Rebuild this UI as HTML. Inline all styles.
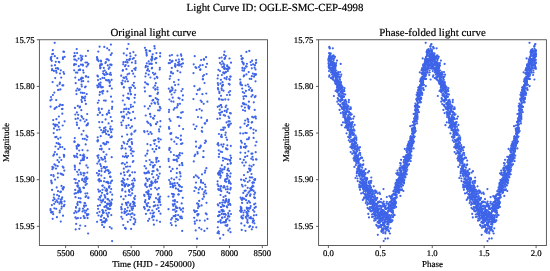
<!DOCTYPE html>
<html><head><meta charset="utf-8"><title>Light Curve ID: OGLE-SMC-CEP-4998</title>
<style>
html,body{margin:0;padding:0;background:#fff;width:550px;height:271px;overflow:hidden}
svg{display:block}
text{font-family:'Liberation Serif','Times New Roman',serif;fill:#000;stroke:#000;stroke-width:0.2px;text-rendering:geometricPrecision}
.st{font-size:10.85px}
.at{font-size:10.9px}
.tk{font-size:8.7px}
.lb{font-size:9px}
</style></head><body>
<svg width="550" height="271" viewBox="0 0 550 271"><defs><clipPath id="cl"><rect x="39.4" y="39.75" width="228.1" height="205.75"/></clipPath><clipPath id="cr"><rect x="318.6" y="39.75" width="227.79999999999995" height="205.75"/></clipPath></defs>
<g clip-path="url(#cl)">
<g fill="#3e64e8"><circle cx="62.7" cy="125.5" r="1.1"/><circle cx="54.1" cy="154.4" r="1.1"/><circle cx="56.2" cy="100.1" r="1.1"/><circle cx="61.5" cy="201.8" r="1.1"/><circle cx="50.8" cy="57.8" r="1.1"/><circle cx="61.9" cy="109.0" r="1.1"/><circle cx="54.0" cy="194.6" r="1.1"/><circle cx="50.6" cy="106.7" r="1.1"/><circle cx="60.3" cy="202.1" r="1.1"/><circle cx="52.0" cy="70.2" r="1.1"/><circle cx="60.8" cy="70.3" r="1.1"/><circle cx="59.3" cy="62.3" r="1.1"/><circle cx="63.1" cy="189.4" r="1.1"/><circle cx="64.5" cy="201.3" r="1.1"/><circle cx="60.3" cy="192.1" r="1.1"/><circle cx="53.7" cy="133.1" r="1.1"/><circle cx="60.7" cy="199.6" r="1.1"/><circle cx="64.6" cy="121.3" r="1.1"/><circle cx="61.1" cy="201.7" r="1.1"/><circle cx="53.8" cy="197.5" r="1.1"/><circle cx="64.7" cy="56.8" r="1.1"/><circle cx="63.5" cy="167.7" r="1.1"/><circle cx="52.8" cy="50.2" r="1.1"/><circle cx="53.3" cy="155.7" r="1.1"/><circle cx="63.8" cy="154.8" r="1.1"/><circle cx="60.5" cy="137.6" r="1.1"/><circle cx="57.8" cy="177.5" r="1.1"/><circle cx="58.4" cy="143.4" r="1.1"/><circle cx="53.4" cy="167.7" r="1.1"/><circle cx="54.8" cy="56.2" r="1.1"/><circle cx="52.1" cy="189.9" r="1.1"/><circle cx="58.6" cy="126.8" r="1.1"/><circle cx="58.3" cy="148.9" r="1.1"/><circle cx="54.4" cy="208.3" r="1.1"/><circle cx="59.6" cy="157.5" r="1.1"/><circle cx="54.8" cy="125.1" r="1.1"/><circle cx="62.5" cy="188.4" r="1.1"/><circle cx="51.4" cy="56.8" r="1.1"/><circle cx="61.1" cy="201.5" r="1.1"/><circle cx="54.9" cy="152.0" r="1.1"/><circle cx="64.0" cy="156.8" r="1.1"/><circle cx="56.6" cy="107.2" r="1.1"/><circle cx="60.9" cy="191.7" r="1.1"/><circle cx="64.6" cy="149.1" r="1.1"/><circle cx="61.3" cy="160.0" r="1.1"/><circle cx="55.2" cy="108.1" r="1.1"/><circle cx="62.5" cy="108.9" r="1.1"/><circle cx="50.8" cy="59.6" r="1.1"/><circle cx="60.0" cy="73.5" r="1.1"/><circle cx="51.2" cy="212.5" r="1.1"/><circle cx="52.3" cy="54.2" r="1.1"/><circle cx="64.2" cy="155.7" r="1.1"/><circle cx="53.1" cy="53.8" r="1.1"/><circle cx="55.8" cy="61.8" r="1.1"/><circle cx="56.8" cy="200.3" r="1.1"/><circle cx="55.1" cy="179.6" r="1.1"/><circle cx="60.2" cy="104.7" r="1.1"/><circle cx="54.6" cy="199.2" r="1.1"/><circle cx="57.7" cy="166.2" r="1.1"/><circle cx="59.9" cy="144.6" r="1.1"/><circle cx="52.0" cy="212.1" r="1.1"/><circle cx="55.7" cy="165.4" r="1.1"/><circle cx="56.5" cy="72.7" r="1.1"/><circle cx="57.3" cy="125.0" r="1.1"/><circle cx="58.0" cy="90.0" r="1.1"/><circle cx="58.9" cy="116.5" r="1.1"/><circle cx="62.3" cy="113.7" r="1.1"/><circle cx="62.1" cy="105.1" r="1.1"/><circle cx="55.5" cy="146.5" r="1.1"/><circle cx="52.4" cy="166.9" r="1.1"/><circle cx="51.2" cy="180.6" r="1.1"/><circle cx="55.3" cy="137.2" r="1.1"/><circle cx="58.0" cy="191.2" r="1.1"/><circle cx="57.0" cy="154.4" r="1.1"/><circle cx="55.9" cy="68.3" r="1.1"/><circle cx="50.5" cy="209.0" r="1.1"/><circle cx="59.1" cy="196.2" r="1.1"/><circle cx="53.6" cy="176.3" r="1.1"/><circle cx="51.8" cy="183.3" r="1.1"/><circle cx="53.4" cy="175.0" r="1.1"/><circle cx="57.6" cy="68.1" r="1.1"/><circle cx="51.7" cy="65.7" r="1.1"/><circle cx="56.0" cy="168.6" r="1.1"/><circle cx="55.0" cy="65.2" r="1.1"/><circle cx="57.7" cy="202.1" r="1.1"/><circle cx="58.8" cy="61.8" r="1.1"/><circle cx="55.4" cy="126.2" r="1.1"/><circle cx="63.2" cy="174.9" r="1.1"/><circle cx="63.0" cy="57.3" r="1.1"/><circle cx="54.2" cy="203.8" r="1.1"/><circle cx="64.4" cy="204.8" r="1.1"/><circle cx="57.9" cy="173.3" r="1.1"/><circle cx="56.6" cy="143.1" r="1.1"/><circle cx="54.0" cy="128.4" r="1.1"/><circle cx="51.6" cy="99.5" r="1.1"/><circle cx="59.8" cy="210.7" r="1.1"/><circle cx="52.4" cy="169.2" r="1.1"/><circle cx="52.6" cy="82.1" r="1.1"/><circle cx="56.7" cy="187.4" r="1.1"/><circle cx="54.4" cy="164.4" r="1.1"/><circle cx="63.9" cy="206.2" r="1.1"/><circle cx="59.9" cy="82.7" r="1.1"/><circle cx="51.9" cy="205.1" r="1.1"/><circle cx="61.5" cy="185.9" r="1.1"/><circle cx="56.2" cy="208.8" r="1.1"/><circle cx="51.0" cy="97.1" r="1.1"/><circle cx="56.4" cy="136.9" r="1.1"/><circle cx="59.0" cy="162.1" r="1.1"/><circle cx="52.2" cy="69.1" r="1.1"/><circle cx="51.8" cy="60.8" r="1.1"/><circle cx="53.9" cy="70.9" r="1.1"/><circle cx="50.9" cy="58.9" r="1.1"/><circle cx="61.4" cy="208.6" r="1.1"/><circle cx="60.8" cy="221.6" r="1.1"/><circle cx="54.5" cy="109.0" r="1.1"/><circle cx="60.1" cy="147.2" r="1.1"/><circle cx="57.4" cy="85.7" r="1.1"/><circle cx="52.8" cy="212.0" r="1.1"/><circle cx="62.8" cy="105.0" r="1.1"/><circle cx="58.7" cy="89.8" r="1.1"/><circle cx="51.5" cy="182.2" r="1.1"/><circle cx="59.0" cy="122.7" r="1.1"/><circle cx="62.3" cy="147.1" r="1.1"/><circle cx="62.9" cy="58.9" r="1.1"/><circle cx="50.4" cy="100.4" r="1.1"/><circle cx="53.2" cy="120.1" r="1.1"/><circle cx="57.5" cy="160.2" r="1.1"/><circle cx="64.1" cy="73.8" r="1.1"/><circle cx="63.7" cy="187.2" r="1.1"/><circle cx="60.6" cy="173.5" r="1.1"/><circle cx="57.3" cy="58.2" r="1.1"/><circle cx="61.2" cy="77.6" r="1.1"/><circle cx="56.9" cy="217.2" r="1.1"/><circle cx="51.1" cy="175.0" r="1.1"/><circle cx="61.8" cy="206.7" r="1.1"/><circle cx="64.0" cy="51.8" r="1.1"/><circle cx="59.7" cy="212.5" r="1.1"/><circle cx="54.3" cy="92.6" r="1.1"/><circle cx="63.4" cy="51.7" r="1.1"/><circle cx="51.3" cy="212.3" r="1.1"/><circle cx="52.7" cy="218.8" r="1.1"/><circle cx="55.6" cy="201.8" r="1.1"/><circle cx="59.4" cy="129.5" r="1.1"/><circle cx="63.6" cy="187.7" r="1.1"/><circle cx="61.7" cy="203.6" r="1.1"/><circle cx="50.6" cy="210.4" r="1.1"/><circle cx="59.4" cy="203.7" r="1.1"/><circle cx="57.1" cy="195.0" r="1.1"/><circle cx="55.2" cy="78.1" r="1.1"/><circle cx="58.6" cy="143.9" r="1.1"/><circle cx="63.5" cy="72.1" r="1.1"/><circle cx="59.2" cy="106.2" r="1.1"/><circle cx="62.0" cy="174.3" r="1.1"/><circle cx="63.3" cy="85.3" r="1.1"/><circle cx="52.9" cy="95.0" r="1.1"/><circle cx="57.1" cy="130.0" r="1.1"/><circle cx="62.4" cy="85.4" r="1.1"/><circle cx="53.0" cy="200.3" r="1.1"/><circle cx="61.4" cy="174.1" r="1.1"/><circle cx="60.4" cy="89.4" r="1.1"/><circle cx="56.4" cy="119.2" r="1.1"/><circle cx="53.2" cy="214.2" r="1.1"/><circle cx="58.2" cy="68.9" r="1.1"/><circle cx="62.2" cy="197.4" r="1.1"/><circle cx="53.5" cy="124.2" r="1.1"/><circle cx="59.6" cy="84.0" r="1.1"/><circle cx="54.7" cy="42.8" r="1.1"/><circle cx="63.0" cy="215.7" r="1.1"/><circle cx="56.1" cy="70.9" r="1.1"/><circle cx="55.8" cy="124.7" r="1.1"/><circle cx="58.2" cy="138.8" r="1.1"/><circle cx="58.5" cy="198.6" r="1.1"/><circle cx="62.7" cy="166.7" r="1.1"/><circle cx="64.3" cy="170.6" r="1.1"/><circle cx="61.8" cy="199.0" r="1.1"/><circle cx="88.0" cy="123.3" r="1.1"/><circle cx="75.2" cy="189.9" r="1.1"/><circle cx="75.0" cy="107.9" r="1.1"/><circle cx="87.9" cy="214.6" r="1.1"/><circle cx="75.9" cy="64.3" r="1.1"/><circle cx="81.0" cy="78.5" r="1.1"/><circle cx="74.8" cy="138.1" r="1.1"/><circle cx="86.4" cy="125.5" r="1.1"/><circle cx="86.0" cy="181.0" r="1.1"/><circle cx="85.6" cy="185.0" r="1.1"/><circle cx="75.3" cy="77.6" r="1.1"/><circle cx="80.1" cy="69.9" r="1.1"/><circle cx="76.9" cy="148.7" r="1.1"/><circle cx="77.8" cy="202.1" r="1.1"/><circle cx="82.8" cy="64.5" r="1.1"/><circle cx="87.8" cy="65.0" r="1.1"/><circle cx="74.4" cy="179.1" r="1.1"/><circle cx="79.0" cy="181.1" r="1.1"/><circle cx="85.7" cy="144.4" r="1.1"/><circle cx="75.3" cy="114.5" r="1.1"/><circle cx="77.1" cy="53.1" r="1.1"/><circle cx="74.5" cy="141.9" r="1.1"/><circle cx="85.4" cy="193.5" r="1.1"/><circle cx="83.4" cy="173.1" r="1.1"/><circle cx="86.2" cy="196.1" r="1.1"/><circle cx="84.3" cy="218.0" r="1.1"/><circle cx="88.2" cy="77.2" r="1.1"/><circle cx="84.6" cy="98.5" r="1.1"/><circle cx="88.2" cy="81.5" r="1.1"/><circle cx="80.0" cy="106.7" r="1.1"/><circle cx="77.3" cy="203.8" r="1.1"/><circle cx="86.6" cy="66.6" r="1.1"/><circle cx="87.3" cy="172.6" r="1.1"/><circle cx="83.3" cy="187.5" r="1.1"/><circle cx="84.7" cy="217.9" r="1.1"/><circle cx="87.1" cy="157.9" r="1.1"/><circle cx="74.3" cy="59.5" r="1.1"/><circle cx="78.5" cy="145.4" r="1.1"/><circle cx="81.8" cy="86.4" r="1.1"/><circle cx="77.1" cy="153.8" r="1.1"/><circle cx="83.8" cy="154.6" r="1.1"/><circle cx="85.5" cy="62.5" r="1.1"/><circle cx="81.0" cy="64.7" r="1.1"/><circle cx="76.6" cy="60.6" r="1.1"/><circle cx="82.6" cy="211.4" r="1.1"/><circle cx="74.6" cy="193.7" r="1.1"/><circle cx="75.4" cy="217.4" r="1.1"/><circle cx="87.0" cy="62.5" r="1.1"/><circle cx="80.9" cy="160.6" r="1.1"/><circle cx="77.9" cy="118.4" r="1.1"/><circle cx="84.0" cy="157.9" r="1.1"/><circle cx="82.4" cy="178.8" r="1.1"/><circle cx="79.0" cy="128.2" r="1.1"/><circle cx="74.1" cy="155.8" r="1.1"/><circle cx="78.4" cy="211.3" r="1.1"/><circle cx="86.7" cy="94.1" r="1.1"/><circle cx="81.1" cy="60.5" r="1.1"/><circle cx="83.7" cy="216.2" r="1.1"/><circle cx="74.0" cy="56.4" r="1.1"/><circle cx="82.9" cy="78.1" r="1.1"/><circle cx="85.1" cy="203.3" r="1.1"/><circle cx="88.0" cy="50.8" r="1.1"/><circle cx="87.6" cy="218.1" r="1.1"/><circle cx="79.8" cy="201.8" r="1.1"/><circle cx="82.0" cy="96.9" r="1.1"/><circle cx="76.6" cy="146.2" r="1.1"/><circle cx="86.3" cy="177.1" r="1.1"/><circle cx="77.4" cy="185.7" r="1.1"/><circle cx="80.8" cy="92.6" r="1.1"/><circle cx="76.9" cy="112.4" r="1.1"/><circle cx="76.8" cy="122.7" r="1.1"/><circle cx="86.8" cy="214.0" r="1.1"/><circle cx="77.0" cy="124.9" r="1.1"/><circle cx="86.5" cy="119.9" r="1.1"/><circle cx="79.3" cy="210.4" r="1.1"/><circle cx="81.6" cy="134.4" r="1.1"/><circle cx="78.1" cy="185.6" r="1.1"/><circle cx="80.4" cy="120.4" r="1.1"/><circle cx="76.3" cy="90.7" r="1.1"/><circle cx="86.2" cy="210.7" r="1.1"/><circle cx="85.8" cy="56.0" r="1.1"/><circle cx="79.6" cy="107.4" r="1.1"/><circle cx="75.6" cy="182.9" r="1.1"/><circle cx="76.8" cy="148.0" r="1.1"/><circle cx="75.5" cy="197.2" r="1.1"/><circle cx="85.8" cy="76.3" r="1.1"/><circle cx="78.3" cy="174.7" r="1.1"/><circle cx="84.8" cy="138.9" r="1.1"/><circle cx="82.7" cy="158.3" r="1.1"/><circle cx="87.2" cy="114.0" r="1.1"/><circle cx="76.0" cy="193.2" r="1.1"/><circle cx="87.5" cy="124.9" r="1.1"/><circle cx="84.3" cy="206.7" r="1.1"/><circle cx="75.7" cy="229.4" r="1.1"/><circle cx="86.4" cy="165.4" r="1.1"/><circle cx="84.1" cy="205.5" r="1.1"/><circle cx="75.6" cy="118.9" r="1.1"/><circle cx="76.7" cy="49.1" r="1.1"/><circle cx="84.8" cy="121.5" r="1.1"/><circle cx="83.3" cy="97.6" r="1.1"/><circle cx="82.3" cy="160.0" r="1.1"/><circle cx="87.2" cy="124.5" r="1.1"/><circle cx="83.6" cy="72.6" r="1.1"/><circle cx="83.2" cy="81.1" r="1.1"/><circle cx="86.9" cy="178.9" r="1.1"/><circle cx="87.4" cy="136.9" r="1.1"/><circle cx="82.2" cy="97.9" r="1.1"/><circle cx="79.9" cy="163.4" r="1.1"/><circle cx="83.5" cy="130.8" r="1.1"/><circle cx="79.9" cy="69.5" r="1.1"/><circle cx="80.5" cy="198.4" r="1.1"/><circle cx="75.5" cy="211.1" r="1.1"/><circle cx="74.8" cy="156.9" r="1.1"/><circle cx="75.2" cy="55.8" r="1.1"/><circle cx="78.3" cy="191.9" r="1.1"/><circle cx="80.2" cy="225.5" r="1.1"/><circle cx="86.4" cy="135.5" r="1.1"/><circle cx="80.6" cy="55.6" r="1.1"/><circle cx="86.0" cy="205.6" r="1.1"/><circle cx="82.1" cy="180.1" r="1.1"/><circle cx="78.7" cy="198.0" r="1.1"/><circle cx="86.8" cy="183.8" r="1.1"/><circle cx="78.0" cy="192.6" r="1.1"/><circle cx="74.4" cy="64.2" r="1.1"/><circle cx="81.1" cy="174.3" r="1.1"/><circle cx="81.2" cy="79.6" r="1.1"/><circle cx="80.2" cy="191.7" r="1.1"/><circle cx="88.4" cy="197.3" r="1.1"/><circle cx="81.5" cy="84.5" r="1.1"/><circle cx="79.2" cy="150.5" r="1.1"/><circle cx="85.3" cy="226.0" r="1.1"/><circle cx="83.9" cy="181.4" r="1.1"/><circle cx="79.5" cy="187.8" r="1.1"/><circle cx="77.8" cy="105.9" r="1.1"/><circle cx="85.2" cy="212.7" r="1.1"/><circle cx="77.6" cy="186.6" r="1.1"/><circle cx="80.1" cy="189.5" r="1.1"/><circle cx="84.5" cy="156.5" r="1.1"/><circle cx="77.9" cy="218.1" r="1.1"/><circle cx="81.3" cy="57.8" r="1.1"/><circle cx="79.3" cy="228.8" r="1.1"/><circle cx="79.1" cy="169.8" r="1.1"/><circle cx="78.7" cy="70.2" r="1.1"/><circle cx="88.3" cy="198.1" r="1.1"/><circle cx="88.4" cy="214.4" r="1.1"/><circle cx="74.9" cy="167.0" r="1.1"/><circle cx="83.1" cy="159.8" r="1.1"/><circle cx="76.5" cy="212.4" r="1.1"/><circle cx="83.7" cy="175.5" r="1.1"/><circle cx="74.5" cy="141.4" r="1.1"/><circle cx="87.6" cy="150.5" r="1.1"/><circle cx="85.0" cy="100.5" r="1.1"/><circle cx="81.7" cy="81.4" r="1.1"/><circle cx="82.9" cy="65.5" r="1.1"/><circle cx="84.2" cy="93.0" r="1.1"/><circle cx="78.8" cy="90.1" r="1.1"/><circle cx="85.9" cy="103.9" r="1.1"/><circle cx="84.7" cy="179.5" r="1.1"/><circle cx="82.4" cy="56.3" r="1.1"/><circle cx="82.5" cy="150.1" r="1.1"/><circle cx="78.2" cy="145.8" r="1.1"/><circle cx="75.8" cy="179.5" r="1.1"/><circle cx="85.3" cy="182.4" r="1.1"/><circle cx="82.5" cy="92.9" r="1.1"/><circle cx="84.0" cy="187.9" r="1.1"/><circle cx="81.3" cy="110.2" r="1.1"/><circle cx="77.5" cy="88.5" r="1.1"/><circle cx="77.3" cy="157.3" r="1.1"/><circle cx="78.5" cy="190.5" r="1.1"/><circle cx="86.1" cy="76.4" r="1.1"/><circle cx="78.6" cy="58.6" r="1.1"/><circle cx="74.0" cy="65.1" r="1.1"/><circle cx="74.7" cy="165.7" r="1.1"/><circle cx="87.3" cy="193.3" r="1.1"/><circle cx="85.5" cy="197.0" r="1.1"/><circle cx="88.4" cy="63.8" r="1.1"/><circle cx="83.6" cy="155.8" r="1.1"/><circle cx="84.4" cy="210.6" r="1.1"/><circle cx="81.8" cy="77.7" r="1.1"/><circle cx="82.8" cy="138.8" r="1.1"/><circle cx="80.3" cy="155.0" r="1.1"/><circle cx="86.7" cy="139.8" r="1.1"/><circle cx="87.8" cy="167.6" r="1.1"/><circle cx="81.4" cy="100.0" r="1.1"/><circle cx="88.1" cy="233.5" r="1.1"/><circle cx="79.2" cy="145.3" r="1.1"/><circle cx="76.3" cy="156.0" r="1.1"/><circle cx="84.5" cy="203.0" r="1.1"/><circle cx="75.9" cy="72.5" r="1.1"/><circle cx="75.1" cy="59.5" r="1.1"/><circle cx="79.5" cy="208.7" r="1.1"/><circle cx="79.7" cy="89.4" r="1.1"/><circle cx="76.0" cy="207.7" r="1.1"/><circle cx="76.1" cy="207.2" r="1.1"/><circle cx="83.1" cy="70.3" r="1.1"/><circle cx="76.5" cy="94.1" r="1.1"/><circle cx="82.0" cy="117.1" r="1.1"/><circle cx="77.2" cy="171.8" r="1.1"/><circle cx="77.3" cy="72.7" r="1.1"/><circle cx="85.7" cy="86.5" r="1.1"/><circle cx="79.7" cy="191.0" r="1.1"/><circle cx="85.1" cy="178.3" r="1.1"/><circle cx="81.9" cy="101.9" r="1.1"/><circle cx="79.4" cy="188.3" r="1.1"/><circle cx="87.7" cy="209.2" r="1.1"/><circle cx="81.6" cy="59.4" r="1.1"/><circle cx="80.7" cy="218.0" r="1.1"/><circle cx="75.7" cy="83.2" r="1.1"/><circle cx="83.0" cy="208.7" r="1.1"/><circle cx="84.6" cy="173.4" r="1.1"/><circle cx="76.4" cy="218.6" r="1.1"/><circle cx="74.2" cy="70.3" r="1.1"/><circle cx="80.4" cy="192.3" r="1.1"/><circle cx="80.5" cy="202.4" r="1.1"/><circle cx="81.4" cy="116.0" r="1.1"/><circle cx="82.1" cy="59.0" r="1.1"/><circle cx="78.9" cy="79.9" r="1.1"/><circle cx="85.2" cy="96.7" r="1.1"/><circle cx="75.0" cy="169.4" r="1.1"/><circle cx="78.2" cy="114.8" r="1.1"/><circle cx="87.0" cy="215.4" r="1.1"/><circle cx="74.6" cy="53.1" r="1.1"/><circle cx="76.2" cy="223.9" r="1.1"/><circle cx="77.7" cy="205.0" r="1.1"/><circle cx="87.5" cy="178.5" r="1.1"/><circle cx="83.4" cy="118.8" r="1.1"/><circle cx="82.6" cy="155.5" r="1.1"/><circle cx="77.5" cy="183.2" r="1.1"/><circle cx="85.0" cy="87.3" r="1.1"/><circle cx="80.8" cy="191.5" r="1.1"/><circle cx="74.2" cy="213.1" r="1.1"/><circle cx="80.6" cy="172.6" r="1.1"/><circle cx="78.0" cy="144.7" r="1.1"/><circle cx="83.9" cy="159.8" r="1.1"/><circle cx="78.8" cy="66.2" r="1.1"/><circle cx="105.4" cy="63.1" r="1.1"/><circle cx="97.1" cy="221.8" r="1.1"/><circle cx="106.0" cy="80.1" r="1.1"/><circle cx="101.8" cy="64.2" r="1.1"/><circle cx="101.0" cy="216.7" r="1.1"/><circle cx="100.4" cy="79.0" r="1.1"/><circle cx="101.8" cy="108.9" r="1.1"/><circle cx="107.1" cy="203.8" r="1.1"/><circle cx="106.4" cy="74.3" r="1.1"/><circle cx="98.4" cy="180.1" r="1.1"/><circle cx="110.5" cy="183.2" r="1.1"/><circle cx="104.3" cy="46.9" r="1.1"/><circle cx="104.7" cy="75.1" r="1.1"/><circle cx="110.1" cy="64.6" r="1.1"/><circle cx="106.1" cy="72.4" r="1.1"/><circle cx="109.0" cy="110.5" r="1.1"/><circle cx="106.3" cy="205.8" r="1.1"/><circle cx="112.3" cy="129.3" r="1.1"/><circle cx="111.6" cy="228.4" r="1.1"/><circle cx="107.0" cy="80.3" r="1.1"/><circle cx="102.0" cy="91.7" r="1.1"/><circle cx="104.0" cy="100.5" r="1.1"/><circle cx="109.0" cy="186.5" r="1.1"/><circle cx="110.5" cy="72.8" r="1.1"/><circle cx="98.0" cy="76.5" r="1.1"/><circle cx="106.9" cy="114.2" r="1.1"/><circle cx="111.0" cy="96.7" r="1.1"/><circle cx="98.1" cy="208.8" r="1.1"/><circle cx="97.0" cy="57.2" r="1.1"/><circle cx="97.6" cy="59.5" r="1.1"/><circle cx="106.8" cy="141.9" r="1.1"/><circle cx="107.7" cy="208.7" r="1.1"/><circle cx="103.7" cy="130.5" r="1.1"/><circle cx="104.2" cy="74.3" r="1.1"/><circle cx="99.4" cy="181.4" r="1.1"/><circle cx="106.3" cy="182.2" r="1.1"/><circle cx="98.2" cy="189.6" r="1.1"/><circle cx="111.2" cy="132.2" r="1.1"/><circle cx="105.1" cy="131.9" r="1.1"/><circle cx="100.5" cy="67.5" r="1.1"/><circle cx="103.1" cy="73.5" r="1.1"/><circle cx="100.4" cy="64.3" r="1.1"/><circle cx="104.3" cy="78.2" r="1.1"/><circle cx="110.6" cy="126.5" r="1.1"/><circle cx="112.0" cy="108.8" r="1.1"/><circle cx="112.1" cy="180.5" r="1.1"/><circle cx="99.7" cy="197.0" r="1.1"/><circle cx="98.8" cy="108.4" r="1.1"/><circle cx="100.9" cy="166.1" r="1.1"/><circle cx="109.9" cy="206.0" r="1.1"/><circle cx="99.6" cy="94.8" r="1.1"/><circle cx="97.5" cy="140.5" r="1.1"/><circle cx="107.5" cy="74.0" r="1.1"/><circle cx="106.4" cy="154.6" r="1.1"/><circle cx="103.2" cy="90.9" r="1.1"/><circle cx="110.7" cy="117.1" r="1.1"/><circle cx="107.4" cy="91.4" r="1.1"/><circle cx="109.1" cy="187.7" r="1.1"/><circle cx="100.6" cy="220.0" r="1.1"/><circle cx="110.7" cy="129.8" r="1.1"/><circle cx="110.3" cy="204.0" r="1.1"/><circle cx="97.3" cy="58.4" r="1.1"/><circle cx="108.4" cy="171.0" r="1.1"/><circle cx="107.8" cy="203.6" r="1.1"/><circle cx="111.5" cy="65.1" r="1.1"/><circle cx="100.0" cy="65.9" r="1.1"/><circle cx="102.0" cy="222.3" r="1.1"/><circle cx="111.2" cy="64.5" r="1.1"/><circle cx="106.6" cy="59.3" r="1.1"/><circle cx="98.8" cy="100.5" r="1.1"/><circle cx="106.9" cy="114.5" r="1.1"/><circle cx="108.0" cy="216.6" r="1.1"/><circle cx="106.1" cy="219.2" r="1.1"/><circle cx="107.4" cy="193.7" r="1.1"/><circle cx="111.6" cy="79.8" r="1.1"/><circle cx="103.0" cy="212.0" r="1.1"/><circle cx="107.6" cy="215.1" r="1.1"/><circle cx="109.4" cy="203.7" r="1.1"/><circle cx="105.7" cy="129.9" r="1.1"/><circle cx="109.6" cy="82.7" r="1.1"/><circle cx="109.1" cy="134.8" r="1.1"/><circle cx="110.9" cy="44.6" r="1.1"/><circle cx="103.9" cy="167.1" r="1.1"/><circle cx="108.1" cy="80.6" r="1.1"/><circle cx="99.6" cy="46.7" r="1.1"/><circle cx="106.2" cy="133.9" r="1.1"/><circle cx="101.5" cy="149.6" r="1.1"/><circle cx="110.8" cy="54.9" r="1.1"/><circle cx="110.0" cy="85.7" r="1.1"/><circle cx="102.1" cy="200.7" r="1.1"/><circle cx="106.7" cy="190.9" r="1.1"/><circle cx="97.9" cy="205.8" r="1.1"/><circle cx="98.5" cy="199.3" r="1.1"/><circle cx="104.7" cy="70.5" r="1.1"/><circle cx="105.6" cy="190.4" r="1.1"/><circle cx="111.2" cy="189.1" r="1.1"/><circle cx="98.0" cy="80.1" r="1.1"/><circle cx="103.4" cy="143.4" r="1.1"/><circle cx="103.0" cy="159.6" r="1.1"/><circle cx="109.5" cy="200.8" r="1.1"/><circle cx="107.9" cy="131.3" r="1.1"/><circle cx="108.2" cy="142.3" r="1.1"/><circle cx="109.8" cy="227.0" r="1.1"/><circle cx="105.3" cy="197.7" r="1.1"/><circle cx="98.8" cy="110.0" r="1.1"/><circle cx="105.9" cy="62.0" r="1.1"/><circle cx="101.2" cy="157.8" r="1.1"/><circle cx="110.6" cy="176.9" r="1.1"/><circle cx="108.4" cy="134.8" r="1.1"/><circle cx="102.3" cy="122.2" r="1.1"/><circle cx="102.6" cy="93.4" r="1.1"/><circle cx="100.5" cy="200.4" r="1.1"/><circle cx="101.1" cy="61.5" r="1.1"/><circle cx="97.4" cy="59.9" r="1.1"/><circle cx="103.5" cy="132.0" r="1.1"/><circle cx="106.6" cy="213.3" r="1.1"/><circle cx="97.2" cy="85.5" r="1.1"/><circle cx="111.5" cy="137.1" r="1.1"/><circle cx="111.3" cy="181.3" r="1.1"/><circle cx="101.0" cy="180.9" r="1.1"/><circle cx="99.9" cy="112.7" r="1.1"/><circle cx="99.8" cy="112.5" r="1.1"/><circle cx="99.3" cy="179.2" r="1.1"/><circle cx="104.4" cy="206.9" r="1.1"/><circle cx="105.5" cy="206.4" r="1.1"/><circle cx="106.8" cy="207.4" r="1.1"/><circle cx="99.1" cy="174.0" r="1.1"/><circle cx="98.5" cy="215.5" r="1.1"/><circle cx="110.3" cy="208.8" r="1.1"/><circle cx="101.4" cy="87.4" r="1.1"/><circle cx="107.5" cy="199.2" r="1.1"/><circle cx="99.3" cy="170.9" r="1.1"/><circle cx="101.5" cy="202.5" r="1.1"/><circle cx="99.5" cy="160.1" r="1.1"/><circle cx="103.5" cy="221.6" r="1.1"/><circle cx="110.2" cy="203.8" r="1.1"/><circle cx="97.6" cy="141.5" r="1.1"/><circle cx="105.9" cy="170.5" r="1.1"/><circle cx="107.2" cy="193.7" r="1.1"/><circle cx="106.5" cy="188.8" r="1.1"/><circle cx="109.7" cy="74.3" r="1.1"/><circle cx="100.2" cy="68.3" r="1.1"/><circle cx="104.8" cy="156.9" r="1.1"/><circle cx="109.6" cy="186.3" r="1.1"/><circle cx="99.0" cy="170.8" r="1.1"/><circle cx="112.0" cy="199.7" r="1.1"/><circle cx="110.2" cy="172.4" r="1.1"/><circle cx="99.5" cy="211.8" r="1.1"/><circle cx="97.3" cy="163.6" r="1.1"/><circle cx="110.9" cy="205.2" r="1.1"/><circle cx="111.1" cy="202.4" r="1.1"/><circle cx="104.5" cy="195.0" r="1.1"/><circle cx="105.8" cy="210.5" r="1.1"/><circle cx="103.1" cy="212.9" r="1.1"/><circle cx="97.4" cy="155.8" r="1.1"/><circle cx="108.2" cy="199.4" r="1.1"/><circle cx="99.2" cy="122.1" r="1.1"/><circle cx="98.3" cy="175.4" r="1.1"/><circle cx="108.6" cy="123.4" r="1.1"/><circle cx="104.8" cy="171.9" r="1.1"/><circle cx="105.2" cy="196.5" r="1.1"/><circle cx="102.7" cy="185.5" r="1.1"/><circle cx="103.3" cy="71.3" r="1.1"/><circle cx="101.9" cy="215.4" r="1.1"/><circle cx="100.3" cy="164.2" r="1.1"/><circle cx="98.6" cy="61.1" r="1.1"/><circle cx="110.0" cy="176.7" r="1.1"/><circle cx="112.1" cy="241.1" r="1.1"/><circle cx="100.0" cy="205.2" r="1.1"/><circle cx="109.2" cy="209.1" r="1.1"/><circle cx="103.8" cy="212.5" r="1.1"/><circle cx="107.3" cy="181.9" r="1.1"/><circle cx="98.7" cy="161.6" r="1.1"/><circle cx="101.6" cy="168.6" r="1.1"/><circle cx="100.1" cy="191.1" r="1.1"/><circle cx="97.7" cy="137.3" r="1.1"/><circle cx="106.2" cy="143.9" r="1.1"/><circle cx="100.8" cy="60.6" r="1.1"/><circle cx="102.5" cy="77.8" r="1.1"/><circle cx="100.7" cy="136.2" r="1.1"/><circle cx="102.4" cy="185.8" r="1.1"/><circle cx="112.3" cy="101.7" r="1.1"/><circle cx="100.3" cy="85.0" r="1.1"/><circle cx="109.2" cy="50.1" r="1.1"/><circle cx="108.9" cy="173.3" r="1.1"/><circle cx="108.7" cy="68.8" r="1.1"/><circle cx="98.3" cy="51.6" r="1.1"/><circle cx="107.7" cy="59.3" r="1.1"/><circle cx="111.8" cy="53.3" r="1.1"/><circle cx="105.0" cy="221.4" r="1.1"/><circle cx="107.2" cy="48.3" r="1.1"/><circle cx="99.9" cy="149.1" r="1.1"/><circle cx="109.3" cy="113.0" r="1.1"/><circle cx="108.6" cy="208.4" r="1.1"/><circle cx="111.9" cy="121.1" r="1.1"/><circle cx="112.2" cy="194.7" r="1.1"/><circle cx="103.6" cy="151.9" r="1.1"/><circle cx="102.0" cy="192.8" r="1.1"/><circle cx="102.5" cy="115.1" r="1.1"/><circle cx="105.6" cy="119.4" r="1.1"/><circle cx="107.8" cy="65.4" r="1.1"/><circle cx="101.7" cy="148.5" r="1.1"/><circle cx="102.2" cy="159.4" r="1.1"/><circle cx="100.1" cy="197.7" r="1.1"/><circle cx="109.5" cy="67.4" r="1.1"/><circle cx="108.3" cy="183.3" r="1.1"/><circle cx="111.7" cy="136.3" r="1.1"/><circle cx="104.6" cy="167.2" r="1.1"/><circle cx="106.6" cy="220.4" r="1.1"/><circle cx="99.1" cy="83.5" r="1.1"/><circle cx="99.7" cy="127.5" r="1.1"/><circle cx="101.3" cy="175.6" r="1.1"/><circle cx="100.8" cy="145.9" r="1.1"/><circle cx="108.8" cy="80.2" r="1.1"/><circle cx="109.6" cy="86.1" r="1.1"/><circle cx="98.2" cy="157.8" r="1.1"/><circle cx="105.5" cy="161.4" r="1.1"/><circle cx="101.2" cy="195.7" r="1.1"/><circle cx="104.1" cy="128.2" r="1.1"/><circle cx="105.0" cy="158.7" r="1.1"/><circle cx="101.1" cy="130.0" r="1.1"/><circle cx="98.7" cy="86.9" r="1.1"/><circle cx="102.9" cy="200.8" r="1.1"/><circle cx="108.0" cy="204.3" r="1.1"/><circle cx="110.4" cy="137.3" r="1.1"/><circle cx="102.5" cy="189.8" r="1.1"/><circle cx="97.8" cy="102.8" r="1.1"/><circle cx="105.7" cy="100.7" r="1.1"/><circle cx="103.7" cy="167.3" r="1.1"/><circle cx="102.3" cy="210.1" r="1.1"/><circle cx="104.5" cy="178.0" r="1.1"/><circle cx="97.7" cy="87.3" r="1.1"/><circle cx="107.1" cy="190.1" r="1.1"/><circle cx="111.0" cy="74.8" r="1.1"/><circle cx="109.8" cy="81.3" r="1.1"/><circle cx="108.0" cy="182.3" r="1.1"/><circle cx="104.0" cy="227.2" r="1.1"/><circle cx="98.9" cy="191.7" r="1.1"/><circle cx="99.9" cy="92.2" r="1.1"/><circle cx="98.5" cy="155.4" r="1.1"/><circle cx="110.4" cy="192.2" r="1.1"/><circle cx="109.3" cy="149.0" r="1.1"/><circle cx="105.4" cy="127.3" r="1.1"/><circle cx="104.9" cy="144.4" r="1.1"/><circle cx="102.8" cy="210.5" r="1.1"/><circle cx="102.2" cy="224.9" r="1.1"/><circle cx="98.1" cy="140.3" r="1.1"/><circle cx="100.6" cy="82.7" r="1.1"/><circle cx="105.1" cy="202.2" r="1.1"/><circle cx="97.2" cy="213.1" r="1.1"/><circle cx="111.3" cy="215.1" r="1.1"/><circle cx="111.7" cy="157.2" r="1.1"/><circle cx="96.9" cy="173.1" r="1.1"/><circle cx="108.5" cy="170.6" r="1.1"/><circle cx="108.3" cy="182.6" r="1.1"/><circle cx="108.5" cy="112.4" r="1.1"/><circle cx="112.2" cy="106.9" r="1.1"/><circle cx="99.0" cy="84.8" r="1.1"/><circle cx="103.6" cy="143.1" r="1.1"/><circle cx="101.7" cy="64.8" r="1.1"/><circle cx="107.6" cy="170.0" r="1.1"/><circle cx="104.4" cy="187.6" r="1.1"/><circle cx="110.1" cy="128.6" r="1.1"/><circle cx="97.8" cy="114.9" r="1.1"/><circle cx="102.6" cy="132.5" r="1.1"/><circle cx="99.2" cy="179.5" r="1.1"/><circle cx="100.8" cy="86.6" r="1.1"/><circle cx="103.4" cy="222.0" r="1.1"/><circle cx="101.4" cy="220.0" r="1.1"/><circle cx="105.3" cy="168.3" r="1.1"/><circle cx="103.8" cy="67.8" r="1.1"/><circle cx="102.9" cy="212.6" r="1.1"/><circle cx="104.1" cy="218.1" r="1.1"/><circle cx="104.9" cy="222.5" r="1.1"/><circle cx="104.0" cy="181.3" r="1.1"/><circle cx="103.3" cy="199.6" r="1.1"/><circle cx="97.4" cy="75.7" r="1.1"/><circle cx="106.8" cy="167.1" r="1.1"/><circle cx="108.9" cy="212.8" r="1.1"/><circle cx="102.8" cy="87.2" r="1.1"/><circle cx="111.8" cy="88.6" r="1.1"/><circle cx="111.4" cy="203.8" r="1.1"/><circle cx="105.8" cy="220.7" r="1.1"/><circle cx="101.5" cy="171.1" r="1.1"/><circle cx="108.8" cy="60.3" r="1.1"/><circle cx="126.8" cy="79.1" r="1.1"/><circle cx="121.9" cy="84.2" r="1.1"/><circle cx="127.4" cy="171.9" r="1.1"/><circle cx="121.5" cy="82.8" r="1.1"/><circle cx="132.0" cy="126.4" r="1.1"/><circle cx="121.5" cy="209.3" r="1.1"/><circle cx="129.6" cy="113.2" r="1.1"/><circle cx="122.5" cy="148.0" r="1.1"/><circle cx="128.7" cy="98.2" r="1.1"/><circle cx="125.7" cy="65.0" r="1.1"/><circle cx="129.4" cy="185.0" r="1.1"/><circle cx="131.3" cy="119.8" r="1.1"/><circle cx="123.7" cy="87.3" r="1.1"/><circle cx="135.3" cy="219.8" r="1.1"/><circle cx="132.1" cy="143.9" r="1.1"/><circle cx="126.4" cy="108.5" r="1.1"/><circle cx="128.0" cy="186.0" r="1.1"/><circle cx="128.8" cy="195.0" r="1.1"/><circle cx="125.4" cy="184.9" r="1.1"/><circle cx="133.3" cy="185.4" r="1.1"/><circle cx="133.0" cy="106.5" r="1.1"/><circle cx="130.5" cy="203.8" r="1.1"/><circle cx="133.1" cy="111.9" r="1.1"/><circle cx="133.4" cy="52.1" r="1.1"/><circle cx="133.1" cy="206.5" r="1.1"/><circle cx="124.9" cy="186.4" r="1.1"/><circle cx="128.4" cy="66.0" r="1.1"/><circle cx="126.4" cy="128.0" r="1.1"/><circle cx="123.3" cy="225.1" r="1.1"/><circle cx="130.3" cy="214.4" r="1.1"/><circle cx="122.5" cy="218.8" r="1.1"/><circle cx="127.8" cy="207.6" r="1.1"/><circle cx="126.2" cy="76.9" r="1.1"/><circle cx="123.5" cy="142.0" r="1.1"/><circle cx="129.0" cy="190.1" r="1.1"/><circle cx="127.3" cy="97.8" r="1.1"/><circle cx="125.4" cy="191.7" r="1.1"/><circle cx="121.1" cy="112.2" r="1.1"/><circle cx="134.4" cy="131.7" r="1.1"/><circle cx="128.5" cy="44.0" r="1.1"/><circle cx="129.7" cy="58.9" r="1.1"/><circle cx="131.8" cy="142.2" r="1.1"/><circle cx="122.8" cy="100.5" r="1.1"/><circle cx="129.8" cy="59.3" r="1.1"/><circle cx="132.9" cy="187.5" r="1.1"/><circle cx="127.7" cy="166.5" r="1.1"/><circle cx="134.3" cy="68.8" r="1.1"/><circle cx="134.7" cy="199.2" r="1.1"/><circle cx="128.3" cy="213.9" r="1.1"/><circle cx="124.2" cy="109.0" r="1.1"/><circle cx="124.3" cy="143.3" r="1.1"/><circle cx="129.0" cy="190.7" r="1.1"/><circle cx="135.4" cy="130.6" r="1.1"/><circle cx="125.0" cy="66.2" r="1.1"/><circle cx="132.0" cy="213.5" r="1.1"/><circle cx="129.9" cy="205.4" r="1.1"/><circle cx="132.7" cy="155.9" r="1.1"/><circle cx="123.1" cy="120.6" r="1.1"/><circle cx="134.9" cy="118.3" r="1.1"/><circle cx="135.1" cy="94.8" r="1.1"/><circle cx="124.7" cy="104.7" r="1.1"/><circle cx="130.9" cy="107.2" r="1.1"/><circle cx="121.3" cy="122.6" r="1.1"/><circle cx="123.2" cy="182.3" r="1.1"/><circle cx="129.2" cy="73.6" r="1.1"/><circle cx="128.1" cy="156.0" r="1.1"/><circle cx="126.2" cy="203.7" r="1.1"/><circle cx="123.4" cy="62.2" r="1.1"/><circle cx="127.2" cy="48.8" r="1.1"/><circle cx="123.6" cy="111.7" r="1.1"/><circle cx="130.5" cy="56.3" r="1.1"/><circle cx="127.1" cy="144.0" r="1.1"/><circle cx="126.9" cy="59.8" r="1.1"/><circle cx="123.8" cy="53.4" r="1.1"/><circle cx="122.8" cy="163.1" r="1.1"/><circle cx="134.5" cy="203.1" r="1.1"/><circle cx="135.1" cy="88.0" r="1.1"/><circle cx="135.2" cy="222.2" r="1.1"/><circle cx="121.8" cy="212.6" r="1.1"/><circle cx="133.6" cy="186.0" r="1.1"/><circle cx="129.5" cy="191.8" r="1.1"/><circle cx="131.0" cy="87.7" r="1.1"/><circle cx="125.2" cy="228.3" r="1.1"/><circle cx="124.6" cy="186.2" r="1.1"/><circle cx="122.0" cy="184.7" r="1.1"/><circle cx="135.5" cy="63.2" r="1.1"/><circle cx="122.4" cy="189.1" r="1.1"/><circle cx="128.6" cy="170.6" r="1.1"/><circle cx="121.2" cy="75.7" r="1.1"/><circle cx="124.5" cy="211.3" r="1.1"/><circle cx="122.9" cy="70.2" r="1.1"/><circle cx="134.2" cy="224.3" r="1.1"/><circle cx="121.2" cy="207.2" r="1.1"/><circle cx="132.4" cy="180.5" r="1.1"/><circle cx="130.3" cy="91.6" r="1.1"/><circle cx="130.4" cy="127.8" r="1.1"/><circle cx="121.3" cy="216.8" r="1.1"/><circle cx="135.0" cy="205.9" r="1.1"/><circle cx="122.6" cy="185.1" r="1.1"/><circle cx="130.2" cy="146.8" r="1.1"/><circle cx="126.6" cy="55.3" r="1.1"/><circle cx="123.0" cy="178.6" r="1.1"/><circle cx="133.9" cy="58.0" r="1.1"/><circle cx="135.7" cy="67.9" r="1.1"/><circle cx="124.0" cy="116.3" r="1.1"/><circle cx="133.5" cy="201.8" r="1.1"/><circle cx="131.2" cy="188.7" r="1.1"/><circle cx="125.9" cy="202.8" r="1.1"/><circle cx="125.9" cy="156.1" r="1.1"/><circle cx="134.3" cy="203.0" r="1.1"/><circle cx="129.1" cy="60.1" r="1.1"/><circle cx="128.9" cy="99.0" r="1.1"/><circle cx="128.2" cy="112.2" r="1.1"/><circle cx="131.5" cy="133.7" r="1.1"/><circle cx="122.9" cy="156.4" r="1.1"/><circle cx="132.4" cy="151.3" r="1.1"/><circle cx="134.6" cy="97.8" r="1.1"/><circle cx="128.8" cy="108.9" r="1.1"/><circle cx="124.7" cy="156.8" r="1.1"/><circle cx="122.7" cy="70.7" r="1.1"/><circle cx="129.2" cy="146.5" r="1.1"/><circle cx="131.9" cy="62.5" r="1.1"/><circle cx="127.9" cy="81.3" r="1.1"/><circle cx="127.0" cy="210.8" r="1.1"/><circle cx="121.6" cy="181.4" r="1.1"/><circle cx="124.3" cy="38.4" r="1.1"/><circle cx="132.6" cy="85.0" r="1.1"/><circle cx="131.5" cy="139.0" r="1.1"/><circle cx="123.5" cy="77.6" r="1.1"/><circle cx="120.9" cy="173.7" r="1.1"/><circle cx="122.7" cy="80.6" r="1.1"/><circle cx="121.7" cy="125.2" r="1.1"/><circle cx="134.0" cy="203.7" r="1.1"/><circle cx="127.7" cy="202.5" r="1.1"/><circle cx="131.1" cy="228.9" r="1.1"/><circle cx="135.2" cy="196.1" r="1.1"/><circle cx="131.6" cy="217.1" r="1.1"/><circle cx="127.8" cy="221.8" r="1.1"/><circle cx="132.8" cy="162.0" r="1.1"/><circle cx="132.2" cy="193.4" r="1.1"/><circle cx="132.9" cy="201.9" r="1.1"/><circle cx="130.7" cy="150.2" r="1.1"/><circle cx="124.4" cy="213.2" r="1.1"/><circle cx="134.8" cy="76.5" r="1.1"/><circle cx="133.5" cy="204.4" r="1.1"/><circle cx="121.6" cy="209.0" r="1.1"/><circle cx="133.2" cy="73.7" r="1.1"/><circle cx="122.3" cy="83.6" r="1.1"/><circle cx="127.0" cy="157.4" r="1.1"/><circle cx="126.0" cy="166.8" r="1.1"/><circle cx="122.2" cy="190.4" r="1.1"/><circle cx="131.4" cy="148.6" r="1.1"/><circle cx="129.9" cy="89.9" r="1.1"/><circle cx="132.2" cy="190.0" r="1.1"/><circle cx="126.9" cy="162.6" r="1.1"/><circle cx="123.6" cy="199.2" r="1.1"/><circle cx="134.0" cy="218.6" r="1.1"/><circle cx="133.4" cy="161.0" r="1.1"/><circle cx="132.1" cy="70.9" r="1.1"/><circle cx="134.4" cy="214.9" r="1.1"/><circle cx="122.2" cy="116.7" r="1.1"/><circle cx="129.3" cy="87.8" r="1.1"/><circle cx="131.0" cy="120.0" r="1.1"/><circle cx="128.0" cy="141.4" r="1.1"/><circle cx="125.7" cy="212.1" r="1.1"/><circle cx="131.7" cy="208.7" r="1.1"/><circle cx="133.6" cy="224.1" r="1.1"/><circle cx="121.8" cy="163.5" r="1.1"/><circle cx="133.0" cy="208.3" r="1.1"/><circle cx="130.4" cy="219.8" r="1.1"/><circle cx="124.5" cy="77.9" r="1.1"/><circle cx="131.2" cy="153.6" r="1.1"/><circle cx="126.4" cy="69.2" r="1.1"/><circle cx="130.1" cy="53.4" r="1.1"/><circle cx="122.4" cy="181.0" r="1.1"/><circle cx="135.4" cy="70.0" r="1.1"/><circle cx="121.9" cy="145.8" r="1.1"/><circle cx="125.1" cy="186.1" r="1.1"/><circle cx="134.9" cy="172.3" r="1.1"/><circle cx="123.9" cy="183.1" r="1.1"/><circle cx="124.2" cy="179.8" r="1.1"/><circle cx="125.8" cy="228.8" r="1.1"/><circle cx="125.0" cy="209.1" r="1.1"/><circle cx="125.5" cy="148.7" r="1.1"/><circle cx="125.6" cy="196.2" r="1.1"/><circle cx="134.1" cy="198.0" r="1.1"/><circle cx="125.5" cy="61.9" r="1.1"/><circle cx="126.6" cy="114.3" r="1.1"/><circle cx="121.0" cy="196.6" r="1.1"/><circle cx="132.7" cy="58.9" r="1.1"/><circle cx="126.7" cy="205.1" r="1.1"/><circle cx="128.2" cy="93.7" r="1.1"/><circle cx="134.6" cy="102.4" r="1.1"/><circle cx="126.7" cy="214.9" r="1.1"/><circle cx="130.9" cy="94.3" r="1.1"/><circle cx="133.2" cy="183.4" r="1.1"/><circle cx="132.6" cy="213.5" r="1.1"/><circle cx="124.0" cy="87.3" r="1.1"/><circle cx="122.0" cy="136.5" r="1.1"/><circle cx="133.8" cy="86.1" r="1.1"/><circle cx="132.3" cy="172.3" r="1.1"/><circle cx="131.8" cy="184.2" r="1.1"/><circle cx="129.3" cy="139.9" r="1.1"/><circle cx="130.6" cy="195.4" r="1.1"/><circle cx="135.6" cy="55.3" r="1.1"/><circle cx="133.7" cy="151.5" r="1.1"/><circle cx="128.8" cy="184.9" r="1.1"/><circle cx="134.8" cy="180.4" r="1.1"/><circle cx="123.8" cy="168.7" r="1.1"/><circle cx="121.4" cy="148.6" r="1.1"/><circle cx="127.6" cy="179.2" r="1.1"/><circle cx="130.7" cy="94.1" r="1.1"/><circle cx="124.9" cy="184.9" r="1.1"/><circle cx="124.6" cy="175.2" r="1.1"/><circle cx="124.1" cy="117.7" r="1.1"/><circle cx="135.5" cy="61.0" r="1.1"/><circle cx="125.9" cy="153.5" r="1.1"/><circle cx="130.0" cy="175.2" r="1.1"/><circle cx="129.7" cy="210.9" r="1.1"/><circle cx="128.6" cy="125.2" r="1.1"/><circle cx="127.5" cy="62.5" r="1.1"/><circle cx="128.4" cy="118.2" r="1.1"/><circle cx="129.5" cy="175.8" r="1.1"/><circle cx="125.2" cy="227.9" r="1.1"/><circle cx="132.3" cy="209.9" r="1.1"/><circle cx="124.8" cy="164.3" r="1.1"/><circle cx="123.9" cy="172.4" r="1.1"/><circle cx="123.3" cy="95.6" r="1.1"/><circle cx="126.1" cy="109.1" r="1.1"/><circle cx="123.2" cy="64.3" r="1.1"/><circle cx="131.3" cy="206.8" r="1.1"/><circle cx="127.2" cy="134.6" r="1.1"/><circle cx="122.1" cy="204.3" r="1.1"/><circle cx="131.5" cy="134.6" r="1.1"/><circle cx="127.3" cy="62.2" r="1.1"/><circle cx="127.6" cy="74.3" r="1.1"/><circle cx="130.8" cy="104.8" r="1.1"/><circle cx="126.3" cy="125.8" r="1.1"/><circle cx="133.9" cy="82.8" r="1.1"/><circle cx="130.1" cy="166.5" r="1.1"/><circle cx="134.1" cy="178.7" r="1.1"/><circle cx="128.3" cy="202.4" r="1.1"/><circle cx="129.6" cy="139.4" r="1.1"/><circle cx="126.5" cy="184.2" r="1.1"/><circle cx="125.3" cy="81.4" r="1.1"/><circle cx="154.7" cy="78.6" r="1.1"/><circle cx="152.5" cy="171.3" r="1.1"/><circle cx="153.2" cy="165.8" r="1.1"/><circle cx="147.9" cy="69.2" r="1.1"/><circle cx="156.1" cy="149.2" r="1.1"/><circle cx="154.5" cy="143.8" r="1.1"/><circle cx="153.0" cy="213.6" r="1.1"/><circle cx="148.1" cy="220.8" r="1.1"/><circle cx="144.8" cy="208.8" r="1.1"/><circle cx="147.1" cy="70.5" r="1.1"/><circle cx="145.5" cy="200.1" r="1.1"/><circle cx="158.8" cy="141.7" r="1.1"/><circle cx="160.4" cy="121.2" r="1.1"/><circle cx="147.2" cy="172.6" r="1.1"/><circle cx="150.2" cy="113.8" r="1.1"/><circle cx="148.0" cy="84.4" r="1.1"/><circle cx="146.3" cy="192.2" r="1.1"/><circle cx="156.6" cy="146.1" r="1.1"/><circle cx="148.6" cy="74.7" r="1.1"/><circle cx="147.6" cy="180.9" r="1.1"/><circle cx="158.9" cy="211.2" r="1.1"/><circle cx="159.7" cy="173.6" r="1.1"/><circle cx="157.9" cy="199.5" r="1.1"/><circle cx="159.1" cy="147.6" r="1.1"/><circle cx="160.0" cy="166.8" r="1.1"/><circle cx="148.7" cy="61.4" r="1.1"/><circle cx="145.6" cy="67.2" r="1.1"/><circle cx="149.3" cy="178.9" r="1.1"/><circle cx="157.1" cy="99.2" r="1.1"/><circle cx="155.9" cy="123.9" r="1.1"/><circle cx="147.0" cy="205.6" r="1.1"/><circle cx="148.4" cy="171.3" r="1.1"/><circle cx="149.8" cy="197.6" r="1.1"/><circle cx="157.7" cy="102.2" r="1.1"/><circle cx="153.5" cy="166.7" r="1.1"/><circle cx="158.2" cy="99.8" r="1.1"/><circle cx="156.0" cy="198.2" r="1.1"/><circle cx="144.7" cy="106.3" r="1.1"/><circle cx="153.8" cy="140.6" r="1.1"/><circle cx="152.6" cy="216.1" r="1.1"/><circle cx="153.1" cy="118.2" r="1.1"/><circle cx="145.7" cy="115.5" r="1.1"/><circle cx="156.5" cy="58.2" r="1.1"/><circle cx="144.2" cy="194.8" r="1.1"/><circle cx="156.4" cy="162.2" r="1.1"/><circle cx="152.6" cy="149.1" r="1.1"/><circle cx="145.4" cy="76.5" r="1.1"/><circle cx="149.7" cy="160.0" r="1.1"/><circle cx="145.2" cy="202.3" r="1.1"/><circle cx="147.8" cy="210.5" r="1.1"/><circle cx="155.5" cy="182.6" r="1.1"/><circle cx="152.2" cy="217.5" r="1.1"/><circle cx="146.2" cy="161.0" r="1.1"/><circle cx="159.8" cy="67.8" r="1.1"/><circle cx="148.6" cy="134.1" r="1.1"/><circle cx="149.3" cy="218.8" r="1.1"/><circle cx="160.3" cy="126.6" r="1.1"/><circle cx="149.5" cy="50.9" r="1.1"/><circle cx="147.6" cy="193.9" r="1.1"/><circle cx="159.3" cy="198.2" r="1.1"/><circle cx="158.4" cy="194.0" r="1.1"/><circle cx="156.4" cy="53.1" r="1.1"/><circle cx="148.3" cy="108.7" r="1.1"/><circle cx="146.6" cy="54.1" r="1.1"/><circle cx="153.7" cy="206.3" r="1.1"/><circle cx="145.1" cy="82.3" r="1.1"/><circle cx="153.9" cy="224.7" r="1.1"/><circle cx="151.8" cy="63.9" r="1.1"/><circle cx="147.3" cy="179.8" r="1.1"/><circle cx="153.1" cy="167.4" r="1.1"/><circle cx="158.3" cy="104.1" r="1.1"/><circle cx="157.2" cy="158.0" r="1.1"/><circle cx="151.5" cy="103.6" r="1.1"/><circle cx="154.9" cy="59.3" r="1.1"/><circle cx="155.3" cy="73.7" r="1.1"/><circle cx="145.9" cy="213.9" r="1.1"/><circle cx="148.4" cy="190.7" r="1.1"/><circle cx="148.2" cy="203.0" r="1.1"/><circle cx="144.2" cy="131.1" r="1.1"/><circle cx="155.8" cy="83.2" r="1.1"/><circle cx="151.1" cy="185.6" r="1.1"/><circle cx="153.4" cy="220.0" r="1.1"/><circle cx="150.9" cy="125.4" r="1.1"/><circle cx="146.1" cy="178.3" r="1.1"/><circle cx="155.4" cy="140.0" r="1.1"/><circle cx="158.9" cy="188.2" r="1.1"/><circle cx="147.2" cy="121.7" r="1.1"/><circle cx="153.2" cy="99.9" r="1.1"/><circle cx="153.9" cy="212.6" r="1.1"/><circle cx="145.1" cy="173.4" r="1.1"/><circle cx="144.4" cy="172.8" r="1.1"/><circle cx="157.5" cy="93.9" r="1.1"/><circle cx="159.2" cy="131.4" r="1.1"/><circle cx="156.9" cy="175.0" r="1.1"/><circle cx="160.1" cy="56.4" r="1.1"/><circle cx="149.9" cy="185.0" r="1.1"/><circle cx="145.2" cy="184.5" r="1.1"/><circle cx="155.6" cy="179.8" r="1.1"/><circle cx="145.4" cy="185.6" r="1.1"/><circle cx="146.5" cy="173.1" r="1.1"/><circle cx="154.5" cy="140.6" r="1.1"/><circle cx="146.6" cy="204.2" r="1.1"/><circle cx="153.6" cy="171.2" r="1.1"/><circle cx="150.5" cy="213.3" r="1.1"/><circle cx="144.9" cy="47.8" r="1.1"/><circle cx="151.2" cy="59.3" r="1.1"/><circle cx="144.5" cy="195.9" r="1.1"/><circle cx="158.6" cy="176.6" r="1.1"/><circle cx="154.9" cy="181.5" r="1.1"/><circle cx="157.2" cy="169.4" r="1.1"/><circle cx="159.6" cy="110.3" r="1.1"/><circle cx="158.1" cy="110.3" r="1.1"/><circle cx="154.4" cy="46.2" r="1.1"/><circle cx="150.3" cy="164.7" r="1.1"/><circle cx="153.5" cy="87.7" r="1.1"/><circle cx="151.2" cy="182.3" r="1.1"/><circle cx="154.3" cy="151.7" r="1.1"/><circle cx="154.0" cy="216.4" r="1.1"/><circle cx="148.9" cy="194.2" r="1.1"/><circle cx="156.2" cy="124.1" r="1.1"/><circle cx="151.9" cy="56.5" r="1.1"/><circle cx="152.7" cy="54.3" r="1.1"/><circle cx="157.8" cy="170.5" r="1.1"/><circle cx="147.4" cy="144.1" r="1.1"/><circle cx="149.4" cy="63.9" r="1.1"/><circle cx="154.1" cy="74.5" r="1.1"/><circle cx="149.6" cy="96.1" r="1.1"/><circle cx="159.5" cy="199.7" r="1.1"/><circle cx="158.8" cy="202.2" r="1.1"/><circle cx="150.3" cy="124.2" r="1.1"/><circle cx="156.3" cy="159.8" r="1.1"/><circle cx="160.6" cy="204.8" r="1.1"/><circle cx="147.8" cy="66.6" r="1.1"/><circle cx="157.7" cy="205.3" r="1.1"/><circle cx="145.9" cy="73.3" r="1.1"/><circle cx="159.4" cy="199.9" r="1.1"/><circle cx="157.5" cy="87.5" r="1.1"/><circle cx="155.7" cy="98.1" r="1.1"/><circle cx="152.4" cy="58.8" r="1.1"/><circle cx="146.8" cy="63.3" r="1.1"/><circle cx="151.8" cy="68.4" r="1.1"/><circle cx="150.6" cy="145.1" r="1.1"/><circle cx="158.1" cy="194.6" r="1.1"/><circle cx="150.5" cy="132.2" r="1.1"/><circle cx="158.0" cy="178.4" r="1.1"/><circle cx="149.2" cy="71.1" r="1.1"/><circle cx="159.8" cy="106.9" r="1.1"/><circle cx="156.8" cy="76.8" r="1.1"/><circle cx="144.6" cy="166.2" r="1.1"/><circle cx="152.8" cy="162.5" r="1.1"/><circle cx="150.7" cy="96.0" r="1.1"/><circle cx="153.7" cy="118.7" r="1.1"/><circle cx="159.9" cy="202.2" r="1.1"/><circle cx="158.3" cy="138.6" r="1.1"/><circle cx="156.6" cy="158.4" r="1.1"/><circle cx="148.5" cy="191.5" r="1.1"/><circle cx="150.9" cy="63.7" r="1.1"/><circle cx="144.1" cy="207.1" r="1.1"/><circle cx="157.3" cy="122.1" r="1.1"/><circle cx="159.1" cy="201.0" r="1.1"/><circle cx="160.7" cy="139.5" r="1.1"/><circle cx="155.7" cy="58.2" r="1.1"/><circle cx="155.6" cy="89.2" r="1.1"/><circle cx="158.0" cy="92.6" r="1.1"/><circle cx="152.1" cy="67.8" r="1.1"/><circle cx="149.5" cy="186.3" r="1.1"/><circle cx="152.2" cy="57.1" r="1.1"/><circle cx="159.7" cy="69.6" r="1.1"/><circle cx="158.5" cy="207.8" r="1.1"/><circle cx="146.7" cy="83.7" r="1.1"/><circle cx="145.0" cy="201.6" r="1.1"/><circle cx="157.4" cy="77.8" r="1.1"/><circle cx="145.7" cy="183.6" r="1.1"/><circle cx="155.1" cy="85.7" r="1.1"/><circle cx="160.0" cy="221.8" r="1.1"/><circle cx="148.8" cy="196.1" r="1.1"/><circle cx="156.8" cy="220.5" r="1.1"/><circle cx="152.0" cy="57.0" r="1.1"/><circle cx="157.1" cy="181.8" r="1.1"/><circle cx="160.2" cy="196.7" r="1.1"/><circle cx="159.3" cy="147.9" r="1.1"/><circle cx="148.3" cy="122.9" r="1.1"/><circle cx="144.6" cy="87.6" r="1.1"/><circle cx="156.7" cy="209.1" r="1.1"/><circle cx="150.0" cy="114.2" r="1.1"/><circle cx="147.4" cy="131.3" r="1.1"/><circle cx="149.0" cy="172.8" r="1.1"/><circle cx="155.2" cy="187.8" r="1.1"/><circle cx="146.7" cy="55.6" r="1.1"/><circle cx="151.0" cy="189.0" r="1.1"/><circle cx="154.8" cy="165.1" r="1.1"/><circle cx="148.9" cy="209.9" r="1.1"/><circle cx="160.5" cy="108.4" r="1.1"/><circle cx="146.0" cy="65.9" r="1.1"/><circle cx="151.5" cy="184.1" r="1.1"/><circle cx="151.6" cy="181.4" r="1.1"/><circle cx="154.4" cy="102.6" r="1.1"/><circle cx="149.8" cy="207.0" r="1.1"/><circle cx="144.3" cy="207.5" r="1.1"/><circle cx="154.2" cy="206.0" r="1.1"/><circle cx="155.2" cy="89.6" r="1.1"/><circle cx="156.3" cy="157.8" r="1.1"/><circle cx="151.4" cy="185.3" r="1.1"/><circle cx="152.8" cy="183.1" r="1.1"/><circle cx="158.6" cy="138.7" r="1.1"/><circle cx="146.4" cy="52.4" r="1.1"/><circle cx="151.7" cy="60.6" r="1.1"/><circle cx="149.0" cy="198.3" r="1.1"/><circle cx="152.4" cy="100.6" r="1.1"/><circle cx="148.0" cy="192.7" r="1.1"/><circle cx="150.4" cy="77.5" r="1.1"/><circle cx="155.4" cy="205.4" r="1.1"/><circle cx="149.9" cy="106.2" r="1.1"/><circle cx="146.1" cy="168.4" r="1.1"/><circle cx="147.1" cy="153.7" r="1.1"/><circle cx="155.1" cy="103.6" r="1.1"/><circle cx="150.7" cy="116.7" r="1.1"/><circle cx="151.0" cy="194.6" r="1.1"/><circle cx="153.3" cy="177.3" r="1.1"/><circle cx="152.3" cy="210.5" r="1.1"/><circle cx="160.2" cy="53.2" r="1.1"/><circle cx="154.1" cy="202.1" r="1.1"/><circle cx="144.5" cy="132.1" r="1.1"/><circle cx="145.0" cy="91.4" r="1.1"/><circle cx="150.2" cy="197.1" r="1.1"/><circle cx="147.7" cy="150.7" r="1.1"/><circle cx="149.2" cy="199.0" r="1.1"/><circle cx="151.3" cy="162.2" r="1.1"/><circle cx="152.9" cy="72.8" r="1.1"/><circle cx="154.7" cy="48.4" r="1.1"/><circle cx="158.6" cy="161.2" r="1.1"/><circle cx="145.5" cy="155.7" r="1.1"/><circle cx="154.6" cy="115.9" r="1.1"/><circle cx="160.5" cy="213.7" r="1.1"/><circle cx="145.8" cy="50.3" r="1.1"/><circle cx="157.6" cy="89.5" r="1.1"/><circle cx="146.9" cy="187.1" r="1.1"/><circle cx="152.0" cy="174.1" r="1.1"/><circle cx="156.1" cy="62.8" r="1.1"/><circle cx="146.4" cy="50.1" r="1.1"/><circle cx="157.0" cy="189.4" r="1.1"/><circle cx="159.0" cy="129.3" r="1.1"/><circle cx="151.7" cy="133.8" r="1.1"/><circle cx="150.1" cy="51.1" r="1.1"/><circle cx="147.5" cy="206.2" r="1.1"/><circle cx="182.0" cy="59.2" r="1.1"/><circle cx="176.4" cy="207.9" r="1.1"/><circle cx="179.3" cy="61.5" r="1.1"/><circle cx="173.1" cy="187.3" r="1.1"/><circle cx="169.2" cy="128.6" r="1.1"/><circle cx="176.8" cy="219.2" r="1.1"/><circle cx="175.9" cy="225.6" r="1.1"/><circle cx="180.3" cy="72.3" r="1.1"/><circle cx="181.7" cy="203.4" r="1.1"/><circle cx="180.7" cy="209.7" r="1.1"/><circle cx="180.8" cy="117.9" r="1.1"/><circle cx="174.8" cy="201.5" r="1.1"/><circle cx="179.5" cy="179.5" r="1.1"/><circle cx="180.4" cy="191.2" r="1.1"/><circle cx="168.8" cy="63.2" r="1.1"/><circle cx="171.3" cy="133.2" r="1.1"/><circle cx="182.4" cy="143.3" r="1.1"/><circle cx="176.9" cy="107.4" r="1.1"/><circle cx="172.6" cy="168.9" r="1.1"/><circle cx="170.3" cy="76.2" r="1.1"/><circle cx="169.9" cy="60.1" r="1.1"/><circle cx="173.5" cy="101.7" r="1.1"/><circle cx="177.5" cy="117.1" r="1.1"/><circle cx="173.2" cy="200.7" r="1.1"/><circle cx="169.0" cy="127.1" r="1.1"/><circle cx="180.9" cy="135.7" r="1.1"/><circle cx="169.7" cy="147.9" r="1.1"/><circle cx="179.8" cy="172.2" r="1.1"/><circle cx="174.3" cy="183.5" r="1.1"/><circle cx="176.1" cy="160.0" r="1.1"/><circle cx="178.1" cy="215.1" r="1.1"/><circle cx="177.6" cy="70.8" r="1.1"/><circle cx="183.1" cy="208.4" r="1.1"/><circle cx="183.1" cy="129.0" r="1.1"/><circle cx="180.3" cy="173.5" r="1.1"/><circle cx="177.3" cy="65.0" r="1.1"/><circle cx="170.8" cy="223.0" r="1.1"/><circle cx="178.5" cy="97.9" r="1.1"/><circle cx="181.6" cy="64.0" r="1.1"/><circle cx="168.6" cy="158.9" r="1.1"/><circle cx="169.7" cy="78.8" r="1.1"/><circle cx="169.3" cy="149.9" r="1.1"/><circle cx="174.2" cy="216.1" r="1.1"/><circle cx="178.9" cy="65.4" r="1.1"/><circle cx="172.8" cy="204.3" r="1.1"/><circle cx="172.3" cy="184.3" r="1.1"/><circle cx="172.0" cy="55.0" r="1.1"/><circle cx="181.1" cy="143.9" r="1.1"/><circle cx="181.1" cy="209.6" r="1.1"/><circle cx="179.0" cy="190.9" r="1.1"/><circle cx="172.0" cy="193.8" r="1.1"/><circle cx="182.8" cy="112.1" r="1.1"/><circle cx="180.1" cy="64.8" r="1.1"/><circle cx="178.6" cy="117.1" r="1.1"/><circle cx="170.9" cy="171.2" r="1.1"/><circle cx="177.8" cy="104.0" r="1.1"/><circle cx="169.1" cy="180.0" r="1.1"/><circle cx="174.8" cy="108.1" r="1.1"/><circle cx="173.2" cy="194.2" r="1.1"/><circle cx="181.0" cy="54.3" r="1.1"/><circle cx="172.1" cy="218.1" r="1.1"/><circle cx="174.6" cy="183.0" r="1.1"/><circle cx="175.7" cy="215.1" r="1.1"/><circle cx="175.6" cy="211.8" r="1.1"/><circle cx="180.8" cy="139.6" r="1.1"/><circle cx="178.4" cy="157.9" r="1.1"/><circle cx="171.8" cy="87.3" r="1.1"/><circle cx="177.0" cy="168.6" r="1.1"/><circle cx="171.5" cy="178.4" r="1.1"/><circle cx="175.4" cy="66.8" r="1.1"/><circle cx="178.1" cy="189.4" r="1.1"/><circle cx="182.6" cy="59.4" r="1.1"/><circle cx="171.5" cy="61.8" r="1.1"/><circle cx="182.8" cy="211.7" r="1.1"/><circle cx="179.1" cy="64.1" r="1.1"/><circle cx="174.1" cy="194.6" r="1.1"/><circle cx="169.8" cy="55.7" r="1.1"/><circle cx="172.9" cy="196.6" r="1.1"/><circle cx="181.5" cy="216.7" r="1.1"/><circle cx="175.8" cy="206.4" r="1.1"/><circle cx="170.2" cy="182.0" r="1.1"/><circle cx="173.9" cy="155.0" r="1.1"/><circle cx="179.1" cy="154.8" r="1.1"/><circle cx="173.0" cy="73.4" r="1.1"/><circle cx="177.1" cy="207.9" r="1.1"/><circle cx="175.1" cy="85.1" r="1.1"/><circle cx="172.1" cy="61.4" r="1.1"/><circle cx="176.5" cy="177.4" r="1.1"/><circle cx="175.5" cy="90.3" r="1.1"/><circle cx="169.3" cy="128.6" r="1.1"/><circle cx="178.7" cy="194.4" r="1.1"/><circle cx="171.2" cy="71.8" r="1.1"/><circle cx="181.4" cy="190.8" r="1.1"/><circle cx="176.8" cy="173.1" r="1.1"/><circle cx="182.5" cy="99.9" r="1.1"/><circle cx="168.8" cy="88.7" r="1.1"/><circle cx="182.1" cy="163.0" r="1.1"/><circle cx="179.8" cy="155.5" r="1.1"/><circle cx="183.0" cy="63.3" r="1.1"/><circle cx="174.8" cy="204.1" r="1.1"/><circle cx="169.5" cy="148.6" r="1.1"/><circle cx="177.6" cy="156.2" r="1.1"/><circle cx="169.6" cy="166.9" r="1.1"/><circle cx="176.6" cy="144.0" r="1.1"/><circle cx="182.6" cy="89.0" r="1.1"/><circle cx="182.2" cy="153.3" r="1.1"/><circle cx="168.5" cy="209.2" r="1.1"/><circle cx="169.1" cy="109.8" r="1.1"/><circle cx="171.4" cy="139.4" r="1.1"/><circle cx="182.7" cy="197.8" r="1.1"/><circle cx="171.3" cy="101.3" r="1.1"/><circle cx="172.5" cy="88.4" r="1.1"/><circle cx="175.5" cy="221.5" r="1.1"/><circle cx="173.4" cy="196.6" r="1.1"/><circle cx="173.5" cy="159.9" r="1.1"/><circle cx="172.8" cy="186.2" r="1.1"/><circle cx="174.9" cy="200.2" r="1.1"/><circle cx="169.4" cy="99.5" r="1.1"/><circle cx="179.5" cy="165.2" r="1.1"/><circle cx="178.9" cy="184.8" r="1.1"/><circle cx="176.3" cy="207.7" r="1.1"/><circle cx="174.1" cy="179.5" r="1.1"/><circle cx="172.2" cy="183.5" r="1.1"/><circle cx="178.4" cy="84.5" r="1.1"/><circle cx="173.3" cy="205.8" r="1.1"/><circle cx="177.5" cy="55.6" r="1.1"/><circle cx="174.5" cy="92.5" r="1.1"/><circle cx="170.4" cy="133.7" r="1.1"/><circle cx="181.4" cy="91.1" r="1.1"/><circle cx="171.6" cy="94.5" r="1.1"/><circle cx="172.7" cy="97.7" r="1.1"/><circle cx="178.6" cy="79.8" r="1.1"/><circle cx="173.8" cy="204.6" r="1.1"/><circle cx="175.9" cy="188.4" r="1.1"/><circle cx="182.0" cy="218.3" r="1.1"/><circle cx="176.4" cy="155.8" r="1.1"/><circle cx="171.1" cy="72.8" r="1.1"/><circle cx="168.5" cy="196.5" r="1.1"/><circle cx="181.7" cy="66.6" r="1.1"/><circle cx="176.2" cy="137.3" r="1.1"/><circle cx="181.2" cy="112.7" r="1.1"/><circle cx="168.7" cy="161.1" r="1.1"/><circle cx="170.7" cy="133.8" r="1.1"/><circle cx="168.9" cy="112.0" r="1.1"/><circle cx="181.9" cy="187.1" r="1.1"/><circle cx="177.2" cy="161.3" r="1.1"/><circle cx="180.2" cy="186.4" r="1.1"/><circle cx="174.0" cy="82.1" r="1.1"/><circle cx="179.2" cy="125.9" r="1.1"/><circle cx="169.5" cy="119.1" r="1.1"/><circle cx="170.3" cy="90.7" r="1.1"/><circle cx="171.8" cy="67.9" r="1.1"/><circle cx="176.0" cy="60.3" r="1.1"/><circle cx="171.1" cy="219.6" r="1.1"/><circle cx="175.0" cy="65.9" r="1.1"/><circle cx="178.8" cy="59.5" r="1.1"/><circle cx="170.1" cy="91.8" r="1.1"/><circle cx="176.5" cy="211.1" r="1.1"/><circle cx="174.6" cy="209.6" r="1.1"/><circle cx="176.1" cy="218.8" r="1.1"/><circle cx="180.7" cy="139.8" r="1.1"/><circle cx="182.2" cy="230.9" r="1.1"/><circle cx="177.8" cy="105.5" r="1.1"/><circle cx="170.0" cy="63.1" r="1.1"/><circle cx="182.9" cy="95.4" r="1.1"/><circle cx="177.4" cy="183.2" r="1.1"/><circle cx="177.2" cy="202.0" r="1.1"/><circle cx="170.8" cy="152.1" r="1.1"/><circle cx="170.2" cy="184.1" r="1.1"/><circle cx="172.4" cy="60.9" r="1.1"/><circle cx="172.4" cy="90.1" r="1.1"/><circle cx="182.4" cy="165.2" r="1.1"/><circle cx="179.6" cy="98.6" r="1.1"/><circle cx="180.0" cy="103.8" r="1.1"/><circle cx="171.7" cy="225.1" r="1.1"/><circle cx="175.1" cy="64.0" r="1.1"/><circle cx="176.7" cy="159.4" r="1.1"/><circle cx="170.6" cy="187.0" r="1.1"/><circle cx="175.3" cy="185.5" r="1.1"/><circle cx="178.2" cy="62.6" r="1.1"/><circle cx="173.7" cy="109.7" r="1.1"/><circle cx="180.0" cy="216.5" r="1.1"/><circle cx="179.6" cy="207.9" r="1.1"/><circle cx="174.3" cy="141.7" r="1.1"/><circle cx="181.3" cy="55.8" r="1.1"/><circle cx="178.3" cy="194.5" r="1.1"/><circle cx="173.6" cy="216.2" r="1.1"/><circle cx="173.8" cy="185.9" r="1.1"/><circle cx="181.8" cy="163.3" r="1.1"/><circle cx="179.3" cy="185.8" r="1.1"/><circle cx="179.9" cy="153.0" r="1.1"/><circle cx="175.2" cy="216.2" r="1.1"/><circle cx="180.6" cy="176.3" r="1.1"/><circle cx="177.9" cy="219.9" r="1.1"/><circle cx="171.0" cy="90.9" r="1.1"/><circle cx="174.4" cy="159.9" r="1.1"/><circle cx="173.0" cy="209.8" r="1.1"/><circle cx="178.0" cy="138.0" r="1.1"/><circle cx="170.5" cy="120.9" r="1.1"/><circle cx="180.5" cy="218.0" r="1.1"/><circle cx="206.4" cy="168.2" r="1.1"/><circle cx="200.7" cy="145.7" r="1.1"/><circle cx="201.3" cy="117.7" r="1.1"/><circle cx="197.8" cy="90.1" r="1.1"/><circle cx="193.5" cy="73.1" r="1.1"/><circle cx="200.9" cy="182.2" r="1.1"/><circle cx="195.8" cy="175.4" r="1.1"/><circle cx="203.1" cy="182.9" r="1.1"/><circle cx="204.5" cy="83.0" r="1.1"/><circle cx="194.3" cy="191.0" r="1.1"/><circle cx="199.6" cy="109.1" r="1.1"/><circle cx="204.0" cy="196.7" r="1.1"/><circle cx="202.0" cy="174.3" r="1.1"/><circle cx="196.6" cy="109.9" r="1.1"/><circle cx="196.5" cy="126.3" r="1.1"/><circle cx="202.8" cy="79.2" r="1.1"/><circle cx="196.2" cy="188.0" r="1.1"/><circle cx="195.7" cy="230.4" r="1.1"/><circle cx="201.4" cy="229.3" r="1.1"/><circle cx="201.7" cy="101.9" r="1.1"/><circle cx="202.6" cy="198.9" r="1.1"/><circle cx="194.5" cy="156.1" r="1.1"/><circle cx="193.4" cy="99.1" r="1.1"/><circle cx="202.9" cy="76.3" r="1.1"/><circle cx="203.5" cy="151.1" r="1.1"/><circle cx="200.1" cy="187.4" r="1.1"/><circle cx="198.5" cy="214.0" r="1.1"/><circle cx="204.7" cy="123.4" r="1.1"/><circle cx="198.8" cy="189.4" r="1.1"/><circle cx="202.7" cy="65.1" r="1.1"/><circle cx="196.8" cy="220.3" r="1.1"/><circle cx="194.0" cy="210.4" r="1.1"/><circle cx="196.1" cy="146.6" r="1.1"/><circle cx="198.3" cy="204.1" r="1.1"/><circle cx="203.3" cy="157.2" r="1.1"/><circle cx="205.2" cy="123.4" r="1.1"/><circle cx="205.5" cy="140.5" r="1.1"/><circle cx="198.9" cy="67.1" r="1.1"/><circle cx="206.1" cy="57.2" r="1.1"/><circle cx="197.4" cy="176.5" r="1.1"/><circle cx="197.4" cy="152.1" r="1.1"/><circle cx="193.8" cy="161.4" r="1.1"/><circle cx="207.2" cy="228.5" r="1.1"/><circle cx="199.8" cy="220.5" r="1.1"/><circle cx="206.3" cy="93.5" r="1.1"/><circle cx="203.7" cy="103.8" r="1.1"/><circle cx="201.0" cy="180.2" r="1.1"/><circle cx="204.8" cy="220.6" r="1.1"/><circle cx="200.6" cy="146.6" r="1.1"/><circle cx="205.8" cy="213.4" r="1.1"/><circle cx="198.2" cy="214.5" r="1.1"/><circle cx="201.2" cy="182.4" r="1.1"/><circle cx="199.7" cy="88.6" r="1.1"/><circle cx="199.2" cy="227.8" r="1.1"/><circle cx="200.2" cy="65.3" r="1.1"/><circle cx="199.9" cy="147.8" r="1.1"/><circle cx="197.1" cy="203.4" r="1.1"/><circle cx="205.9" cy="141.6" r="1.1"/><circle cx="206.5" cy="202.8" r="1.1"/><circle cx="195.9" cy="141.7" r="1.1"/><circle cx="198.0" cy="117.0" r="1.1"/><circle cx="203.0" cy="79.3" r="1.1"/><circle cx="205.6" cy="186.9" r="1.1"/><circle cx="201.8" cy="110.6" r="1.1"/><circle cx="205.4" cy="190.7" r="1.1"/><circle cx="194.9" cy="223.7" r="1.1"/><circle cx="204.9" cy="172.7" r="1.1"/><circle cx="198.4" cy="206.1" r="1.1"/><circle cx="193.7" cy="64.3" r="1.1"/><circle cx="196.7" cy="94.1" r="1.1"/><circle cx="204.8" cy="143.0" r="1.1"/><circle cx="195.1" cy="128.9" r="1.1"/><circle cx="200.2" cy="69.9" r="1.1"/><circle cx="199.1" cy="147.9" r="1.1"/><circle cx="196.3" cy="68.0" r="1.1"/><circle cx="203.6" cy="194.3" r="1.1"/><circle cx="194.9" cy="212.1" r="1.1"/><circle cx="202.1" cy="127.5" r="1.1"/><circle cx="200.4" cy="69.3" r="1.1"/><circle cx="203.8" cy="59.2" r="1.1"/><circle cx="194.4" cy="86.2" r="1.1"/><circle cx="195.5" cy="211.4" r="1.1"/><circle cx="204.3" cy="192.2" r="1.1"/><circle cx="204.1" cy="59.7" r="1.1"/><circle cx="206.6" cy="74.0" r="1.1"/><circle cx="196.9" cy="211.0" r="1.1"/><circle cx="201.6" cy="205.4" r="1.1"/><circle cx="206.8" cy="121.1" r="1.1"/><circle cx="198.7" cy="177.9" r="1.1"/><circle cx="194.2" cy="217.8" r="1.1"/><circle cx="197.1" cy="238.7" r="1.1"/><circle cx="193.6" cy="124.5" r="1.1"/><circle cx="207.0" cy="63.8" r="1.1"/><circle cx="207.4" cy="101.7" r="1.1"/><circle cx="199.5" cy="89.7" r="1.1"/><circle cx="193.9" cy="177.2" r="1.1"/><circle cx="201.7" cy="131.0" r="1.1"/><circle cx="206.7" cy="214.3" r="1.1"/><circle cx="195.2" cy="187.3" r="1.1"/><circle cx="204.4" cy="230.9" r="1.1"/><circle cx="195.5" cy="67.2" r="1.1"/><circle cx="197.6" cy="215.5" r="1.1"/><circle cx="204.0" cy="75.0" r="1.1"/><circle cx="205.0" cy="184.5" r="1.1"/><circle cx="203.4" cy="157.0" r="1.1"/><circle cx="199.4" cy="206.3" r="1.1"/><circle cx="201.1" cy="60.0" r="1.1"/><circle cx="195.3" cy="154.7" r="1.1"/><circle cx="200.7" cy="100.5" r="1.1"/><circle cx="202.4" cy="94.2" r="1.1"/><circle cx="196.0" cy="182.6" r="1.1"/><circle cx="194.7" cy="56.2" r="1.1"/><circle cx="199.2" cy="200.9" r="1.1"/><circle cx="207.1" cy="120.2" r="1.1"/><circle cx="194.7" cy="221.6" r="1.1"/><circle cx="197.3" cy="214.3" r="1.1"/><circle cx="205.3" cy="170.7" r="1.1"/><circle cx="202.2" cy="131.8" r="1.1"/><circle cx="198.5" cy="192.9" r="1.1"/><circle cx="205.9" cy="67.0" r="1.1"/><circle cx="207.5" cy="218.9" r="1.1"/><circle cx="206.2" cy="193.4" r="1.1"/><circle cx="202.3" cy="189.2" r="1.1"/><circle cx="197.7" cy="153.6" r="1.1"/><circle cx="198.0" cy="208.0" r="1.1"/><circle cx="223.3" cy="63.4" r="1.1"/><circle cx="229.8" cy="79.8" r="1.1"/><circle cx="218.6" cy="174.6" r="1.1"/><circle cx="222.6" cy="85.4" r="1.1"/><circle cx="221.6" cy="99.6" r="1.1"/><circle cx="225.8" cy="214.8" r="1.1"/><circle cx="225.3" cy="99.4" r="1.1"/><circle cx="230.1" cy="160.1" r="1.1"/><circle cx="217.5" cy="233.0" r="1.1"/><circle cx="224.1" cy="186.0" r="1.1"/><circle cx="223.8" cy="115.1" r="1.1"/><circle cx="227.4" cy="224.9" r="1.1"/><circle cx="221.7" cy="107.2" r="1.1"/><circle cx="222.2" cy="202.6" r="1.1"/><circle cx="226.6" cy="110.5" r="1.1"/><circle cx="218.4" cy="186.1" r="1.1"/><circle cx="228.3" cy="204.8" r="1.1"/><circle cx="226.8" cy="206.3" r="1.1"/><circle cx="228.7" cy="126.8" r="1.1"/><circle cx="219.6" cy="171.3" r="1.1"/><circle cx="230.4" cy="205.0" r="1.1"/><circle cx="221.9" cy="137.1" r="1.1"/><circle cx="218.0" cy="216.0" r="1.1"/><circle cx="221.8" cy="90.0" r="1.1"/><circle cx="222.1" cy="111.8" r="1.1"/><circle cx="227.7" cy="164.2" r="1.1"/><circle cx="225.7" cy="222.3" r="1.1"/><circle cx="218.6" cy="231.4" r="1.1"/><circle cx="220.9" cy="112.6" r="1.1"/><circle cx="221.0" cy="136.6" r="1.1"/><circle cx="222.9" cy="99.8" r="1.1"/><circle cx="227.1" cy="66.1" r="1.1"/><circle cx="221.3" cy="144.7" r="1.1"/><circle cx="221.3" cy="207.0" r="1.1"/><circle cx="230.3" cy="160.6" r="1.1"/><circle cx="226.7" cy="179.1" r="1.1"/><circle cx="217.8" cy="227.3" r="1.1"/><circle cx="219.4" cy="93.1" r="1.1"/><circle cx="225.1" cy="179.7" r="1.1"/><circle cx="223.1" cy="129.8" r="1.1"/><circle cx="224.1" cy="68.4" r="1.1"/><circle cx="225.0" cy="213.9" r="1.1"/><circle cx="224.8" cy="158.6" r="1.1"/><circle cx="230.9" cy="163.1" r="1.1"/><circle cx="225.3" cy="135.0" r="1.1"/><circle cx="227.4" cy="192.2" r="1.1"/><circle cx="229.6" cy="210.9" r="1.1"/><circle cx="227.0" cy="95.0" r="1.1"/><circle cx="230.7" cy="187.9" r="1.1"/><circle cx="219.3" cy="99.4" r="1.1"/><circle cx="222.0" cy="217.7" r="1.1"/><circle cx="227.7" cy="109.0" r="1.1"/><circle cx="224.7" cy="110.9" r="1.1"/><circle cx="217.6" cy="184.4" r="1.1"/><circle cx="223.6" cy="144.3" r="1.1"/><circle cx="219.7" cy="173.4" r="1.1"/><circle cx="221.4" cy="210.0" r="1.1"/><circle cx="230.5" cy="232.2" r="1.1"/><circle cx="230.1" cy="176.7" r="1.1"/><circle cx="228.2" cy="168.6" r="1.1"/><circle cx="226.7" cy="68.8" r="1.1"/><circle cx="229.7" cy="84.6" r="1.1"/><circle cx="225.6" cy="72.3" r="1.1"/><circle cx="220.2" cy="221.4" r="1.1"/><circle cx="229.7" cy="228.6" r="1.1"/><circle cx="229.5" cy="220.5" r="1.1"/><circle cx="225.5" cy="195.9" r="1.1"/><circle cx="229.3" cy="193.2" r="1.1"/><circle cx="220.1" cy="173.3" r="1.1"/><circle cx="221.6" cy="57.5" r="1.1"/><circle cx="227.2" cy="65.3" r="1.1"/><circle cx="227.9" cy="159.6" r="1.1"/><circle cx="225.7" cy="132.7" r="1.1"/><circle cx="231.1" cy="157.9" r="1.1"/><circle cx="218.8" cy="172.5" r="1.1"/><circle cx="224.6" cy="187.3" r="1.1"/><circle cx="229.3" cy="68.3" r="1.1"/><circle cx="229.2" cy="118.0" r="1.1"/><circle cx="221.8" cy="165.3" r="1.1"/><circle cx="223.3" cy="127.6" r="1.1"/><circle cx="220.3" cy="177.7" r="1.1"/><circle cx="219.9" cy="203.1" r="1.1"/><circle cx="225.1" cy="57.9" r="1.1"/><circle cx="217.6" cy="78.5" r="1.1"/><circle cx="223.3" cy="234.8" r="1.1"/><circle cx="230.8" cy="113.4" r="1.1"/><circle cx="221.4" cy="64.5" r="1.1"/><circle cx="227.9" cy="69.6" r="1.1"/><circle cx="226.1" cy="159.0" r="1.1"/><circle cx="222.7" cy="209.9" r="1.1"/><circle cx="224.5" cy="51.7" r="1.1"/><circle cx="226.3" cy="219.5" r="1.1"/><circle cx="226.7" cy="112.1" r="1.1"/><circle cx="221.2" cy="186.2" r="1.1"/><circle cx="218.2" cy="221.9" r="1.1"/><circle cx="224.3" cy="73.4" r="1.1"/><circle cx="219.2" cy="113.1" r="1.1"/><circle cx="229.5" cy="125.0" r="1.1"/><circle cx="219.7" cy="211.9" r="1.1"/><circle cx="223.7" cy="72.7" r="1.1"/><circle cx="218.3" cy="205.5" r="1.1"/><circle cx="223.4" cy="206.2" r="1.1"/><circle cx="228.8" cy="92.3" r="1.1"/><circle cx="219.8" cy="171.2" r="1.1"/><circle cx="220.7" cy="220.1" r="1.1"/><circle cx="219.8" cy="109.7" r="1.1"/><circle cx="228.6" cy="181.6" r="1.1"/><circle cx="219.2" cy="106.1" r="1.1"/><circle cx="221.9" cy="75.0" r="1.1"/><circle cx="218.2" cy="84.9" r="1.1"/><circle cx="223.2" cy="72.5" r="1.1"/><circle cx="219.5" cy="58.1" r="1.1"/><circle cx="227.6" cy="218.7" r="1.1"/><circle cx="220.9" cy="222.8" r="1.1"/><circle cx="224.0" cy="54.9" r="1.1"/><circle cx="224.1" cy="205.9" r="1.1"/><circle cx="224.5" cy="58.9" r="1.1"/><circle cx="224.8" cy="68.5" r="1.1"/><circle cx="221.0" cy="95.8" r="1.1"/><circle cx="227.3" cy="145.3" r="1.1"/><circle cx="226.8" cy="77.1" r="1.1"/><circle cx="220.6" cy="105.0" r="1.1"/><circle cx="228.7" cy="201.7" r="1.1"/><circle cx="223.0" cy="84.8" r="1.1"/><circle cx="219.1" cy="154.1" r="1.1"/><circle cx="228.5" cy="215.0" r="1.1"/><circle cx="229.0" cy="180.4" r="1.1"/><circle cx="220.3" cy="190.3" r="1.1"/><circle cx="225.9" cy="71.9" r="1.1"/><circle cx="222.5" cy="217.7" r="1.1"/><circle cx="218.5" cy="231.8" r="1.1"/><circle cx="217.5" cy="144.3" r="1.1"/><circle cx="220.4" cy="188.9" r="1.1"/><circle cx="226.4" cy="79.2" r="1.1"/><circle cx="230.5" cy="163.7" r="1.1"/><circle cx="221.1" cy="129.8" r="1.1"/><circle cx="228.0" cy="125.1" r="1.1"/><circle cx="223.5" cy="129.7" r="1.1"/><circle cx="218.8" cy="156.9" r="1.1"/><circle cx="226.6" cy="149.2" r="1.1"/><circle cx="229.9" cy="182.4" r="1.1"/><circle cx="220.8" cy="207.0" r="1.1"/><circle cx="229.2" cy="79.1" r="1.1"/><circle cx="225.5" cy="200.6" r="1.1"/><circle cx="217.9" cy="88.2" r="1.1"/><circle cx="229.1" cy="124.3" r="1.1"/><circle cx="217.8" cy="204.3" r="1.1"/><circle cx="219.4" cy="174.6" r="1.1"/><circle cx="230.4" cy="155.6" r="1.1"/><circle cx="218.1" cy="143.2" r="1.1"/><circle cx="230.8" cy="183.8" r="1.1"/><circle cx="229.4" cy="216.6" r="1.1"/><circle cx="223.9" cy="66.4" r="1.1"/><circle cx="228.9" cy="199.6" r="1.1"/><circle cx="217.6" cy="181.3" r="1.1"/><circle cx="227.5" cy="149.3" r="1.1"/><circle cx="224.9" cy="127.7" r="1.1"/><circle cx="218.2" cy="189.1" r="1.1"/><circle cx="226.2" cy="199.2" r="1.1"/><circle cx="222.4" cy="211.6" r="1.1"/><circle cx="218.5" cy="216.2" r="1.1"/><circle cx="228.5" cy="116.6" r="1.1"/><circle cx="225.3" cy="202.4" r="1.1"/><circle cx="222.3" cy="169.6" r="1.1"/><circle cx="229.0" cy="183.1" r="1.1"/><circle cx="226.5" cy="200.9" r="1.1"/><circle cx="218.8" cy="190.0" r="1.1"/><circle cx="221.5" cy="134.9" r="1.1"/><circle cx="219.9" cy="118.5" r="1.1"/><circle cx="221.2" cy="171.1" r="1.1"/><circle cx="227.1" cy="173.8" r="1.1"/><circle cx="218.9" cy="134.0" r="1.1"/><circle cx="218.7" cy="150.3" r="1.1"/><circle cx="227.2" cy="207.3" r="1.1"/><circle cx="218.7" cy="145.4" r="1.1"/><circle cx="230.8" cy="145.9" r="1.1"/><circle cx="228.6" cy="67.1" r="1.1"/><circle cx="226.2" cy="179.1" r="1.1"/><circle cx="223.8" cy="211.2" r="1.1"/><circle cx="226.5" cy="122.4" r="1.1"/><circle cx="220.2" cy="114.9" r="1.1"/><circle cx="223.0" cy="160.6" r="1.1"/><circle cx="219.3" cy="215.2" r="1.1"/><circle cx="227.5" cy="178.1" r="1.1"/><circle cx="221.6" cy="88.4" r="1.1"/><circle cx="223.9" cy="214.3" r="1.1"/><circle cx="220.4" cy="186.7" r="1.1"/><circle cx="227.1" cy="139.8" r="1.1"/><circle cx="226.0" cy="220.7" r="1.1"/><circle cx="230.6" cy="76.5" r="1.1"/><circle cx="227.6" cy="170.2" r="1.1"/><circle cx="220.5" cy="195.0" r="1.1"/><circle cx="222.2" cy="61.4" r="1.1"/><circle cx="219.3" cy="91.8" r="1.1"/><circle cx="218.0" cy="75.3" r="1.1"/><circle cx="219.5" cy="174.2" r="1.1"/><circle cx="230.0" cy="160.2" r="1.1"/><circle cx="217.4" cy="118.9" r="1.1"/><circle cx="227.8" cy="189.2" r="1.1"/><circle cx="223.6" cy="197.0" r="1.1"/><circle cx="223.2" cy="200.2" r="1.1"/><circle cx="222.8" cy="169.5" r="1.1"/><circle cx="230.2" cy="91.1" r="1.1"/><circle cx="220.8" cy="175.8" r="1.1"/><circle cx="227.8" cy="71.1" r="1.1"/><circle cx="218.4" cy="69.8" r="1.1"/><circle cx="224.3" cy="169.2" r="1.1"/><circle cx="218.3" cy="89.6" r="1.1"/><circle cx="225.0" cy="181.1" r="1.1"/><circle cx="220.0" cy="62.9" r="1.1"/><circle cx="218.0" cy="173.4" r="1.1"/><circle cx="222.4" cy="172.6" r="1.1"/><circle cx="222.9" cy="157.8" r="1.1"/><circle cx="224.4" cy="222.3" r="1.1"/><circle cx="222.5" cy="82.2" r="1.1"/><circle cx="225.5" cy="225.3" r="1.1"/><circle cx="221.3" cy="191.1" r="1.1"/><circle cx="228.2" cy="202.7" r="1.1"/><circle cx="219.1" cy="98.6" r="1.1"/><circle cx="229.7" cy="121.3" r="1.1"/><circle cx="220.5" cy="168.7" r="1.1"/><circle cx="224.9" cy="217.0" r="1.1"/><circle cx="220.5" cy="83.6" r="1.1"/><circle cx="222.8" cy="222.5" r="1.1"/><circle cx="230.0" cy="160.6" r="1.1"/><circle cx="220.9" cy="79.8" r="1.1"/><circle cx="225.4" cy="221.8" r="1.1"/><circle cx="229.8" cy="94.9" r="1.1"/><circle cx="225.1" cy="115.7" r="1.1"/><circle cx="229.5" cy="58.5" r="1.1"/><circle cx="226.9" cy="176.0" r="1.1"/><circle cx="223.5" cy="90.7" r="1.1"/><circle cx="227.3" cy="186.7" r="1.1"/><circle cx="220.1" cy="238.4" r="1.1"/><circle cx="226.3" cy="137.5" r="1.1"/><circle cx="228.0" cy="175.5" r="1.1"/><circle cx="221.1" cy="105.0" r="1.1"/><circle cx="228.8" cy="83.8" r="1.1"/><circle cx="225.9" cy="189.3" r="1.1"/><circle cx="228.4" cy="121.4" r="1.1"/><circle cx="230.3" cy="76.7" r="1.1"/><circle cx="222.3" cy="67.1" r="1.1"/><circle cx="222.6" cy="210.8" r="1.1"/><circle cx="230.0" cy="113.1" r="1.1"/><circle cx="222.1" cy="152.0" r="1.1"/><circle cx="227.9" cy="68.5" r="1.1"/><circle cx="225.2" cy="68.5" r="1.1"/><circle cx="228.8" cy="200.8" r="1.1"/><circle cx="220.0" cy="71.0" r="1.1"/><circle cx="228.1" cy="216.4" r="1.1"/><circle cx="220.6" cy="151.7" r="1.1"/><circle cx="222.0" cy="86.1" r="1.1"/><circle cx="224.3" cy="64.7" r="1.1"/><circle cx="229.0" cy="170.9" r="1.1"/><circle cx="225.8" cy="56.0" r="1.1"/><circle cx="226.1" cy="181.8" r="1.1"/><circle cx="223.7" cy="214.0" r="1.1"/><circle cx="222.8" cy="146.7" r="1.1"/><circle cx="225.6" cy="107.1" r="1.1"/><circle cx="230.6" cy="173.4" r="1.1"/><circle cx="221.8" cy="213.9" r="1.1"/><circle cx="230.9" cy="123.6" r="1.1"/><circle cx="222.5" cy="204.8" r="1.1"/><circle cx="231.0" cy="214.0" r="1.1"/><circle cx="223.4" cy="187.4" r="1.1"/><circle cx="228.2" cy="213.2" r="1.1"/><circle cx="217.8" cy="83.0" r="1.1"/><circle cx="217.7" cy="106.8" r="1.1"/><circle cx="224.0" cy="222.1" r="1.1"/><circle cx="230.3" cy="189.4" r="1.1"/><circle cx="219.6" cy="215.0" r="1.1"/><circle cx="219.0" cy="233.5" r="1.1"/><circle cx="226.9" cy="226.0" r="1.1"/><circle cx="224.6" cy="78.2" r="1.1"/><circle cx="229.9" cy="203.8" r="1.1"/><circle cx="226.3" cy="105.5" r="1.1"/><circle cx="224.5" cy="68.7" r="1.1"/><circle cx="224.2" cy="202.3" r="1.1"/><circle cx="228.4" cy="99.6" r="1.1"/><circle cx="229.3" cy="68.1" r="1.1"/><circle cx="231.0" cy="62.7" r="1.1"/><circle cx="228.3" cy="230.4" r="1.1"/><circle cx="226.0" cy="148.4" r="1.1"/><circle cx="219.0" cy="211.8" r="1.1"/><circle cx="224.7" cy="167.2" r="1.1"/><circle cx="241.2" cy="209.0" r="1.1"/><circle cx="243.7" cy="76.3" r="1.1"/><circle cx="243.1" cy="133.5" r="1.1"/><circle cx="241.2" cy="55.9" r="1.1"/><circle cx="247.8" cy="172.2" r="1.1"/><circle cx="252.7" cy="222.3" r="1.1"/><circle cx="255.5" cy="69.4" r="1.1"/><circle cx="249.1" cy="137.6" r="1.1"/><circle cx="244.5" cy="68.3" r="1.1"/><circle cx="254.8" cy="97.2" r="1.1"/><circle cx="241.9" cy="210.7" r="1.1"/><circle cx="242.7" cy="186.4" r="1.1"/><circle cx="253.9" cy="215.3" r="1.1"/><circle cx="241.0" cy="211.9" r="1.1"/><circle cx="246.1" cy="200.2" r="1.1"/><circle cx="243.2" cy="103.4" r="1.1"/><circle cx="244.2" cy="165.6" r="1.1"/><circle cx="249.8" cy="177.3" r="1.1"/><circle cx="250.7" cy="206.1" r="1.1"/><circle cx="248.4" cy="151.3" r="1.1"/><circle cx="244.8" cy="181.1" r="1.1"/><circle cx="252.0" cy="90.6" r="1.1"/><circle cx="245.5" cy="146.6" r="1.1"/><circle cx="242.2" cy="58.4" r="1.1"/><circle cx="245.8" cy="162.4" r="1.1"/><circle cx="249.3" cy="226.9" r="1.1"/><circle cx="240.9" cy="147.8" r="1.1"/><circle cx="240.1" cy="210.8" r="1.1"/><circle cx="254.3" cy="194.4" r="1.1"/><circle cx="252.4" cy="182.8" r="1.1"/><circle cx="253.4" cy="186.5" r="1.1"/><circle cx="256.3" cy="227.3" r="1.1"/><circle cx="245.9" cy="90.9" r="1.1"/><circle cx="254.3" cy="211.7" r="1.1"/><circle cx="240.2" cy="159.0" r="1.1"/><circle cx="254.6" cy="207.9" r="1.1"/><circle cx="247.3" cy="156.0" r="1.1"/><circle cx="243.8" cy="159.9" r="1.1"/><circle cx="255.9" cy="118.5" r="1.1"/><circle cx="240.7" cy="206.9" r="1.1"/><circle cx="252.7" cy="185.7" r="1.1"/><circle cx="250.1" cy="195.8" r="1.1"/><circle cx="240.9" cy="208.9" r="1.1"/><circle cx="243.9" cy="147.2" r="1.1"/><circle cx="254.6" cy="67.6" r="1.1"/><circle cx="252.8" cy="227.1" r="1.1"/><circle cx="246.7" cy="66.6" r="1.1"/><circle cx="253.0" cy="159.7" r="1.1"/><circle cx="250.6" cy="62.2" r="1.1"/><circle cx="246.3" cy="217.9" r="1.1"/><circle cx="244.3" cy="103.6" r="1.1"/><circle cx="247.9" cy="84.5" r="1.1"/><circle cx="252.5" cy="189.8" r="1.1"/><circle cx="240.8" cy="146.5" r="1.1"/><circle cx="244.4" cy="198.8" r="1.1"/><circle cx="243.6" cy="64.3" r="1.1"/><circle cx="254.9" cy="197.9" r="1.1"/><circle cx="245.1" cy="156.9" r="1.1"/><circle cx="245.0" cy="96.0" r="1.1"/><circle cx="247.8" cy="182.0" r="1.1"/><circle cx="241.3" cy="223.4" r="1.1"/><circle cx="246.5" cy="146.3" r="1.1"/><circle cx="255.3" cy="203.5" r="1.1"/><circle cx="250.2" cy="170.5" r="1.1"/><circle cx="248.8" cy="86.6" r="1.1"/><circle cx="243.0" cy="110.1" r="1.1"/><circle cx="240.4" cy="83.6" r="1.1"/><circle cx="243.3" cy="192.9" r="1.1"/><circle cx="251.7" cy="122.6" r="1.1"/><circle cx="241.7" cy="106.3" r="1.1"/><circle cx="241.5" cy="216.3" r="1.1"/><circle cx="240.4" cy="127.4" r="1.1"/><circle cx="247.7" cy="222.7" r="1.1"/><circle cx="245.9" cy="66.3" r="1.1"/><circle cx="249.5" cy="165.5" r="1.1"/><circle cx="249.2" cy="208.4" r="1.1"/><circle cx="243.0" cy="198.8" r="1.1"/><circle cx="256.1" cy="60.1" r="1.1"/><circle cx="248.7" cy="72.1" r="1.1"/><circle cx="246.1" cy="196.2" r="1.1"/><circle cx="247.0" cy="208.8" r="1.1"/><circle cx="247.3" cy="222.2" r="1.1"/><circle cx="256.4" cy="141.9" r="1.1"/><circle cx="249.4" cy="217.9" r="1.1"/><circle cx="249.7" cy="78.8" r="1.1"/><circle cx="251.1" cy="177.5" r="1.1"/><circle cx="247.7" cy="187.8" r="1.1"/><circle cx="247.9" cy="210.3" r="1.1"/><circle cx="244.7" cy="210.5" r="1.1"/><circle cx="248.2" cy="215.6" r="1.1"/><circle cx="255.4" cy="145.5" r="1.1"/><circle cx="241.1" cy="179.7" r="1.1"/><circle cx="251.3" cy="158.7" r="1.1"/><circle cx="247.1" cy="215.1" r="1.1"/><circle cx="248.9" cy="101.7" r="1.1"/><circle cx="245.8" cy="216.8" r="1.1"/><circle cx="252.2" cy="116.9" r="1.1"/><circle cx="247.4" cy="202.9" r="1.1"/><circle cx="248.8" cy="201.2" r="1.1"/><circle cx="249.1" cy="89.8" r="1.1"/><circle cx="250.5" cy="194.4" r="1.1"/><circle cx="252.0" cy="90.2" r="1.1"/><circle cx="254.0" cy="76.7" r="1.1"/><circle cx="244.0" cy="175.1" r="1.1"/><circle cx="254.1" cy="204.3" r="1.1"/><circle cx="248.5" cy="192.7" r="1.1"/><circle cx="253.1" cy="210.0" r="1.1"/><circle cx="243.7" cy="98.8" r="1.1"/><circle cx="241.9" cy="184.8" r="1.1"/><circle cx="250.0" cy="202.6" r="1.1"/><circle cx="251.2" cy="65.0" r="1.1"/><circle cx="246.9" cy="63.8" r="1.1"/><circle cx="245.2" cy="152.8" r="1.1"/><circle cx="247.6" cy="215.8" r="1.1"/><circle cx="241.8" cy="142.7" r="1.1"/><circle cx="249.6" cy="180.6" r="1.1"/><circle cx="242.4" cy="67.9" r="1.1"/><circle cx="255.2" cy="74.8" r="1.1"/><circle cx="256.5" cy="159.5" r="1.1"/><circle cx="255.3" cy="74.4" r="1.1"/><circle cx="241.6" cy="58.9" r="1.1"/><circle cx="254.7" cy="109.9" r="1.1"/><circle cx="251.8" cy="68.3" r="1.1"/><circle cx="254.2" cy="179.7" r="1.1"/><circle cx="253.5" cy="133.1" r="1.1"/><circle cx="251.0" cy="189.2" r="1.1"/><circle cx="251.4" cy="96.6" r="1.1"/><circle cx="248.5" cy="107.8" r="1.1"/><circle cx="241.7" cy="229.9" r="1.1"/><circle cx="250.8" cy="217.2" r="1.1"/><circle cx="248.6" cy="139.1" r="1.1"/><circle cx="256.3" cy="215.1" r="1.1"/><circle cx="243.1" cy="63.1" r="1.1"/><circle cx="244.1" cy="75.4" r="1.1"/><circle cx="255.0" cy="116.8" r="1.1"/><circle cx="250.3" cy="188.4" r="1.1"/><circle cx="245.6" cy="85.5" r="1.1"/><circle cx="246.6" cy="212.6" r="1.1"/><circle cx="245.4" cy="147.8" r="1.1"/><circle cx="255.0" cy="179.9" r="1.1"/><circle cx="247.5" cy="213.6" r="1.1"/><circle cx="240.6" cy="197.6" r="1.1"/><circle cx="242.5" cy="70.4" r="1.1"/><circle cx="241.3" cy="199.0" r="1.1"/><circle cx="249.3" cy="50.9" r="1.1"/><circle cx="241.4" cy="217.6" r="1.1"/><circle cx="245.1" cy="110.8" r="1.1"/><circle cx="249.6" cy="191.3" r="1.1"/><circle cx="240.5" cy="152.6" r="1.1"/><circle cx="245.4" cy="185.5" r="1.1"/><circle cx="242.1" cy="202.9" r="1.1"/><circle cx="242.2" cy="61.7" r="1.1"/><circle cx="253.6" cy="164.8" r="1.1"/><circle cx="243.5" cy="63.2" r="1.1"/><circle cx="247.0" cy="139.3" r="1.1"/><circle cx="251.8" cy="229.3" r="1.1"/><circle cx="248.1" cy="124.8" r="1.1"/><circle cx="242.4" cy="162.7" r="1.1"/><circle cx="244.9" cy="143.9" r="1.1"/><circle cx="242.6" cy="197.8" r="1.1"/><circle cx="244.7" cy="68.5" r="1.1"/><circle cx="249.0" cy="108.7" r="1.1"/><circle cx="253.1" cy="64.3" r="1.1"/><circle cx="249.9" cy="170.7" r="1.1"/><circle cx="251.6" cy="166.4" r="1.1"/><circle cx="251.8" cy="76.2" r="1.1"/><circle cx="252.1" cy="60.7" r="1.1"/><circle cx="242.0" cy="200.0" r="1.1"/><circle cx="256.0" cy="159.3" r="1.1"/><circle cx="240.3" cy="133.3" r="1.1"/><circle cx="251.0" cy="218.5" r="1.1"/><circle cx="252.5" cy="156.8" r="1.1"/><circle cx="246.4" cy="51.9" r="1.1"/><circle cx="251.3" cy="78.9" r="1.1"/><circle cx="254.6" cy="74.0" r="1.1"/><circle cx="254.9" cy="65.2" r="1.1"/><circle cx="242.7" cy="218.2" r="1.1"/><circle cx="255.6" cy="96.1" r="1.1"/><circle cx="246.9" cy="126.1" r="1.1"/><circle cx="255.8" cy="206.9" r="1.1"/><circle cx="248.6" cy="211.4" r="1.1"/><circle cx="244.0" cy="70.7" r="1.1"/><circle cx="247.5" cy="118.9" r="1.1"/><circle cx="254.5" cy="74.7" r="1.1"/><circle cx="251.9" cy="187.2" r="1.1"/><circle cx="241.5" cy="208.1" r="1.1"/><circle cx="255.6" cy="116.7" r="1.1"/><circle cx="244.6" cy="123.7" r="1.1"/><circle cx="242.8" cy="92.1" r="1.1"/><circle cx="254.4" cy="223.3" r="1.1"/><circle cx="250.1" cy="226.0" r="1.1"/><circle cx="250.9" cy="127.8" r="1.1"/><circle cx="243.4" cy="96.6" r="1.1"/><circle cx="244.3" cy="93.0" r="1.1"/><circle cx="243.5" cy="212.5" r="1.1"/><circle cx="253.4" cy="117.5" r="1.1"/><circle cx="252.8" cy="73.5" r="1.1"/><circle cx="245.7" cy="190.6" r="1.1"/><circle cx="255.5" cy="81.3" r="1.1"/><circle cx="242.8" cy="58.3" r="1.1"/><circle cx="256.1" cy="74.4" r="1.1"/><circle cx="254.0" cy="182.6" r="1.1"/><circle cx="246.0" cy="178.5" r="1.1"/><circle cx="246.1" cy="104.5" r="1.1"/><circle cx="253.0" cy="218.6" r="1.1"/><circle cx="246.8" cy="207.7" r="1.1"/><circle cx="253.7" cy="191.0" r="1.1"/><circle cx="245.3" cy="132.8" r="1.1"/><circle cx="250.0" cy="168.9" r="1.1"/><circle cx="250.3" cy="207.8" r="1.1"/><circle cx="249.7" cy="208.4" r="1.1"/><circle cx="252.2" cy="122.0" r="1.1"/><circle cx="252.3" cy="177.5" r="1.1"/><circle cx="244.1" cy="104.3" r="1.1"/><circle cx="244.5" cy="225.6" r="1.1"/><circle cx="251.1" cy="190.2" r="1.1"/><circle cx="253.8" cy="102.3" r="1.1"/><circle cx="249.5" cy="107.0" r="1.1"/><circle cx="250.7" cy="188.5" r="1.1"/><circle cx="253.5" cy="129.6" r="1.1"/><circle cx="248.1" cy="119.8" r="1.1"/><circle cx="243.7" cy="180.0" r="1.1"/><circle cx="253.3" cy="220.5" r="1.1"/><circle cx="252.4" cy="153.6" r="1.1"/><circle cx="251.4" cy="153.7" r="1.1"/><circle cx="242.9" cy="103.3" r="1.1"/><circle cx="255.1" cy="192.7" r="1.1"/><circle cx="246.5" cy="212.2" r="1.1"/><circle cx="250.5" cy="128.3" r="1.1"/><circle cx="253.9" cy="220.6" r="1.1"/><circle cx="246.2" cy="96.3" r="1.1"/><circle cx="251.5" cy="174.0" r="1.1"/><circle cx="255.9" cy="130.7" r="1.1"/><circle cx="242.0" cy="85.2" r="1.1"/><circle cx="250.6" cy="169.4" r="1.1"/><circle cx="246.4" cy="74.4" r="1.1"/><circle cx="252.9" cy="182.4" r="1.1"/><circle cx="248.0" cy="208.0" r="1.1"/><circle cx="244.6" cy="190.8" r="1.1"/><circle cx="245.2" cy="120.5" r="1.1"/><circle cx="254.1" cy="197.3" r="1.1"/><circle cx="248.3" cy="105.9" r="1.1"/><circle cx="251.6" cy="91.0" r="1.1"/><circle cx="240.6" cy="82.4" r="1.1"/><circle cx="246.7" cy="133.0" r="1.1"/><circle cx="245.5" cy="230.8" r="1.1"/><circle cx="255.7" cy="152.2" r="1.1"/><circle cx="240.7" cy="84.7" r="1.1"/><circle cx="242.5" cy="218.4" r="1.1"/><circle cx="242.2" cy="88.6" r="1.1"/><circle cx="252.6" cy="95.1" r="1.1"/><circle cx="248.4" cy="121.9" r="1.1"/><circle cx="255.2" cy="179.1" r="1.1"/><circle cx="243.3" cy="215.3" r="1.1"/><circle cx="240.2" cy="79.5" r="1.1"/><circle cx="250.4" cy="88.0" r="1.1"/><circle cx="247.4" cy="219.9" r="1.1"/><circle cx="255.8" cy="63.1" r="1.1"/><circle cx="253.2" cy="221.1" r="1.1"/><circle cx="256.2" cy="62.5" r="1.1"/><circle cx="253.6" cy="137.9" r="1.1"/><circle cx="247.2" cy="194.7" r="1.1"/><circle cx="241.0" cy="140.9" r="1.1"/><circle cx="244.9" cy="107.6" r="1.1"/><circle cx="249.0" cy="168.7" r="1.1"/></g>
</g>
<g clip-path="url(#cr)">
<g fill="#3e64e8"><circle cx="348.4" cy="125.5" r="1.1"/><circle cx="358.6" cy="154.4" r="1.1"/><circle cx="417.0" cy="100.1" r="1.1"/><circle cx="379.2" cy="201.8" r="1.1"/><circle cx="329.7" cy="57.8" r="1.1"/><circle cx="343.0" cy="109.0" r="1.1"/><circle cx="394.1" cy="194.6" r="1.1"/><circle cx="348.6" cy="106.7" r="1.1"/><circle cx="373.9" cy="202.1" r="1.1"/><circle cx="424.0" cy="70.2" r="1.1"/><circle cx="421.5" cy="70.3" r="1.1"/><circle cx="424.8" cy="62.3" r="1.1"/><circle cx="396.9" cy="189.4" r="1.1"/><circle cx="374.5" cy="201.3" r="1.1"/><circle cx="370.3" cy="192.1" r="1.1"/><circle cx="413.7" cy="133.1" r="1.1"/><circle cx="375.9" cy="199.6" r="1.1"/><circle cx="347.7" cy="121.3" r="1.1"/><circle cx="391.0" cy="201.7" r="1.1"/><circle cx="368.7" cy="197.5" r="1.1"/><circle cx="335.0" cy="56.8" r="1.1"/><circle cx="401.7" cy="167.7" r="1.1"/><circle cx="432.0" cy="50.2" r="1.1"/><circle cx="407.7" cy="155.7" r="1.1"/><circle cx="408.0" cy="154.8" r="1.1"/><circle cx="413.0" cy="137.6" r="1.1"/><circle cx="371.3" cy="177.5" r="1.1"/><circle cx="354.6" cy="143.4" r="1.1"/><circle cx="362.2" cy="167.7" r="1.1"/><circle cx="333.3" cy="56.2" r="1.1"/><circle cx="370.8" cy="189.9" r="1.1"/><circle cx="353.2" cy="126.8" r="1.1"/><circle cx="404.8" cy="148.9" r="1.1"/><circle cx="388.1" cy="208.3" r="1.1"/><circle cx="361.5" cy="157.5" r="1.1"/><circle cx="351.8" cy="125.1" r="1.1"/><circle cx="366.7" cy="188.4" r="1.1"/><circle cx="431.5" cy="56.8" r="1.1"/><circle cx="395.3" cy="201.5" r="1.1"/><circle cx="356.1" cy="152.0" r="1.1"/><circle cx="403.4" cy="156.8" r="1.1"/><circle cx="344.2" cy="107.2" r="1.1"/><circle cx="372.0" cy="191.7" r="1.1"/><circle cx="357.3" cy="149.1" r="1.1"/><circle cx="406.4" cy="160.0" r="1.1"/><circle cx="345.9" cy="108.1" r="1.1"/><circle cx="350.8" cy="108.9" r="1.1"/><circle cx="328.7" cy="59.6" r="1.1"/><circle cx="421.8" cy="73.5" r="1.1"/><circle cx="378.7" cy="212.5" r="1.1"/><circle cx="430.7" cy="54.2" r="1.1"/><circle cx="356.8" cy="155.7" r="1.1"/><circle cx="430.3" cy="53.8" r="1.1"/><circle cx="427.2" cy="61.8" r="1.1"/><circle cx="372.7" cy="200.3" r="1.1"/><circle cx="399.0" cy="179.6" r="1.1"/><circle cx="346.4" cy="104.7" r="1.1"/><circle cx="381.1" cy="199.2" r="1.1"/><circle cx="360.8" cy="166.2" r="1.1"/><circle cx="408.8" cy="144.6" r="1.1"/><circle cx="380.4" cy="212.1" r="1.1"/><circle cx="400.6" cy="165.4" r="1.1"/><circle cx="426.1" cy="72.7" r="1.1"/><circle cx="350.0" cy="125.0" r="1.1"/><circle cx="418.1" cy="90.0" r="1.1"/><circle cx="354.1" cy="116.5" r="1.1"/><circle cx="414.6" cy="113.7" r="1.1"/><circle cx="344.7" cy="105.1" r="1.1"/><circle cx="355.7" cy="146.5" r="1.1"/><circle cx="404.0" cy="166.9" r="1.1"/><circle cx="366.1" cy="180.6" r="1.1"/><circle cx="412.3" cy="137.2" r="1.1"/><circle cx="393.4" cy="191.2" r="1.1"/><circle cx="407.3" cy="154.4" r="1.1"/><circle cx="334.3" cy="68.3" r="1.1"/><circle cx="369.6" cy="209.0" r="1.1"/><circle cx="392.1" cy="196.2" r="1.1"/><circle cx="363.9" cy="176.3" r="1.1"/><circle cx="369.0" cy="183.3" r="1.1"/><circle cx="362.6" cy="175.0" r="1.1"/><circle cx="422.2" cy="68.1" r="1.1"/><circle cx="336.0" cy="65.7" r="1.1"/><circle cx="402.8" cy="168.6" r="1.1"/><circle cx="423.6" cy="65.2" r="1.1"/><circle cx="389.6" cy="202.1" r="1.1"/><circle cx="332.2" cy="61.8" r="1.1"/><circle cx="410.2" cy="126.2" r="1.1"/><circle cx="364.5" cy="174.9" r="1.1"/><circle cx="331.6" cy="57.3" r="1.1"/><circle cx="375.1" cy="203.8" r="1.1"/><circle cx="390.4" cy="204.8" r="1.1"/><circle cx="396.3" cy="173.3" r="1.1"/><circle cx="409.4" cy="143.1" r="1.1"/><circle cx="414.0" cy="128.4" r="1.1"/><circle cx="342.2" cy="99.5" r="1.1"/><circle cx="382.8" cy="210.7" r="1.1"/><circle cx="365.6" cy="169.2" r="1.1"/><circle cx="340.9" cy="82.1" r="1.1"/><circle cx="394.7" cy="187.4" r="1.1"/><circle cx="363.3" cy="164.4" r="1.1"/><circle cx="384.4" cy="206.2" r="1.1"/><circle cx="336.7" cy="82.7" r="1.1"/><circle cx="391.7" cy="205.1" r="1.1"/><circle cx="364.7" cy="185.9" r="1.1"/><circle cx="385.2" cy="208.8" r="1.1"/><circle cx="343.5" cy="97.1" r="1.1"/><circle cx="410.7" cy="136.9" r="1.1"/><circle cx="405.1" cy="162.1" r="1.1"/><circle cx="427.8" cy="69.1" r="1.1"/><circle cx="329.3" cy="60.8" r="1.1"/><circle cx="423.1" cy="70.9" r="1.1"/><circle cx="426.4" cy="58.9" r="1.1"/><circle cx="377.6" cy="208.6" r="1.1"/><circle cx="386.1" cy="221.6" r="1.1"/><circle cx="416.4" cy="109.0" r="1.1"/><circle cx="360.0" cy="147.2" r="1.1"/><circle cx="341.5" cy="85.7" r="1.1"/><circle cx="381.5" cy="212.0" r="1.1"/><circle cx="416.1" cy="105.0" r="1.1"/><circle cx="339.5" cy="89.8" r="1.1"/><circle cx="397.9" cy="182.2" r="1.1"/><circle cx="345.1" cy="122.7" r="1.1"/><circle cx="357.7" cy="147.1" r="1.1"/><circle cx="429.7" cy="58.9" r="1.1"/><circle cx="338.8" cy="100.4" r="1.1"/><circle cx="347.3" cy="120.1" r="1.1"/><circle cx="405.9" cy="160.2" r="1.1"/><circle cx="337.7" cy="73.8" r="1.1"/><circle cx="359.7" cy="187.2" r="1.1"/><circle cx="397.7" cy="173.5" r="1.1"/><circle cx="330.4" cy="58.2" r="1.1"/><circle cx="336.3" cy="77.6" r="1.1"/><circle cx="383.8" cy="217.2" r="1.1"/><circle cx="398.7" cy="175.0" r="1.1"/><circle cx="376.6" cy="206.7" r="1.1"/><circle cx="429.0" cy="51.8" r="1.1"/><circle cx="382.2" cy="212.5" r="1.1"/><circle cx="418.7" cy="92.6" r="1.1"/><circle cx="428.2" cy="51.7" r="1.1"/><circle cx="385.5" cy="212.3" r="1.1"/><circle cx="387.3" cy="218.8" r="1.1"/><circle cx="380.0" cy="201.8" r="1.1"/><circle cx="353.3" cy="129.5" r="1.1"/><circle cx="367.1" cy="187.7" r="1.1"/><circle cx="388.4" cy="203.6" r="1.1"/><circle cx="389.2" cy="210.4" r="1.1"/><circle cx="383.0" cy="203.7" r="1.1"/><circle cx="395.7" cy="195.0" r="1.1"/><circle cx="330.9" cy="78.1" r="1.1"/><circle cx="352.3" cy="143.9" r="1.1"/><circle cx="340.1" cy="72.1" r="1.1"/><circle cx="417.5" cy="106.2" r="1.1"/><circle cx="401.2" cy="174.3" r="1.1"/><circle cx="420.6" cy="85.3" r="1.1"/><circle cx="420.0" cy="95.0" r="1.1"/><circle cx="412.0" cy="130.0" r="1.1"/><circle cx="338.0" cy="85.4" r="1.1"/><circle cx="375.8" cy="200.3" r="1.1"/><circle cx="359.2" cy="174.1" r="1.1"/><circle cx="419.6" cy="89.4" r="1.1"/><circle cx="351.0" cy="119.2" r="1.1"/><circle cx="386.9" cy="214.2" r="1.1"/><circle cx="334.7" cy="68.9" r="1.1"/><circle cx="373.4" cy="197.4" r="1.1"/><circle cx="415.2" cy="124.2" r="1.1"/><circle cx="340.8" cy="84.0" r="1.1"/><circle cx="425.7" cy="42.8" r="1.1"/><circle cx="377.7" cy="215.7" r="1.1"/><circle cx="332.7" cy="70.9" r="1.1"/><circle cx="349.2" cy="124.7" r="1.1"/><circle cx="411.4" cy="138.8" r="1.1"/><circle cx="368.1" cy="198.6" r="1.1"/><circle cx="402.6" cy="166.7" r="1.1"/><circle cx="400.0" cy="170.6" r="1.1"/><circle cx="392.9" cy="199.0" r="1.1"/><circle cx="347.8" cy="123.3" r="1.1"/><circle cx="372.1" cy="189.9" r="1.1"/><circle cx="341.9" cy="107.9" r="1.1"/><circle cx="387.3" cy="214.6" r="1.1"/><circle cx="424.9" cy="64.3" r="1.1"/><circle cx="423.2" cy="78.5" r="1.1"/><circle cx="411.4" cy="138.1" r="1.1"/><circle cx="412.1" cy="125.5" r="1.1"/><circle cx="400.5" cy="181.0" r="1.1"/><circle cx="364.6" cy="185.0" r="1.1"/><circle cx="421.7" cy="77.6" r="1.1"/><circle cx="332.3" cy="69.9" r="1.1"/><circle cx="411.8" cy="148.7" r="1.1"/><circle cx="379.2" cy="202.1" r="1.1"/><circle cx="423.4" cy="64.5" r="1.1"/><circle cx="430.6" cy="65.0" r="1.1"/><circle cx="403.4" cy="179.1" r="1.1"/><circle cx="370.2" cy="181.1" r="1.1"/><circle cx="408.0" cy="144.4" r="1.1"/><circle cx="349.8" cy="114.5" r="1.1"/><circle cx="427.7" cy="53.1" r="1.1"/><circle cx="408.7" cy="141.9" r="1.1"/><circle cx="369.3" cy="193.5" r="1.1"/><circle cx="365.6" cy="173.1" r="1.1"/><circle cx="374.8" cy="196.1" r="1.1"/><circle cx="390.0" cy="218.0" r="1.1"/><circle cx="339.8" cy="77.2" r="1.1"/><circle cx="416.6" cy="98.5" r="1.1"/><circle cx="339.0" cy="81.5" r="1.1"/><circle cx="345.3" cy="106.7" r="1.1"/><circle cx="376.6" cy="203.8" r="1.1"/><circle cx="425.7" cy="66.6" r="1.1"/><circle cx="361.6" cy="172.6" r="1.1"/><circle cx="359.5" cy="187.5" r="1.1"/><circle cx="388.6" cy="217.9" r="1.1"/><circle cx="362.1" cy="157.9" r="1.1"/><circle cx="328.8" cy="59.5" r="1.1"/><circle cx="410.6" cy="145.4" r="1.1"/><circle cx="420.4" cy="86.4" r="1.1"/><circle cx="352.2" cy="153.8" r="1.1"/><circle cx="409.9" cy="154.6" r="1.1"/><circle cx="333.9" cy="62.5" r="1.1"/><circle cx="335.6" cy="64.7" r="1.1"/><circle cx="337.0" cy="60.6" r="1.1"/><circle cx="377.6" cy="211.4" r="1.1"/><circle cx="370.8" cy="193.7" r="1.1"/><circle cx="369.0" cy="217.4" r="1.1"/><circle cx="331.6" cy="62.5" r="1.1"/><circle cx="363.3" cy="160.6" r="1.1"/><circle cx="414.1" cy="118.4" r="1.1"/><circle cx="354.2" cy="157.9" r="1.1"/><circle cx="367.1" cy="178.8" r="1.1"/><circle cx="413.2" cy="128.2" r="1.1"/><circle cx="357.0" cy="155.8" r="1.1"/><circle cx="376.5" cy="211.3" r="1.1"/><circle cx="343.2" cy="94.1" r="1.1"/><circle cx="425.6" cy="60.5" r="1.1"/><circle cx="378.1" cy="216.2" r="1.1"/><circle cx="330.3" cy="56.4" r="1.1"/><circle cx="422.3" cy="78.1" r="1.1"/><circle cx="383.3" cy="203.3" r="1.1"/><circle cx="431.7" cy="50.8" r="1.1"/><circle cx="381.8" cy="218.1" r="1.1"/><circle cx="386.8" cy="201.8" r="1.1"/><circle cx="340.8" cy="96.9" r="1.1"/><circle cx="352.9" cy="146.2" r="1.1"/><circle cx="399.3" cy="177.1" r="1.1"/><circle cx="365.5" cy="185.7" r="1.1"/><circle cx="417.2" cy="92.6" r="1.1"/><circle cx="343.9" cy="112.4" r="1.1"/><circle cx="346.0" cy="122.7" r="1.1"/><circle cx="381.3" cy="214.0" r="1.1"/><circle cx="354.6" cy="124.9" r="1.1"/><circle cx="348.9" cy="119.9" r="1.1"/><circle cx="392.9" cy="210.4" r="1.1"/><circle cx="354.0" cy="134.4" r="1.1"/><circle cx="364.3" cy="185.6" r="1.1"/><circle cx="348.3" cy="120.4" r="1.1"/><circle cx="342.7" cy="90.7" r="1.1"/><circle cx="389.5" cy="210.7" r="1.1"/><circle cx="329.2" cy="56.0" r="1.1"/><circle cx="347.0" cy="107.4" r="1.1"/><circle cx="370.9" cy="182.9" r="1.1"/><circle cx="410.6" cy="148.0" r="1.1"/><circle cx="396.8" cy="197.2" r="1.1"/><circle cx="338.0" cy="76.3" r="1.1"/><circle cx="397.6" cy="174.7" r="1.1"/><circle cx="355.0" cy="138.9" r="1.1"/><circle cx="357.5" cy="158.3" r="1.1"/><circle cx="413.6" cy="114.0" r="1.1"/><circle cx="369.7" cy="193.2" r="1.1"/><circle cx="346.6" cy="124.9" r="1.1"/><circle cx="379.8" cy="206.7" r="1.1"/><circle cx="382.0" cy="229.4" r="1.1"/><circle cx="405.0" cy="165.4" r="1.1"/><circle cx="389.0" cy="205.5" r="1.1"/><circle cx="349.3" cy="118.9" r="1.1"/><circle cx="428.5" cy="49.1" r="1.1"/><circle cx="414.3" cy="121.5" r="1.1"/><circle cx="417.8" cy="97.6" r="1.1"/><circle cx="405.4" cy="160.0" r="1.1"/><circle cx="351.5" cy="124.5" r="1.1"/><circle cx="424.1" cy="72.6" r="1.1"/><circle cx="336.6" cy="81.1" r="1.1"/><circle cx="401.8" cy="178.9" r="1.1"/><circle cx="348.2" cy="136.9" r="1.1"/><circle cx="418.3" cy="97.9" r="1.1"/><circle cx="358.2" cy="163.4" r="1.1"/><circle cx="350.4" cy="130.8" r="1.1"/><circle cx="330.9" cy="69.5" r="1.1"/><circle cx="391.5" cy="198.4" r="1.1"/><circle cx="380.9" cy="211.1" r="1.1"/><circle cx="404.7" cy="156.9" r="1.1"/><circle cx="428.1" cy="55.8" r="1.1"/><circle cx="367.8" cy="191.9" r="1.1"/><circle cx="384.8" cy="225.5" r="1.1"/><circle cx="355.5" cy="135.5" r="1.1"/><circle cx="429.7" cy="55.6" r="1.1"/><circle cx="379.3" cy="205.6" r="1.1"/><circle cx="397.1" cy="180.1" r="1.1"/><circle cx="377.0" cy="198.0" r="1.1"/><circle cx="366.3" cy="183.8" r="1.1"/><circle cx="375.6" cy="192.6" r="1.1"/><circle cx="334.5" cy="64.2" r="1.1"/><circle cx="401.4" cy="174.3" r="1.1"/><circle cx="421.0" cy="79.6" r="1.1"/><circle cx="373.4" cy="191.7" r="1.1"/><circle cx="391.6" cy="197.3" r="1.1"/><circle cx="338.2" cy="84.5" r="1.1"/><circle cx="406.3" cy="150.5" r="1.1"/><circle cx="384.3" cy="226.0" r="1.1"/><circle cx="400.1" cy="181.4" r="1.1"/><circle cx="395.4" cy="187.8" r="1.1"/><circle cx="415.2" cy="105.9" r="1.1"/><circle cx="373.8" cy="212.7" r="1.1"/><circle cx="362.7" cy="186.6" r="1.1"/><circle cx="394.5" cy="189.5" r="1.1"/><circle cx="355.9" cy="156.5" r="1.1"/><circle cx="378.6" cy="218.1" r="1.1"/><circle cx="429.5" cy="57.8" r="1.1"/><circle cx="382.6" cy="228.8" r="1.1"/><circle cx="359.8" cy="169.8" r="1.1"/><circle cx="332.8" cy="70.2" r="1.1"/><circle cx="391.0" cy="198.1" r="1.1"/><circle cx="393.5" cy="214.4" r="1.1"/><circle cx="402.4" cy="167.0" r="1.1"/><circle cx="401.1" cy="159.8" r="1.1"/><circle cx="387.8" cy="212.4" r="1.1"/><circle cx="361.2" cy="175.5" r="1.1"/><circle cx="352.4" cy="141.4" r="1.1"/><circle cx="353.3" cy="150.5" r="1.1"/><circle cx="417.6" cy="100.5" r="1.1"/><circle cx="421.4" cy="81.4" r="1.1"/><circle cx="430.9" cy="65.5" r="1.1"/><circle cx="342.3" cy="93.0" r="1.1"/><circle cx="419.5" cy="90.1" r="1.1"/><circle cx="344.3" cy="103.9" r="1.1"/><circle cx="366.8" cy="179.5" r="1.1"/><circle cx="431.9" cy="56.3" r="1.1"/><circle cx="356.5" cy="150.1" r="1.1"/><circle cx="407.7" cy="145.8" r="1.1"/><circle cx="360.7" cy="179.5" r="1.1"/><circle cx="368.6" cy="182.4" r="1.1"/><circle cx="341.6" cy="92.9" r="1.1"/><circle cx="398.3" cy="187.9" r="1.1"/><circle cx="415.6" cy="110.2" r="1.1"/><circle cx="338.7" cy="88.5" r="1.1"/><circle cx="406.7" cy="157.3" r="1.1"/><circle cx="396.3" cy="190.5" r="1.1"/><circle cx="335.4" cy="76.4" r="1.1"/><circle cx="329.6" cy="58.6" r="1.1"/><circle cx="330.0" cy="65.1" r="1.1"/><circle cx="403.5" cy="165.7" r="1.1"/><circle cx="372.3" cy="193.3" r="1.1"/><circle cx="390.5" cy="197.0" r="1.1"/><circle cx="426.4" cy="63.8" r="1.1"/><circle cx="357.7" cy="155.8" r="1.1"/><circle cx="383.8" cy="210.6" r="1.1"/><circle cx="333.2" cy="77.7" r="1.1"/><circle cx="412.4" cy="138.8" r="1.1"/><circle cx="360.3" cy="155.0" r="1.1"/><circle cx="351.1" cy="139.8" r="1.1"/><circle cx="400.0" cy="167.6" r="1.1"/><circle cx="340.4" cy="100.0" r="1.1"/><circle cx="385.4" cy="233.5" r="1.1"/><circle cx="409.0" cy="145.3" r="1.1"/><circle cx="407.3" cy="156.0" r="1.1"/><circle cx="392.1" cy="203.0" r="1.1"/><circle cx="333.6" cy="72.5" r="1.1"/><circle cx="430.1" cy="59.5" r="1.1"/><circle cx="372.9" cy="208.7" r="1.1"/><circle cx="418.6" cy="89.4" r="1.1"/><circle cx="394.2" cy="207.7" r="1.1"/><circle cx="385.1" cy="207.2" r="1.1"/><circle cx="424.6" cy="70.3" r="1.1"/><circle cx="420.2" cy="94.1" r="1.1"/><circle cx="416.0" cy="117.1" r="1.1"/><circle cx="363.8" cy="171.8" r="1.1"/><circle cx="422.8" cy="72.7" r="1.1"/><circle cx="337.5" cy="86.5" r="1.1"/><circle cx="367.5" cy="191.0" r="1.1"/><circle cx="403.0" cy="178.3" r="1.1"/><circle cx="346.3" cy="101.9" r="1.1"/><circle cx="363.1" cy="188.3" r="1.1"/><circle cx="375.0" cy="209.2" r="1.1"/><circle cx="428.9" cy="59.4" r="1.1"/><circle cx="386.0" cy="218.0" r="1.1"/><circle cx="336.0" cy="83.2" r="1.1"/><circle cx="374.0" cy="208.7" r="1.1"/><circle cx="404.1" cy="173.4" r="1.1"/><circle cx="382.9" cy="218.6" r="1.1"/><circle cx="331.4" cy="70.3" r="1.1"/><circle cx="375.7" cy="192.3" r="1.1"/><circle cx="371.4" cy="202.4" r="1.1"/><circle cx="345.0" cy="116.0" r="1.1"/><circle cx="426.6" cy="59.0" r="1.1"/><circle cx="340.0" cy="79.9" r="1.1"/><circle cx="344.0" cy="96.7" r="1.1"/><circle cx="359.1" cy="169.4" r="1.1"/><circle cx="350.8" cy="114.8" r="1.1"/><circle cx="380.5" cy="215.4" r="1.1"/><circle cx="427.3" cy="53.1" r="1.1"/><circle cx="388.2" cy="223.9" r="1.1"/><circle cx="392.7" cy="205.0" r="1.1"/><circle cx="398.8" cy="178.5" r="1.1"/><circle cx="414.7" cy="118.8" r="1.1"/><circle cx="406.2" cy="155.5" r="1.1"/><circle cx="395.6" cy="183.2" r="1.1"/><circle cx="419.1" cy="87.3" r="1.1"/><circle cx="395.0" cy="191.5" r="1.1"/><circle cx="386.6" cy="213.1" r="1.1"/><circle cx="397.9" cy="172.6" r="1.1"/><circle cx="409.7" cy="144.7" r="1.1"/><circle cx="358.6" cy="159.8" r="1.1"/><circle cx="334.9" cy="66.2" r="1.1"/><circle cx="328.7" cy="63.1" r="1.1"/><circle cx="388.0" cy="221.8" r="1.1"/><circle cx="337.7" cy="80.1" r="1.1"/><circle cx="331.9" cy="64.2" r="1.1"/><circle cx="378.9" cy="216.7" r="1.1"/><circle cx="424.8" cy="79.0" r="1.1"/><circle cx="347.1" cy="108.9" r="1.1"/><circle cx="388.2" cy="203.8" r="1.1"/><circle cx="332.1" cy="74.3" r="1.1"/><circle cx="404.3" cy="180.1" r="1.1"/><circle cx="364.8" cy="183.2" r="1.1"/><circle cx="329.3" cy="46.9" r="1.1"/><circle cx="334.7" cy="75.1" r="1.1"/><circle cx="333.8" cy="64.6" r="1.1"/><circle cx="331.0" cy="72.4" r="1.1"/><circle cx="344.8" cy="110.5" r="1.1"/><circle cx="374.2" cy="205.8" r="1.1"/><circle cx="351.2" cy="129.3" r="1.1"/><circle cx="383.2" cy="228.4" r="1.1"/><circle cx="423.1" cy="80.3" r="1.1"/><circle cx="342.2" cy="91.7" r="1.1"/><circle cx="345.5" cy="100.5" r="1.1"/><circle cx="361.4" cy="186.5" r="1.1"/><circle cx="423.2" cy="72.8" r="1.1"/><circle cx="340.6" cy="76.5" r="1.1"/><circle cx="415.7" cy="114.2" r="1.1"/><circle cx="418.1" cy="96.7" r="1.1"/><circle cx="376.9" cy="208.8" r="1.1"/><circle cx="425.9" cy="57.2" r="1.1"/><circle cx="427.5" cy="59.5" r="1.1"/><circle cx="354.5" cy="141.9" r="1.1"/><circle cx="374.9" cy="208.7" r="1.1"/><circle cx="353.4" cy="130.5" r="1.1"/><circle cx="335.6" cy="74.3" r="1.1"/><circle cx="399.1" cy="181.4" r="1.1"/><circle cx="402.8" cy="182.2" r="1.1"/><circle cx="365.2" cy="189.6" r="1.1"/><circle cx="413.1" cy="132.2" r="1.1"/><circle cx="414.1" cy="131.9" r="1.1"/><circle cx="334.0" cy="67.5" r="1.1"/><circle cx="425.5" cy="73.5" r="1.1"/><circle cx="330.5" cy="64.3" r="1.1"/><circle cx="331.5" cy="78.2" r="1.1"/><circle cx="347.7" cy="126.5" r="1.1"/><circle cx="342.1" cy="108.8" r="1.1"/><circle cx="398.5" cy="180.5" r="1.1"/><circle cx="366.6" cy="197.0" r="1.1"/><circle cx="343.7" cy="108.4" r="1.1"/><circle cx="358.6" cy="166.1" r="1.1"/><circle cx="384.1" cy="206.0" r="1.1"/><circle cx="416.6" cy="94.8" r="1.1"/><circle cx="354.1" cy="140.5" r="1.1"/><circle cx="424.3" cy="74.0" r="1.1"/><circle cx="408.8" cy="154.6" r="1.1"/><circle cx="418.4" cy="90.9" r="1.1"/><circle cx="416.5" cy="117.1" r="1.1"/><circle cx="342.7" cy="91.4" r="1.1"/><circle cx="367.3" cy="187.7" r="1.1"/><circle cx="382.2" cy="220.0" r="1.1"/><circle cx="351.8" cy="129.8" r="1.1"/><circle cx="375.5" cy="204.0" r="1.1"/><circle cx="422.7" cy="58.4" r="1.1"/><circle cx="400.9" cy="171.0" r="1.1"/><circle cx="386.4" cy="203.6" r="1.1"/><circle cx="328.9" cy="65.1" r="1.1"/><circle cx="425.2" cy="65.9" r="1.1"/><circle cx="388.7" cy="222.3" r="1.1"/><circle cx="329.5" cy="64.5" r="1.1"/><circle cx="330.8" cy="59.3" r="1.1"/><circle cx="339.6" cy="100.5" r="1.1"/><circle cx="346.1" cy="114.5" r="1.1"/><circle cx="390.5" cy="216.6" r="1.1"/><circle cx="386.8" cy="219.2" r="1.1"/><circle cx="393.6" cy="193.7" r="1.1"/><circle cx="336.6" cy="79.8" r="1.1"/><circle cx="377.5" cy="212.0" r="1.1"/><circle cx="384.3" cy="215.1" r="1.1"/><circle cx="369.9" cy="203.7" r="1.1"/><circle cx="348.2" cy="129.9" r="1.1"/><circle cx="340.4" cy="82.7" r="1.1"/><circle cx="353.1" cy="134.8" r="1.1"/><circle cx="431.1" cy="44.6" r="1.1"/><circle cx="404.9" cy="167.1" r="1.1"/><circle cx="338.0" cy="80.6" r="1.1"/><circle cx="430.4" cy="46.7" r="1.1"/><circle cx="413.4" cy="133.9" r="1.1"/><circle cx="410.3" cy="149.6" r="1.1"/><circle cx="431.5" cy="54.9" r="1.1"/><circle cx="341.4" cy="85.7" r="1.1"/><circle cx="391.7" cy="200.7" r="1.1"/><circle cx="398.0" cy="190.9" r="1.1"/><circle cx="385.8" cy="205.8" r="1.1"/><circle cx="373.7" cy="199.3" r="1.1"/><circle cx="429.5" cy="70.5" r="1.1"/><circle cx="366.1" cy="190.4" r="1.1"/><circle cx="363.7" cy="189.1" r="1.1"/><circle cx="421.9" cy="80.1" r="1.1"/><circle cx="409.6" cy="143.4" r="1.1"/><circle cx="407.2" cy="159.6" r="1.1"/><circle cx="394.8" cy="200.8" r="1.1"/><circle cx="412.5" cy="131.3" r="1.1"/><circle cx="412.6" cy="142.3" r="1.1"/><circle cx="385.2" cy="227.0" r="1.1"/><circle cx="396.3" cy="197.7" r="1.1"/><circle cx="415.3" cy="110.0" r="1.1"/><circle cx="332.6" cy="62.0" r="1.1"/><circle cx="361.0" cy="157.8" r="1.1"/><circle cx="362.1" cy="176.9" r="1.1"/><circle cx="352.2" cy="134.8" r="1.1"/><circle cx="345.4" cy="122.2" r="1.1"/><circle cx="417.8" cy="93.4" r="1.1"/><circle cx="391.9" cy="200.4" r="1.1"/><circle cx="426.2" cy="61.5" r="1.1"/><circle cx="431.9" cy="59.9" r="1.1"/><circle cx="349.7" cy="132.0" r="1.1"/><circle cx="377.8" cy="213.3" r="1.1"/><circle cx="422.3" cy="85.5" r="1.1"/><circle cx="350.7" cy="137.1" r="1.1"/><circle cx="397.0" cy="181.3" r="1.1"/><circle cx="371.3" cy="180.9" r="1.1"/><circle cx="349.3" cy="112.7" r="1.1"/><circle cx="416.2" cy="112.5" r="1.1"/><circle cx="399.7" cy="179.2" r="1.1"/><circle cx="376.9" cy="206.9" r="1.1"/><circle cx="378.1" cy="206.4" r="1.1"/><circle cx="393.2" cy="207.4" r="1.1"/><circle cx="361.8" cy="174.0" r="1.1"/><circle cx="380.8" cy="215.5" r="1.1"/><circle cx="381.2" cy="208.8" r="1.1"/><circle cx="419.0" cy="87.4" r="1.1"/><circle cx="370.5" cy="199.2" r="1.1"/><circle cx="401.6" cy="170.9" r="1.1"/><circle cx="390.9" cy="202.5" r="1.1"/><circle cx="356.8" cy="160.1" r="1.1"/><circle cx="378.4" cy="221.6" r="1.1"/><circle cx="370.9" cy="203.8" r="1.1"/><circle cx="414.0" cy="141.5" r="1.1"/><circle cx="403.7" cy="170.5" r="1.1"/><circle cx="395.2" cy="193.7" r="1.1"/><circle cx="369.6" cy="188.8" r="1.1"/><circle cx="336.9" cy="74.3" r="1.1"/><circle cx="430.5" cy="68.3" r="1.1"/><circle cx="408.4" cy="156.9" r="1.1"/><circle cx="399.9" cy="186.3" r="1.1"/><circle cx="405.7" cy="170.8" r="1.1"/><circle cx="372.4" cy="199.7" r="1.1"/><circle cx="362.5" cy="172.4" r="1.1"/><circle cx="376.1" cy="211.8" r="1.1"/><circle cx="406.8" cy="163.6" r="1.1"/><circle cx="393.6" cy="205.2" r="1.1"/><circle cx="394.6" cy="202.4" r="1.1"/><circle cx="395.5" cy="195.0" r="1.1"/><circle cx="382.9" cy="210.5" r="1.1"/><circle cx="379.3" cy="212.9" r="1.1"/><circle cx="357.3" cy="155.8" r="1.1"/><circle cx="367.8" cy="199.4" r="1.1"/><circle cx="352.8" cy="122.1" r="1.1"/><circle cx="402.1" cy="175.4" r="1.1"/><circle cx="417.1" cy="123.4" r="1.1"/><circle cx="362.8" cy="171.9" r="1.1"/><circle cx="373.5" cy="196.5" r="1.1"/><circle cx="397.8" cy="185.5" r="1.1"/><circle cx="427.3" cy="71.3" r="1.1"/><circle cx="387.8" cy="215.4" r="1.1"/><circle cx="406.5" cy="164.2" r="1.1"/><circle cx="330.1" cy="61.1" r="1.1"/><circle cx="364.2" cy="176.7" r="1.1"/><circle cx="383.7" cy="241.1" r="1.1"/><circle cx="374.6" cy="205.2" r="1.1"/><circle cx="390.3" cy="209.1" r="1.1"/><circle cx="381.8" cy="212.5" r="1.1"/><circle cx="359.8" cy="181.9" r="1.1"/><circle cx="407.7" cy="161.6" r="1.1"/><circle cx="358.2" cy="168.6" r="1.1"/><circle cx="367.5" cy="191.1" r="1.1"/><circle cx="354.6" cy="137.3" r="1.1"/><circle cx="353.6" cy="143.9" r="1.1"/><circle cx="427.1" cy="60.6" r="1.1"/><circle cx="335.7" cy="77.8" r="1.1"/><circle cx="410.8" cy="136.2" r="1.1"/><circle cx="396.6" cy="185.8" r="1.1"/><circle cx="344.4" cy="101.7" r="1.1"/><circle cx="338.7" cy="85.0" r="1.1"/><circle cx="428.9" cy="50.1" r="1.1"/><circle cx="358.9" cy="173.3" r="1.1"/><circle cx="333.3" cy="68.8" r="1.1"/><circle cx="430.0" cy="51.6" r="1.1"/><circle cx="426.6" cy="59.3" r="1.1"/><circle cx="431.7" cy="53.3" r="1.1"/><circle cx="389.7" cy="221.4" r="1.1"/><circle cx="332.8" cy="48.3" r="1.1"/><circle cx="355.2" cy="149.1" r="1.1"/><circle cx="350.4" cy="113.0" r="1.1"/><circle cx="391.2" cy="208.4" r="1.1"/><circle cx="346.6" cy="121.1" r="1.1"/><circle cx="394.1" cy="194.7" r="1.1"/><circle cx="409.7" cy="151.9" r="1.1"/><circle cx="369.1" cy="192.8" r="1.1"/><circle cx="343.5" cy="115.1" r="1.1"/><circle cx="346.6" cy="119.4" r="1.1"/><circle cx="428.4" cy="65.4" r="1.1"/><circle cx="356.7" cy="148.5" r="1.1"/><circle cx="405.4" cy="159.4" r="1.1"/><circle cx="364.1" cy="197.7" r="1.1"/><circle cx="335.3" cy="67.4" r="1.1"/><circle cx="365.4" cy="183.3" r="1.1"/><circle cx="350.2" cy="136.3" r="1.1"/><circle cx="402.4" cy="167.2" r="1.1"/><circle cx="380.2" cy="220.4" r="1.1"/><circle cx="421.3" cy="83.5" r="1.1"/><circle cx="345.0" cy="127.5" r="1.1"/><circle cx="400.2" cy="175.6" r="1.1"/><circle cx="411.3" cy="145.9" r="1.1"/><circle cx="420.9" cy="80.2" r="1.1"/><circle cx="337.4" cy="86.1" r="1.1"/><circle cx="357.6" cy="157.8" r="1.1"/><circle cx="355.7" cy="161.4" r="1.1"/><circle cx="396.0" cy="195.7" r="1.1"/><circle cx="414.4" cy="128.2" r="1.1"/><circle cx="360.1" cy="158.7" r="1.1"/><circle cx="347.6" cy="130.0" r="1.1"/><circle cx="339.1" cy="86.9" r="1.1"/><circle cx="371.4" cy="200.8" r="1.1"/><circle cx="392.9" cy="204.3" r="1.1"/><circle cx="410.5" cy="137.3" r="1.1"/><circle cx="368.8" cy="189.8" r="1.1"/><circle cx="343.2" cy="102.8" r="1.1"/><circle cx="419.7" cy="100.7" r="1.1"/><circle cx="404.0" cy="167.3" r="1.1"/><circle cx="382.6" cy="210.1" r="1.1"/><circle cx="355.5" cy="178.0" r="1.1"/><circle cx="341.6" cy="87.3" r="1.1"/><circle cx="402.0" cy="190.1" r="1.1"/><circle cx="336.1" cy="74.8" r="1.1"/><circle cx="420.0" cy="81.3" r="1.1"/><circle cx="360.7" cy="182.3" r="1.1"/><circle cx="379.9" cy="227.2" r="1.1"/><circle cx="373.0" cy="191.7" r="1.1"/><circle cx="421.6" cy="92.2" r="1.1"/><circle cx="407.9" cy="155.4" r="1.1"/><circle cx="399.2" cy="192.2" r="1.1"/><circle cx="409.3" cy="149.0" r="1.1"/><circle cx="351.5" cy="127.3" r="1.1"/><circle cx="411.6" cy="144.4" r="1.1"/><circle cx="372.1" cy="210.5" r="1.1"/><circle cx="376.3" cy="224.9" r="1.1"/><circle cx="348.8" cy="140.3" r="1.1"/><circle cx="338.5" cy="82.7" r="1.1"/><circle cx="372.8" cy="202.2" r="1.1"/><circle cx="387.1" cy="213.1" r="1.1"/><circle cx="384.6" cy="215.1" r="1.1"/><circle cx="406.3" cy="157.2" r="1.1"/><circle cx="359.7" cy="173.1" r="1.1"/><circle cx="397.4" cy="170.6" r="1.1"/><circle cx="363.1" cy="182.6" r="1.1"/><circle cx="348.9" cy="112.4" r="1.1"/><circle cx="419.2" cy="106.9" r="1.1"/><circle cx="424.0" cy="84.8" r="1.1"/><circle cx="356.3" cy="143.1" r="1.1"/><circle cx="429.2" cy="64.8" r="1.1"/><circle cx="400.6" cy="170.0" r="1.1"/><circle cx="370.0" cy="187.6" r="1.1"/><circle cx="411.9" cy="128.6" r="1.1"/><circle cx="417.4" cy="114.9" r="1.1"/><circle cx="414.8" cy="132.5" r="1.1"/><circle cx="367.0" cy="179.5" r="1.1"/><circle cx="420.4" cy="86.6" r="1.1"/><circle cx="389.3" cy="222.0" r="1.1"/><circle cx="381.5" cy="220.0" r="1.1"/><circle cx="359.4" cy="168.3" r="1.1"/><circle cx="423.8" cy="67.8" r="1.1"/><circle cx="385.5" cy="212.6" r="1.1"/><circle cx="386.1" cy="218.1" r="1.1"/><circle cx="379.6" cy="222.5" r="1.1"/><circle cx="365.7" cy="181.3" r="1.1"/><circle cx="375.3" cy="199.6" r="1.1"/><circle cx="334.5" cy="75.7" r="1.1"/><circle cx="403.3" cy="167.1" r="1.1"/><circle cx="392.5" cy="212.8" r="1.1"/><circle cx="341.0" cy="87.2" r="1.1"/><circle cx="339.9" cy="88.6" r="1.1"/><circle cx="368.2" cy="203.8" r="1.1"/><circle cx="389.0" cy="220.7" r="1.1"/><circle cx="405.0" cy="171.1" r="1.1"/><circle cx="428.2" cy="60.3" r="1.1"/><circle cx="425.8" cy="79.1" r="1.1"/><circle cx="336.8" cy="84.2" r="1.1"/><circle cx="360.7" cy="171.9" r="1.1"/><circle cx="421.8" cy="82.8" r="1.1"/><circle cx="350.9" cy="126.4" r="1.1"/><circle cx="391.2" cy="209.3" r="1.1"/><circle cx="343.3" cy="113.2" r="1.1"/><circle cx="407.1" cy="148.0" r="1.1"/><circle cx="337.7" cy="98.2" r="1.1"/><circle cx="334.0" cy="65.0" r="1.1"/><circle cx="362.6" cy="185.0" r="1.1"/><circle cx="415.6" cy="119.8" r="1.1"/><circle cx="342.4" cy="87.3" r="1.1"/><circle cx="387.9" cy="219.8" r="1.1"/><circle cx="411.9" cy="143.9" r="1.1"/><circle cx="344.8" cy="108.5" r="1.1"/><circle cx="370.1" cy="186.0" r="1.1"/><circle cx="367.7" cy="195.0" r="1.1"/><circle cx="366.6" cy="184.9" r="1.1"/><circle cx="361.1" cy="185.4" r="1.1"/><circle cx="347.3" cy="106.5" r="1.1"/><circle cx="392.3" cy="203.8" r="1.1"/><circle cx="346.0" cy="111.9" r="1.1"/><circle cx="426.5" cy="52.1" r="1.1"/><circle cx="391.0" cy="206.5" r="1.1"/><circle cx="361.5" cy="186.4" r="1.1"/><circle cx="428.9" cy="66.0" r="1.1"/><circle cx="413.7" cy="128.0" r="1.1"/><circle cx="382.5" cy="225.1" r="1.1"/><circle cx="374.3" cy="214.4" r="1.1"/><circle cx="379.8" cy="218.8" r="1.1"/><circle cx="392.6" cy="207.6" r="1.1"/><circle cx="337.5" cy="76.9" r="1.1"/><circle cx="355.6" cy="142.0" r="1.1"/><circle cx="368.6" cy="190.1" r="1.1"/><circle cx="418.2" cy="97.8" r="1.1"/><circle cx="368.7" cy="191.7" r="1.1"/><circle cx="418.9" cy="112.2" r="1.1"/><circle cx="349.7" cy="131.7" r="1.1"/><circle cx="431.5" cy="44.0" r="1.1"/><circle cx="329.3" cy="58.9" r="1.1"/><circle cx="411.5" cy="142.2" r="1.1"/><circle cx="417.0" cy="100.5" r="1.1"/><circle cx="328.5" cy="59.3" r="1.1"/><circle cx="395.2" cy="187.5" r="1.1"/><circle cx="360.2" cy="166.5" r="1.1"/><circle cx="424.1" cy="68.8" r="1.1"/><circle cx="370.7" cy="199.2" r="1.1"/><circle cx="384.5" cy="213.9" r="1.1"/><circle cx="346.9" cy="109.0" r="1.1"/><circle cx="413.2" cy="143.3" r="1.1"/><circle cx="375.5" cy="190.7" r="1.1"/><circle cx="354.5" cy="130.6" r="1.1"/><circle cx="332.4" cy="66.2" r="1.1"/><circle cx="384.9" cy="213.5" r="1.1"/><circle cx="394.2" cy="205.4" r="1.1"/><circle cx="356.0" cy="155.9" r="1.1"/><circle cx="414.3" cy="120.6" r="1.1"/><circle cx="345.0" cy="118.3" r="1.1"/><circle cx="417.6" cy="94.8" r="1.1"/><circle cx="417.0" cy="104.7" r="1.1"/><circle cx="346.4" cy="107.2" r="1.1"/><circle cx="352.3" cy="122.6" r="1.1"/><circle cx="365.2" cy="182.3" r="1.1"/><circle cx="424.9" cy="73.6" r="1.1"/><circle cx="357.5" cy="156.0" r="1.1"/><circle cx="377.2" cy="203.7" r="1.1"/><circle cx="427.9" cy="62.2" r="1.1"/><circle cx="430.7" cy="48.8" r="1.1"/><circle cx="349.0" cy="111.7" r="1.1"/><circle cx="329.8" cy="56.3" r="1.1"/><circle cx="353.0" cy="144.0" r="1.1"/><circle cx="329.2" cy="59.8" r="1.1"/><circle cx="431.3" cy="53.4" r="1.1"/><circle cx="404.7" cy="163.1" r="1.1"/><circle cx="395.9" cy="203.1" r="1.1"/><circle cx="339.5" cy="88.0" r="1.1"/><circle cx="389.5" cy="222.2" r="1.1"/><circle cx="380.7" cy="212.6" r="1.1"/><circle cx="399.7" cy="186.0" r="1.1"/><circle cx="365.8" cy="191.8" r="1.1"/><circle cx="337.0" cy="87.7" r="1.1"/><circle cx="390.4" cy="228.3" r="1.1"/><circle cx="367.3" cy="186.2" r="1.1"/><circle cx="398.5" cy="184.7" r="1.1"/><circle cx="425.4" cy="63.2" r="1.1"/><circle cx="383.5" cy="189.1" r="1.1"/><circle cx="364.1" cy="170.6" r="1.1"/><circle cx="336.4" cy="75.7" r="1.1"/><circle cx="375.9" cy="211.3" r="1.1"/><circle cx="334.8" cy="70.2" r="1.1"/><circle cx="387.1" cy="224.3" r="1.1"/><circle cx="371.3" cy="207.2" r="1.1"/><circle cx="362.0" cy="180.5" r="1.1"/><circle cx="341.4" cy="91.6" r="1.1"/><circle cx="348.2" cy="127.8" r="1.1"/><circle cx="378.5" cy="216.8" r="1.1"/><circle cx="380.3" cy="205.9" r="1.1"/><circle cx="402.3" cy="185.1" r="1.1"/><circle cx="409.3" cy="146.8" r="1.1"/><circle cx="430.2" cy="55.3" r="1.1"/><circle cx="364.5" cy="178.6" r="1.1"/><circle cx="426.1" cy="58.0" r="1.1"/><circle cx="428.0" cy="67.9" r="1.1"/><circle cx="348.7" cy="116.3" r="1.1"/><circle cx="369.5" cy="201.8" r="1.1"/><circle cx="366.3" cy="188.7" r="1.1"/><circle cx="391.9" cy="202.8" r="1.1"/><circle cx="357.8" cy="156.1" r="1.1"/><circle cx="372.0" cy="203.0" r="1.1"/><circle cx="331.0" cy="60.1" r="1.1"/><circle cx="338.2" cy="99.0" r="1.1"/><circle cx="345.4" cy="112.2" r="1.1"/><circle cx="412.5" cy="133.7" r="1.1"/><circle cx="409.8" cy="156.4" r="1.1"/><circle cx="357.2" cy="151.3" r="1.1"/><circle cx="418.5" cy="97.8" r="1.1"/><circle cx="343.1" cy="108.9" r="1.1"/><circle cx="407.9" cy="156.8" r="1.1"/><circle cx="333.7" cy="70.7" r="1.1"/><circle cx="352.1" cy="146.5" r="1.1"/><circle cx="427.0" cy="62.5" r="1.1"/><circle cx="335.8" cy="81.3" r="1.1"/><circle cx="374.7" cy="210.8" r="1.1"/><circle cx="401.4" cy="181.4" r="1.1"/><circle cx="429.4" cy="38.4" r="1.1"/><circle cx="420.1" cy="85.0" r="1.1"/><circle cx="410.7" cy="139.0" r="1.1"/><circle cx="339.4" cy="77.6" r="1.1"/><circle cx="403.1" cy="173.7" r="1.1"/><circle cx="334.6" cy="80.6" r="1.1"/><circle cx="341.6" cy="125.2" r="1.1"/><circle cx="373.6" cy="203.7" r="1.1"/><circle cx="373.2" cy="202.5" r="1.1"/><circle cx="383.1" cy="228.9" r="1.1"/><circle cx="371.2" cy="196.1" r="1.1"/><circle cx="382.7" cy="217.1" r="1.1"/><circle cx="378.1" cy="221.8" r="1.1"/><circle cx="406.7" cy="162.0" r="1.1"/><circle cx="377.7" cy="193.4" r="1.1"/><circle cx="393.6" cy="201.9" r="1.1"/><circle cx="408.2" cy="150.2" r="1.1"/><circle cx="381.1" cy="213.2" r="1.1"/><circle cx="335.5" cy="76.5" r="1.1"/><circle cx="394.0" cy="204.4" r="1.1"/><circle cx="379.2" cy="209.0" r="1.1"/><circle cx="333.2" cy="73.7" r="1.1"/><circle cx="421.5" cy="83.6" r="1.1"/><circle cx="407.4" cy="157.4" r="1.1"/><circle cx="358.4" cy="166.8" r="1.1"/><circle cx="396.7" cy="190.4" r="1.1"/><circle cx="408.9" cy="148.6" r="1.1"/><circle cx="344.0" cy="89.9" r="1.1"/><circle cx="367.9" cy="190.0" r="1.1"/><circle cx="404.0" cy="162.6" r="1.1"/><circle cx="375.2" cy="199.2" r="1.1"/><circle cx="377.1" cy="218.6" r="1.1"/><circle cx="406.2" cy="161.0" r="1.1"/><circle cx="332.9" cy="70.9" r="1.1"/><circle cx="382.2" cy="214.9" r="1.1"/><circle cx="416.3" cy="116.7" r="1.1"/><circle cx="340.7" cy="87.8" r="1.1"/><circle cx="415.0" cy="120.0" r="1.1"/><circle cx="352.6" cy="141.4" r="1.1"/><circle cx="392.9" cy="212.1" r="1.1"/><circle cx="388.9" cy="208.7" r="1.1"/><circle cx="384.1" cy="224.1" r="1.1"/><circle cx="400.8" cy="163.5" r="1.1"/><circle cx="385.8" cy="208.3" r="1.1"/><circle cx="390.2" cy="219.8" r="1.1"/><circle cx="422.7" cy="77.9" r="1.1"/><circle cx="355.4" cy="153.6" r="1.1"/><circle cx="424.5" cy="69.2" r="1.1"/><circle cx="330.7" cy="53.4" r="1.1"/><circle cx="363.4" cy="181.0" r="1.1"/><circle cx="422.4" cy="70.0" r="1.1"/><circle cx="409.8" cy="145.8" r="1.1"/><circle cx="396.4" cy="186.1" r="1.1"/><circle cx="404.7" cy="172.3" r="1.1"/><circle cx="401.2" cy="183.1" r="1.1"/><circle cx="397.7" cy="179.8" r="1.1"/><circle cx="385.6" cy="228.8" r="1.1"/><circle cx="379.6" cy="209.1" r="1.1"/><circle cx="358.7" cy="148.7" r="1.1"/><circle cx="389.4" cy="196.2" r="1.1"/><circle cx="365.5" cy="198.0" r="1.1"/><circle cx="428.7" cy="61.9" r="1.1"/><circle cx="351.7" cy="114.3" r="1.1"/><circle cx="372.3" cy="196.6" r="1.1"/><circle cx="331.8" cy="58.9" r="1.1"/><circle cx="394.7" cy="205.1" r="1.1"/><circle cx="419.3" cy="93.7" r="1.1"/><circle cx="420.7" cy="102.4" r="1.1"/><circle cx="386.2" cy="214.9" r="1.1"/><circle cx="344.4" cy="94.3" r="1.1"/><circle cx="363.8" cy="183.4" r="1.1"/><circle cx="386.8" cy="213.5" r="1.1"/><circle cx="342.7" cy="87.3" r="1.1"/><circle cx="414.7" cy="136.5" r="1.1"/><circle cx="419.9" cy="86.1" r="1.1"/><circle cx="405.5" cy="172.3" r="1.1"/><circle cx="398.3" cy="184.2" r="1.1"/><circle cx="356.4" cy="139.9" r="1.1"/><circle cx="369.5" cy="195.4" r="1.1"/><circle cx="427.4" cy="55.3" r="1.1"/><circle cx="411.2" cy="151.5" r="1.1"/><circle cx="363.1" cy="184.9" r="1.1"/><circle cx="400.2" cy="180.4" r="1.1"/><circle cx="405.9" cy="168.7" r="1.1"/><circle cx="410.3" cy="148.6" r="1.1"/><circle cx="399.0" cy="179.2" r="1.1"/><circle cx="421.2" cy="94.1" r="1.1"/><circle cx="397.4" cy="184.9" r="1.1"/><circle cx="359.1" cy="175.2" r="1.1"/><circle cx="350.2" cy="117.7" r="1.1"/><circle cx="330.3" cy="61.0" r="1.1"/><circle cx="354.8" cy="153.5" r="1.1"/><circle cx="399.4" cy="175.2" r="1.1"/><circle cx="388.6" cy="210.9" r="1.1"/><circle cx="413.5" cy="125.2" r="1.1"/><circle cx="432.0" cy="62.5" r="1.1"/><circle cx="349.5" cy="118.2" r="1.1"/><circle cx="403.0" cy="175.8" r="1.1"/><circle cx="387.5" cy="227.9" r="1.1"/><circle cx="376.7" cy="209.9" r="1.1"/><circle cx="360.1" cy="164.3" r="1.1"/><circle cx="403.8" cy="172.4" r="1.1"/><circle cx="338.6" cy="95.6" r="1.1"/><circle cx="416.1" cy="109.1" r="1.1"/><circle cx="430.1" cy="64.3" r="1.1"/><circle cx="372.6" cy="206.8" r="1.1"/><circle cx="350.7" cy="134.6" r="1.1"/><circle cx="373.8" cy="204.3" r="1.1"/><circle cx="353.7" cy="134.6" r="1.1"/><circle cx="332.1" cy="62.2" r="1.1"/><circle cx="423.7" cy="74.3" r="1.1"/><circle cx="340.2" cy="104.8" r="1.1"/><circle cx="347.6" cy="125.8" r="1.1"/><circle cx="340.7" cy="82.8" r="1.1"/><circle cx="359.7" cy="166.5" r="1.1"/><circle cx="401.7" cy="178.7" r="1.1"/><circle cx="381.5" cy="202.4" r="1.1"/><circle cx="353.9" cy="139.4" r="1.1"/><circle cx="395.7" cy="184.2" r="1.1"/><circle cx="423.1" cy="81.4" r="1.1"/><circle cx="339.4" cy="78.6" r="1.1"/><circle cx="356.9" cy="171.3" r="1.1"/><circle cx="359.0" cy="165.8" r="1.1"/><circle cx="422.0" cy="69.2" r="1.1"/><circle cx="408.0" cy="149.2" r="1.1"/><circle cx="408.5" cy="143.8" r="1.1"/><circle cx="379.1" cy="213.6" r="1.1"/><circle cx="390.6" cy="220.8" r="1.1"/><circle cx="389.8" cy="208.8" r="1.1"/><circle cx="336.3" cy="70.5" r="1.1"/><circle cx="391.6" cy="200.1" r="1.1"/><circle cx="411.5" cy="141.7" r="1.1"/><circle cx="345.8" cy="121.2" r="1.1"/><circle cx="367.9" cy="172.6" r="1.1"/><circle cx="343.7" cy="113.8" r="1.1"/><circle cx="338.7" cy="84.4" r="1.1"/><circle cx="376.1" cy="192.2" r="1.1"/><circle cx="407.6" cy="146.1" r="1.1"/><circle cx="341.3" cy="74.7" r="1.1"/><circle cx="401.8" cy="180.9" r="1.1"/><circle cx="388.1" cy="211.2" r="1.1"/><circle cx="401.7" cy="173.6" r="1.1"/><circle cx="370.8" cy="199.5" r="1.1"/><circle cx="355.1" cy="147.6" r="1.1"/><circle cx="404.9" cy="166.8" r="1.1"/><circle cx="425.7" cy="61.4" r="1.1"/><circle cx="431.6" cy="67.2" r="1.1"/><circle cx="365.4" cy="178.9" r="1.1"/><circle cx="420.8" cy="99.2" r="1.1"/><circle cx="351.5" cy="123.9" r="1.1"/><circle cx="389.9" cy="205.6" r="1.1"/><circle cx="359.9" cy="171.3" r="1.1"/><circle cx="371.1" cy="197.6" r="1.1"/><circle cx="348.8" cy="102.2" r="1.1"/><circle cx="404.6" cy="166.7" r="1.1"/><circle cx="345.4" cy="99.8" r="1.1"/><circle cx="375.2" cy="198.2" r="1.1"/><circle cx="344.2" cy="106.3" r="1.1"/><circle cx="409.8" cy="140.6" r="1.1"/><circle cx="380.5" cy="216.1" r="1.1"/><circle cx="348.0" cy="118.2" r="1.1"/><circle cx="416.5" cy="115.5" r="1.1"/><circle cx="334.3" cy="58.2" r="1.1"/><circle cx="392.5" cy="194.8" r="1.1"/><circle cx="358.5" cy="162.2" r="1.1"/><circle cx="407.0" cy="149.1" r="1.1"/><circle cx="422.6" cy="76.5" r="1.1"/><circle cx="406.8" cy="160.0" r="1.1"/><circle cx="370.0" cy="202.3" r="1.1"/><circle cx="378.3" cy="210.5" r="1.1"/><circle cx="398.8" cy="182.6" r="1.1"/><circle cx="385.7" cy="217.5" r="1.1"/><circle cx="356.5" cy="161.0" r="1.1"/><circle cx="331.7" cy="67.8" r="1.1"/><circle cx="349.8" cy="134.1" r="1.1"/><circle cx="389.3" cy="218.8" r="1.1"/><circle cx="346.7" cy="126.6" r="1.1"/><circle cx="427.3" cy="50.9" r="1.1"/><circle cx="372.9" cy="193.9" r="1.1"/><circle cx="394.8" cy="198.2" r="1.1"/><circle cx="380.0" cy="194.0" r="1.1"/><circle cx="428.6" cy="53.1" r="1.1"/><circle cx="343.3" cy="108.7" r="1.1"/><circle cx="432.2" cy="54.1" r="1.1"/><circle cx="384.9" cy="206.3" r="1.1"/><circle cx="335.3" cy="82.3" r="1.1"/><circle cx="388.4" cy="224.7" r="1.1"/><circle cx="331.8" cy="63.9" r="1.1"/><circle cx="402.9" cy="179.8" r="1.1"/><circle cx="358.4" cy="167.4" r="1.1"/><circle cx="346.4" cy="104.1" r="1.1"/><circle cx="410.9" cy="158.0" r="1.1"/><circle cx="343.0" cy="103.6" r="1.1"/><circle cx="425.9" cy="59.3" r="1.1"/><circle cx="338.2" cy="73.7" r="1.1"/><circle cx="382.0" cy="213.9" r="1.1"/><circle cx="374.6" cy="190.7" r="1.1"/><circle cx="392.9" cy="203.0" r="1.1"/><circle cx="414.2" cy="131.1" r="1.1"/><circle cx="421.5" cy="83.2" r="1.1"/><circle cx="396.4" cy="185.6" r="1.1"/><circle cx="390.8" cy="220.0" r="1.1"/><circle cx="350.8" cy="125.4" r="1.1"/><circle cx="360.5" cy="178.3" r="1.1"/><circle cx="352.8" cy="140.0" r="1.1"/><circle cx="366.8" cy="188.2" r="1.1"/><circle cx="349.3" cy="121.7" r="1.1"/><circle cx="342.3" cy="99.9" r="1.1"/><circle cx="382.5" cy="212.6" r="1.1"/><circle cx="361.5" cy="173.4" r="1.1"/><circle cx="400.7" cy="172.8" r="1.1"/><circle cx="339.7" cy="93.9" r="1.1"/><circle cx="413.0" cy="131.4" r="1.1"/><circle cx="363.8" cy="175.0" r="1.1"/><circle cx="330.8" cy="56.4" r="1.1"/><circle cx="369.8" cy="185.0" r="1.1"/><circle cx="364.7" cy="184.5" r="1.1"/><circle cx="363.2" cy="179.8" r="1.1"/><circle cx="397.2" cy="185.6" r="1.1"/><circle cx="400.0" cy="173.1" r="1.1"/><circle cx="351.9" cy="140.6" r="1.1"/><circle cx="384.2" cy="204.2" r="1.1"/><circle cx="369.1" cy="171.2" r="1.1"/><circle cx="383.3" cy="213.3" r="1.1"/><circle cx="329.5" cy="47.8" r="1.1"/><circle cx="424.9" cy="59.3" r="1.1"/><circle cx="391.5" cy="195.9" r="1.1"/><circle cx="402.3" cy="176.6" r="1.1"/><circle cx="368.8" cy="181.5" r="1.1"/><circle cx="403.9" cy="169.4" r="1.1"/><circle cx="347.2" cy="110.3" r="1.1"/><circle cx="415.1" cy="110.3" r="1.1"/><circle cx="430.5" cy="46.2" r="1.1"/><circle cx="360.8" cy="164.7" r="1.1"/><circle cx="338.0" cy="87.7" r="1.1"/><circle cx="362.2" cy="182.3" r="1.1"/><circle cx="354.3" cy="151.7" r="1.1"/><circle cx="384.5" cy="216.4" r="1.1"/><circle cx="395.2" cy="194.2" r="1.1"/><circle cx="347.5" cy="124.1" r="1.1"/><circle cx="429.8" cy="56.5" r="1.1"/><circle cx="429.6" cy="54.3" r="1.1"/><circle cx="400.3" cy="170.5" r="1.1"/><circle cx="354.7" cy="144.1" r="1.1"/><circle cx="340.7" cy="63.9" r="1.1"/><circle cx="336.8" cy="74.5" r="1.1"/><circle cx="419.3" cy="96.1" r="1.1"/><circle cx="393.8" cy="199.7" r="1.1"/><circle cx="378.7" cy="202.2" r="1.1"/><circle cx="413.9" cy="124.2" r="1.1"/><circle cx="405.5" cy="159.8" r="1.1"/><circle cx="388.6" cy="204.8" r="1.1"/><circle cx="334.7" cy="66.6" r="1.1"/><circle cx="376.9" cy="205.3" r="1.1"/><circle cx="335.7" cy="73.3" r="1.1"/><circle cx="394.3" cy="199.9" r="1.1"/><circle cx="418.3" cy="87.5" r="1.1"/><circle cx="420.9" cy="98.1" r="1.1"/><circle cx="333.5" cy="58.8" r="1.1"/><circle cx="426.6" cy="63.3" r="1.1"/><circle cx="424.1" cy="68.4" r="1.1"/><circle cx="357.3" cy="145.1" r="1.1"/><circle cx="372.2" cy="194.6" r="1.1"/><circle cx="352.5" cy="132.2" r="1.1"/><circle cx="367.1" cy="178.4" r="1.1"/><circle cx="334.9" cy="71.1" r="1.1"/><circle cx="417.4" cy="106.9" r="1.1"/><circle cx="424.4" cy="76.8" r="1.1"/><circle cx="359.6" cy="166.2" r="1.1"/><circle cx="405.8" cy="162.5" r="1.1"/><circle cx="417.4" cy="96.0" r="1.1"/><circle cx="353.2" cy="118.7" r="1.1"/><circle cx="377.9" cy="202.2" r="1.1"/><circle cx="356.2" cy="138.6" r="1.1"/><circle cx="358.0" cy="158.4" r="1.1"/><circle cx="376.4" cy="191.5" r="1.1"/><circle cx="328.6" cy="63.7" r="1.1"/><circle cx="381.5" cy="207.1" r="1.1"/><circle cx="413.3" cy="122.1" r="1.1"/><circle cx="366.2" cy="201.0" r="1.1"/><circle cx="411.1" cy="139.5" r="1.1"/><circle cx="331.0" cy="58.2" r="1.1"/><circle cx="341.7" cy="89.2" r="1.1"/><circle cx="342.6" cy="92.6" r="1.1"/><circle cx="425.4" cy="67.8" r="1.1"/><circle cx="373.7" cy="186.3" r="1.1"/><circle cx="332.4" cy="57.1" r="1.1"/><circle cx="423.6" cy="69.6" r="1.1"/><circle cx="387.5" cy="207.8" r="1.1"/><circle cx="337.4" cy="83.7" r="1.1"/><circle cx="383.7" cy="201.6" r="1.1"/><circle cx="337.1" cy="77.8" r="1.1"/><circle cx="397.9" cy="183.6" r="1.1"/><circle cx="340.6" cy="85.7" r="1.1"/><circle cx="385.2" cy="221.8" r="1.1"/><circle cx="371.9" cy="196.1" r="1.1"/><circle cx="392.0" cy="220.5" r="1.1"/><circle cx="330.4" cy="57.0" r="1.1"/><circle cx="398.3" cy="181.8" r="1.1"/><circle cx="368.5" cy="196.7" r="1.1"/><circle cx="353.9" cy="147.9" r="1.1"/><circle cx="350.2" cy="122.9" r="1.1"/><circle cx="418.8" cy="87.6" r="1.1"/><circle cx="386.3" cy="209.1" r="1.1"/><circle cx="345.2" cy="114.2" r="1.1"/><circle cx="412.6" cy="131.3" r="1.1"/><circle cx="364.2" cy="172.8" r="1.1"/><circle cx="366.0" cy="187.8" r="1.1"/><circle cx="333.2" cy="55.6" r="1.1"/><circle cx="363.1" cy="189.0" r="1.1"/><circle cx="355.9" cy="165.1" r="1.1"/><circle cx="375.5" cy="209.9" r="1.1"/><circle cx="416.8" cy="108.4" r="1.1"/><circle cx="423.2" cy="65.9" r="1.1"/><circle cx="401.0" cy="184.1" r="1.1"/><circle cx="398.4" cy="181.4" r="1.1"/><circle cx="417.8" cy="102.6" r="1.1"/><circle cx="381.3" cy="207.0" r="1.1"/><circle cx="372.9" cy="207.5" r="1.1"/><circle cx="380.7" cy="206.0" r="1.1"/><circle cx="419.9" cy="89.6" r="1.1"/><circle cx="361.1" cy="157.8" r="1.1"/><circle cx="395.7" cy="185.3" r="1.1"/><circle cx="362.5" cy="183.1" r="1.1"/><circle cx="410.4" cy="138.7" r="1.1"/><circle cx="428.2" cy="52.4" r="1.1"/><circle cx="430.7" cy="60.6" r="1.1"/><circle cx="393.6" cy="198.3" r="1.1"/><circle cx="344.8" cy="100.6" r="1.1"/><circle cx="379.4" cy="192.7" r="1.1"/><circle cx="422.1" cy="77.5" r="1.1"/><circle cx="374.4" cy="205.4" r="1.1"/><circle cx="414.9" cy="106.2" r="1.1"/><circle cx="399.6" cy="168.4" r="1.1"/><circle cx="409.0" cy="153.7" r="1.1"/><circle cx="415.4" cy="103.6" r="1.1"/><circle cx="348.5" cy="116.7" r="1.1"/><circle cx="396.0" cy="194.6" r="1.1"/><circle cx="364.9" cy="177.3" r="1.1"/><circle cx="377.2" cy="210.5" r="1.1"/><circle cx="329.1" cy="53.2" r="1.1"/><circle cx="374.1" cy="202.1" r="1.1"/><circle cx="351.2" cy="132.1" r="1.1"/><circle cx="420.2" cy="91.4" r="1.1"/><circle cx="386.8" cy="197.1" r="1.1"/><circle cx="409.4" cy="150.7" r="1.1"/><circle cx="371.3" cy="199.0" r="1.1"/><circle cx="403.6" cy="162.2" r="1.1"/><circle cx="332.7" cy="72.8" r="1.1"/><circle cx="329.8" cy="48.4" r="1.1"/><circle cx="408.7" cy="161.2" r="1.1"/><circle cx="406.1" cy="155.7" r="1.1"/><circle cx="415.7" cy="115.9" r="1.1"/><circle cx="387.3" cy="213.7" r="1.1"/><circle cx="427.1" cy="50.3" r="1.1"/><circle cx="340.1" cy="89.5" r="1.1"/><circle cx="396.8" cy="187.1" r="1.1"/><circle cx="403.2" cy="174.1" r="1.1"/><circle cx="431.4" cy="62.8" r="1.1"/><circle cx="427.8" cy="50.1" r="1.1"/><circle cx="367.7" cy="189.4" r="1.1"/><circle cx="353.7" cy="129.3" r="1.1"/><circle cx="412.3" cy="133.8" r="1.1"/><circle cx="429.1" cy="51.1" r="1.1"/><circle cx="382.7" cy="206.2" r="1.1"/><circle cx="428.1" cy="59.2" r="1.1"/><circle cx="376.1" cy="207.9" r="1.1"/><circle cx="332.6" cy="61.5" r="1.1"/><circle cx="370.8" cy="187.3" r="1.1"/><circle cx="413.8" cy="128.6" r="1.1"/><circle cx="385.4" cy="219.2" r="1.1"/><circle cx="380.6" cy="225.6" r="1.1"/><circle cx="332.5" cy="72.3" r="1.1"/><circle cx="392.5" cy="203.4" r="1.1"/><circle cx="388.8" cy="209.7" r="1.1"/><circle cx="347.5" cy="117.9" r="1.1"/><circle cx="379.2" cy="201.5" r="1.1"/><circle cx="362.4" cy="179.5" r="1.1"/><circle cx="370.4" cy="191.2" r="1.1"/><circle cx="333.4" cy="63.2" r="1.1"/><circle cx="412.5" cy="133.2" r="1.1"/><circle cx="355.0" cy="143.3" r="1.1"/><circle cx="350.7" cy="107.4" r="1.1"/><circle cx="403.1" cy="168.9" r="1.1"/><circle cx="336.7" cy="76.2" r="1.1"/><circle cx="429.3" cy="60.1" r="1.1"/><circle cx="344.8" cy="101.7" r="1.1"/><circle cx="417.1" cy="117.1" r="1.1"/><circle cx="393.7" cy="200.7" r="1.1"/><circle cx="414.2" cy="127.1" r="1.1"/><circle cx="413.2" cy="135.7" r="1.1"/><circle cx="358.5" cy="147.9" r="1.1"/><circle cx="400.9" cy="172.2" r="1.1"/><circle cx="361.1" cy="183.5" r="1.1"/><circle cx="358.7" cy="160.0" r="1.1"/><circle cx="381.1" cy="215.1" r="1.1"/><circle cx="425.6" cy="70.8" r="1.1"/><circle cx="389.4" cy="208.4" r="1.1"/><circle cx="351.1" cy="129.0" r="1.1"/><circle cx="403.2" cy="173.5" r="1.1"/><circle cx="331.1" cy="65.0" r="1.1"/><circle cx="387.5" cy="223.0" r="1.1"/><circle cx="341.9" cy="97.9" r="1.1"/><circle cx="331.6" cy="64.0" r="1.1"/><circle cx="355.8" cy="158.9" r="1.1"/><circle cx="423.3" cy="78.8" r="1.1"/><circle cx="356.7" cy="149.9" r="1.1"/><circle cx="390.6" cy="216.1" r="1.1"/><circle cx="424.1" cy="65.4" r="1.1"/><circle cx="392.8" cy="204.3" r="1.1"/><circle cx="397.4" cy="184.3" r="1.1"/><circle cx="329.8" cy="55.0" r="1.1"/><circle cx="409.6" cy="143.9" r="1.1"/><circle cx="376.5" cy="209.6" r="1.1"/><circle cx="397.5" cy="190.9" r="1.1"/><circle cx="374.3" cy="193.8" r="1.1"/><circle cx="346.9" cy="112.1" r="1.1"/><circle cx="329.4" cy="64.8" r="1.1"/><circle cx="415.3" cy="117.1" r="1.1"/><circle cx="361.7" cy="171.2" r="1.1"/><circle cx="338.3" cy="104.0" r="1.1"/><circle cx="396.6" cy="180.0" r="1.1"/><circle cx="345.9" cy="108.1" r="1.1"/><circle cx="365.1" cy="194.2" r="1.1"/><circle cx="426.9" cy="54.3" r="1.1"/><circle cx="382.3" cy="218.1" r="1.1"/><circle cx="399.9" cy="183.0" r="1.1"/><circle cx="379.6" cy="215.1" r="1.1"/><circle cx="384.8" cy="211.8" r="1.1"/><circle cx="411.8" cy="139.6" r="1.1"/><circle cx="405.1" cy="157.9" r="1.1"/><circle cx="339.8" cy="87.3" r="1.1"/><circle cx="359.1" cy="168.6" r="1.1"/><circle cx="398.8" cy="178.4" r="1.1"/><circle cx="334.2" cy="66.8" r="1.1"/><circle cx="368.0" cy="189.4" r="1.1"/><circle cx="430.1" cy="59.4" r="1.1"/><circle cx="330.7" cy="61.8" r="1.1"/><circle cx="378.0" cy="211.7" r="1.1"/><circle cx="427.2" cy="64.1" r="1.1"/><circle cx="372.3" cy="194.6" r="1.1"/><circle cx="333.6" cy="55.7" r="1.1"/><circle cx="369.7" cy="196.6" r="1.1"/><circle cx="373.0" cy="216.7" r="1.1"/><circle cx="383.8" cy="206.4" r="1.1"/><circle cx="364.1" cy="182.0" r="1.1"/><circle cx="408.7" cy="155.0" r="1.1"/><circle cx="410.1" cy="154.8" r="1.1"/><circle cx="335.6" cy="73.4" r="1.1"/><circle cx="394.5" cy="207.9" r="1.1"/><circle cx="339.0" cy="85.1" r="1.1"/><circle cx="430.5" cy="61.4" r="1.1"/><circle cx="402.6" cy="177.4" r="1.1"/><circle cx="420.7" cy="90.3" r="1.1"/><circle cx="348.5" cy="128.6" r="1.1"/><circle cx="367.4" cy="194.4" r="1.1"/><circle cx="335.1" cy="71.8" r="1.1"/><circle cx="395.6" cy="190.8" r="1.1"/><circle cx="360.9" cy="173.1" r="1.1"/><circle cx="348.9" cy="99.9" r="1.1"/><circle cx="340.2" cy="88.7" r="1.1"/><circle cx="400.1" cy="163.0" r="1.1"/><circle cx="406.3" cy="155.5" r="1.1"/><circle cx="430.8" cy="63.3" r="1.1"/><circle cx="391.9" cy="204.1" r="1.1"/><circle cx="352.1" cy="148.6" r="1.1"/><circle cx="357.0" cy="156.2" r="1.1"/><circle cx="354.4" cy="166.9" r="1.1"/><circle cx="352.6" cy="144.0" r="1.1"/><circle cx="340.9" cy="89.0" r="1.1"/><circle cx="354.3" cy="153.3" r="1.1"/><circle cx="373.7" cy="209.2" r="1.1"/><circle cx="417.9" cy="109.8" r="1.1"/><circle cx="353.1" cy="139.4" r="1.1"/><circle cx="377.2" cy="197.8" r="1.1"/><circle cx="417.3" cy="101.3" r="1.1"/><circle cx="422.0" cy="88.4" r="1.1"/><circle cx="387.8" cy="221.5" r="1.1"/><circle cx="371.4" cy="196.6" r="1.1"/><circle cx="407.8" cy="159.9" r="1.1"/><circle cx="398.1" cy="186.2" r="1.1"/><circle cx="368.9" cy="200.2" r="1.1"/><circle cx="416.3" cy="99.5" r="1.1"/><circle cx="404.4" cy="165.2" r="1.1"/><circle cx="363.6" cy="184.8" r="1.1"/><circle cx="391.6" cy="207.7" r="1.1"/><circle cx="401.5" cy="179.5" r="1.1"/><circle cx="403.9" cy="183.5" r="1.1"/><circle cx="422.6" cy="84.5" r="1.1"/><circle cx="373.5" cy="205.8" r="1.1"/><circle cx="428.6" cy="55.6" r="1.1"/><circle cx="418.2" cy="92.5" r="1.1"/><circle cx="412.5" cy="133.7" r="1.1"/><circle cx="344.4" cy="91.1" r="1.1"/><circle cx="345.3" cy="94.5" r="1.1"/><circle cx="421.2" cy="97.7" r="1.1"/><circle cx="421.7" cy="79.8" r="1.1"/><circle cx="395.3" cy="204.6" r="1.1"/><circle cx="364.5" cy="188.4" r="1.1"/><circle cx="386.7" cy="218.3" r="1.1"/><circle cx="408.9" cy="155.8" r="1.1"/><circle cx="336.9" cy="72.8" r="1.1"/><circle cx="374.7" cy="196.5" r="1.1"/><circle cx="428.1" cy="66.6" r="1.1"/><circle cx="356.3" cy="137.3" r="1.1"/><circle cx="346.2" cy="112.7" r="1.1"/><circle cx="410.7" cy="161.1" r="1.1"/><circle cx="349.9" cy="133.8" r="1.1"/><circle cx="342.7" cy="112.0" r="1.1"/><circle cx="366.8" cy="187.1" r="1.1"/><circle cx="357.6" cy="161.3" r="1.1"/><circle cx="365.6" cy="186.4" r="1.1"/><circle cx="337.5" cy="82.1" r="1.1"/><circle cx="349.7" cy="125.9" r="1.1"/><circle cx="414.7" cy="119.1" r="1.1"/><circle cx="338.1" cy="90.7" r="1.1"/><circle cx="424.5" cy="67.9" r="1.1"/><circle cx="330.2" cy="60.3" r="1.1"/><circle cx="380.3" cy="219.6" r="1.1"/><circle cx="423.8" cy="65.9" r="1.1"/><circle cx="426.0" cy="59.5" r="1.1"/><circle cx="340.9" cy="91.8" r="1.1"/><circle cx="391.0" cy="211.1" r="1.1"/><circle cx="378.5" cy="209.6" r="1.1"/><circle cx="386.0" cy="218.8" r="1.1"/><circle cx="353.6" cy="139.8" r="1.1"/><circle cx="383.0" cy="230.9" r="1.1"/><circle cx="347.8" cy="105.5" r="1.1"/><circle cx="336.1" cy="63.1" r="1.1"/><circle cx="419.5" cy="95.4" r="1.1"/><circle cx="399.1" cy="183.2" r="1.1"/><circle cx="394.0" cy="202.0" r="1.1"/><circle cx="406.9" cy="152.1" r="1.1"/><circle cx="401.7" cy="184.1" r="1.1"/><circle cx="328.5" cy="60.9" r="1.1"/><circle cx="419.0" cy="90.1" r="1.1"/><circle cx="362.8" cy="165.2" r="1.1"/><circle cx="419.9" cy="98.6" r="1.1"/><circle cx="343.3" cy="103.8" r="1.1"/><circle cx="381.7" cy="225.1" r="1.1"/><circle cx="425.4" cy="64.0" r="1.1"/><circle cx="405.3" cy="159.4" r="1.1"/><circle cx="366.1" cy="187.0" r="1.1"/><circle cx="396.0" cy="185.5" r="1.1"/><circle cx="432.0" cy="62.6" r="1.1"/><circle cx="343.7" cy="109.7" r="1.1"/><circle cx="386.3" cy="216.5" r="1.1"/><circle cx="377.5" cy="207.9" r="1.1"/><circle cx="351.7" cy="141.7" r="1.1"/><circle cx="431.5" cy="55.8" r="1.1"/><circle cx="371.7" cy="194.5" r="1.1"/><circle cx="388.5" cy="216.2" r="1.1"/><circle cx="368.5" cy="185.9" r="1.1"/><circle cx="406.2" cy="163.3" r="1.1"/><circle cx="367.1" cy="185.8" r="1.1"/><circle cx="360.2" cy="153.0" r="1.1"/><circle cx="382.8" cy="216.2" r="1.1"/><circle cx="359.6" cy="176.3" r="1.1"/><circle cx="384.0" cy="219.9" r="1.1"/><circle cx="341.5" cy="90.9" r="1.1"/><circle cx="408.1" cy="159.9" r="1.1"/><circle cx="390.0" cy="209.8" r="1.1"/><circle cx="411.1" cy="138.0" r="1.1"/><circle cx="415.9" cy="120.9" r="1.1"/><circle cx="375.6" cy="218.0" r="1.1"/><circle cx="406.0" cy="168.2" r="1.1"/><circle cx="353.4" cy="145.7" r="1.1"/><circle cx="344.9" cy="117.7" r="1.1"/><circle cx="337.8" cy="90.1" r="1.1"/><circle cx="421.6" cy="73.1" r="1.1"/><circle cx="404.1" cy="182.2" r="1.1"/><circle cx="402.4" cy="175.4" r="1.1"/><circle cx="399.6" cy="182.9" r="1.1"/><circle cx="421.1" cy="83.0" r="1.1"/><circle cx="363.7" cy="191.0" r="1.1"/><circle cx="349.5" cy="109.1" r="1.1"/><circle cx="368.2" cy="196.7" r="1.1"/><circle cx="406.8" cy="174.3" r="1.1"/><circle cx="339.6" cy="109.9" r="1.1"/><circle cx="346.4" cy="126.3" r="1.1"/><circle cx="335.8" cy="79.2" r="1.1"/><circle cx="369.0" cy="188.0" r="1.1"/><circle cx="386.5" cy="230.4" r="1.1"/><circle cx="387.5" cy="229.3" r="1.1"/><circle cx="420.6" cy="101.9" r="1.1"/><circle cx="367.3" cy="198.9" r="1.1"/><circle cx="357.8" cy="156.1" r="1.1"/><circle cx="419.6" cy="99.1" r="1.1"/><circle cx="425.6" cy="76.3" r="1.1"/><circle cx="411.3" cy="151.1" r="1.1"/><circle cx="365.6" cy="187.4" r="1.1"/><circle cx="373.1" cy="214.0" r="1.1"/><circle cx="348.2" cy="123.4" r="1.1"/><circle cx="400.5" cy="189.4" r="1.1"/><circle cx="427.3" cy="65.1" r="1.1"/><circle cx="392.5" cy="220.3" r="1.1"/><circle cx="373.4" cy="210.4" r="1.1"/><circle cx="411.9" cy="146.6" r="1.1"/><circle cx="376.6" cy="204.1" r="1.1"/><circle cx="409.4" cy="157.2" r="1.1"/><circle cx="347.4" cy="123.4" r="1.1"/><circle cx="410.6" cy="140.5" r="1.1"/><circle cx="431.5" cy="67.1" r="1.1"/><circle cx="329.0" cy="57.2" r="1.1"/><circle cx="405.0" cy="176.5" r="1.1"/><circle cx="350.7" cy="152.1" r="1.1"/><circle cx="358.3" cy="161.4" r="1.1"/><circle cx="384.1" cy="228.5" r="1.1"/><circle cx="379.3" cy="220.5" r="1.1"/><circle cx="422.3" cy="93.5" r="1.1"/><circle cx="343.9" cy="103.8" r="1.1"/><circle cx="403.3" cy="180.2" r="1.1"/><circle cx="380.5" cy="220.6" r="1.1"/><circle cx="354.9" cy="146.6" r="1.1"/><circle cx="375.3" cy="213.4" r="1.1"/><circle cx="372.0" cy="214.5" r="1.1"/><circle cx="362.5" cy="182.4" r="1.1"/><circle cx="342.0" cy="88.6" r="1.1"/><circle cx="378.2" cy="227.8" r="1.1"/><circle cx="431.2" cy="65.3" r="1.1"/><circle cx="351.7" cy="147.8" r="1.1"/><circle cx="395.1" cy="203.4" r="1.1"/><circle cx="413.7" cy="141.6" r="1.1"/><circle cx="393.2" cy="202.8" r="1.1"/><circle cx="413.0" cy="141.7" r="1.1"/><circle cx="343.3" cy="117.0" r="1.1"/><circle cx="336.5" cy="79.3" r="1.1"/><circle cx="401.4" cy="186.9" r="1.1"/><circle cx="417.8" cy="110.6" r="1.1"/><circle cx="369.8" cy="190.7" r="1.1"/><circle cx="383.6" cy="223.7" r="1.1"/><circle cx="357.0" cy="172.7" r="1.1"/><circle cx="374.7" cy="206.1" r="1.1"/><circle cx="423.5" cy="64.3" r="1.1"/><circle cx="338.6" cy="94.1" r="1.1"/><circle cx="355.2" cy="143.0" r="1.1"/><circle cx="415.2" cy="128.9" r="1.1"/><circle cx="426.8" cy="69.9" r="1.1"/><circle cx="353.1" cy="147.9" r="1.1"/><circle cx="331.5" cy="68.0" r="1.1"/><circle cx="364.8" cy="194.3" r="1.1"/><circle cx="391.4" cy="212.1" r="1.1"/><circle cx="348.6" cy="127.5" r="1.1"/><circle cx="330.4" cy="69.3" r="1.1"/><circle cx="430.5" cy="59.2" r="1.1"/><circle cx="425.8" cy="86.2" r="1.1"/><circle cx="382.2" cy="211.4" r="1.1"/><circle cx="397.0" cy="192.2" r="1.1"/><circle cx="428.6" cy="59.7" r="1.1"/><circle cx="334.8" cy="74.0" r="1.1"/><circle cx="370.5" cy="211.0" r="1.1"/><circle cx="382.6" cy="205.4" r="1.1"/><circle cx="416.5" cy="121.1" r="1.1"/><circle cx="366.6" cy="177.9" r="1.1"/><circle cx="390.6" cy="217.8" r="1.1"/><circle cx="385.3" cy="238.7" r="1.1"/><circle cx="351.4" cy="124.5" r="1.1"/><circle cx="331.8" cy="63.8" r="1.1"/><circle cx="340.4" cy="101.7" r="1.1"/><circle cx="337.2" cy="89.7" r="1.1"/><circle cx="402.1" cy="177.2" r="1.1"/><circle cx="415.8" cy="131.0" r="1.1"/><circle cx="386.6" cy="214.3" r="1.1"/><circle cx="363.3" cy="187.3" r="1.1"/><circle cx="381.4" cy="230.9" r="1.1"/><circle cx="333.5" cy="67.2" r="1.1"/><circle cx="376.4" cy="215.5" r="1.1"/><circle cx="424.6" cy="75.0" r="1.1"/><circle cx="359.3" cy="184.5" r="1.1"/><circle cx="408.0" cy="157.0" r="1.1"/><circle cx="394.4" cy="206.3" r="1.1"/><circle cx="429.2" cy="60.0" r="1.1"/><circle cx="408.3" cy="154.7" r="1.1"/><circle cx="341.4" cy="100.5" r="1.1"/><circle cx="418.6" cy="94.2" r="1.1"/><circle cx="396.1" cy="182.6" r="1.1"/><circle cx="332.6" cy="56.2" r="1.1"/><circle cx="371.4" cy="200.9" r="1.1"/><circle cx="345.3" cy="120.2" r="1.1"/><circle cx="391.8" cy="221.6" r="1.1"/><circle cx="378.8" cy="214.3" r="1.1"/><circle cx="360.1" cy="170.7" r="1.1"/><circle cx="414.7" cy="131.8" r="1.1"/><circle cx="398.7" cy="192.9" r="1.1"/><circle cx="329.9" cy="67.0" r="1.1"/><circle cx="389.3" cy="218.9" r="1.1"/><circle cx="361.2" cy="193.4" r="1.1"/><circle cx="397.6" cy="189.2" r="1.1"/><circle cx="356.0" cy="153.6" r="1.1"/><circle cx="388.6" cy="208.0" r="1.1"/><circle cx="431.7" cy="63.4" r="1.1"/><circle cx="422.0" cy="79.8" r="1.1"/><circle cx="405.4" cy="174.6" r="1.1"/><circle cx="338.2" cy="85.4" r="1.1"/><circle cx="420.0" cy="99.6" r="1.1"/><circle cx="375.9" cy="214.8" r="1.1"/><circle cx="341.2" cy="99.4" r="1.1"/><circle cx="403.9" cy="160.1" r="1.1"/><circle cx="383.1" cy="233.0" r="1.1"/><circle cx="370.2" cy="186.0" r="1.1"/><circle cx="348.2" cy="115.1" r="1.1"/><circle cx="380.8" cy="224.9" r="1.1"/><circle cx="341.6" cy="107.2" r="1.1"/><circle cx="394.0" cy="202.6" r="1.1"/><circle cx="347.4" cy="110.5" r="1.1"/><circle cx="398.1" cy="186.1" r="1.1"/><circle cx="372.3" cy="204.8" r="1.1"/><circle cx="372.6" cy="206.3" r="1.1"/><circle cx="350.8" cy="126.8" r="1.1"/><circle cx="361.1" cy="171.3" r="1.1"/><circle cx="394.7" cy="205.0" r="1.1"/><circle cx="412.7" cy="137.1" r="1.1"/><circle cx="386.7" cy="216.0" r="1.1"/><circle cx="423.8" cy="90.0" r="1.1"/><circle cx="415.9" cy="111.8" r="1.1"/><circle cx="409.1" cy="164.2" r="1.1"/><circle cx="384.5" cy="222.3" r="1.1"/><circle cx="389.0" cy="231.4" r="1.1"/><circle cx="345.9" cy="112.6" r="1.1"/><circle cx="413.8" cy="136.6" r="1.1"/><circle cx="342.6" cy="99.8" r="1.1"/><circle cx="428.3" cy="66.1" r="1.1"/><circle cx="351.7" cy="144.7" r="1.1"/><circle cx="392.2" cy="207.0" r="1.1"/><circle cx="407.5" cy="160.6" r="1.1"/><circle cx="401.2" cy="179.1" r="1.1"/><circle cx="386.6" cy="227.3" r="1.1"/><circle cx="420.3" cy="93.1" r="1.1"/><circle cx="397.9" cy="179.7" r="1.1"/><circle cx="349.6" cy="129.8" r="1.1"/><circle cx="333.1" cy="68.4" r="1.1"/><circle cx="382.2" cy="213.9" r="1.1"/><circle cx="353.5" cy="158.6" r="1.1"/><circle cx="356.3" cy="163.1" r="1.1"/><circle cx="349.4" cy="135.0" r="1.1"/><circle cx="369.2" cy="192.2" r="1.1"/><circle cx="391.7" cy="210.9" r="1.1"/><circle cx="422.1" cy="95.0" r="1.1"/><circle cx="370.9" cy="187.9" r="1.1"/><circle cx="418.9" cy="99.4" r="1.1"/><circle cx="390.6" cy="217.7" r="1.1"/><circle cx="344.4" cy="109.0" r="1.1"/><circle cx="347.2" cy="110.9" r="1.1"/><circle cx="397.2" cy="184.4" r="1.1"/><circle cx="354.4" cy="144.3" r="1.1"/><circle cx="356.8" cy="173.4" r="1.1"/><circle cx="381.6" cy="210.0" r="1.1"/><circle cx="385.3" cy="232.2" r="1.1"/><circle cx="401.4" cy="176.7" r="1.1"/><circle cx="400.6" cy="168.6" r="1.1"/><circle cx="432.0" cy="68.8" r="1.1"/><circle cx="338.5" cy="84.6" r="1.1"/><circle cx="419.8" cy="72.3" r="1.1"/><circle cx="385.9" cy="221.4" r="1.1"/><circle cx="386.2" cy="228.6" r="1.1"/><circle cx="379.7" cy="220.5" r="1.1"/><circle cx="400.4" cy="195.9" r="1.1"/><circle cx="367.9" cy="193.2" r="1.1"/><circle cx="405.8" cy="173.3" r="1.1"/><circle cx="430.1" cy="57.5" r="1.1"/><circle cx="429.7" cy="65.3" r="1.1"/><circle cx="355.3" cy="159.6" r="1.1"/><circle cx="351.0" cy="132.7" r="1.1"/><circle cx="408.5" cy="157.9" r="1.1"/><circle cx="363.9" cy="172.5" r="1.1"/><circle cx="363.4" cy="187.3" r="1.1"/><circle cx="335.3" cy="68.3" r="1.1"/><circle cx="416.5" cy="118.0" r="1.1"/><circle cx="358.6" cy="165.3" r="1.1"/><circle cx="415.0" cy="127.6" r="1.1"/><circle cx="400.2" cy="177.7" r="1.1"/><circle cx="365.8" cy="203.1" r="1.1"/><circle cx="430.9" cy="57.9" r="1.1"/><circle cx="424.4" cy="78.5" r="1.1"/><circle cx="377.8" cy="234.8" r="1.1"/><circle cx="345.5" cy="113.4" r="1.1"/><circle cx="425.3" cy="64.5" r="1.1"/><circle cx="426.8" cy="69.6" r="1.1"/><circle cx="409.5" cy="159.0" r="1.1"/><circle cx="373.0" cy="209.9" r="1.1"/><circle cx="431.3" cy="51.7" r="1.1"/><circle cx="379.4" cy="219.5" r="1.1"/><circle cx="348.9" cy="112.1" r="1.1"/><circle cx="359.4" cy="186.2" r="1.1"/><circle cx="384.7" cy="221.9" r="1.1"/><circle cx="334.5" cy="73.4" r="1.1"/><circle cx="417.2" cy="113.1" r="1.1"/><circle cx="350.2" cy="125.0" r="1.1"/><circle cx="382.6" cy="211.9" r="1.1"/><circle cx="427.8" cy="72.7" r="1.1"/><circle cx="373.5" cy="205.5" r="1.1"/><circle cx="388.8" cy="206.2" r="1.1"/><circle cx="337.7" cy="92.3" r="1.1"/><circle cx="358.3" cy="171.2" r="1.1"/><circle cx="375.7" cy="220.1" r="1.1"/><circle cx="418.0" cy="109.7" r="1.1"/><circle cx="398.4" cy="181.6" r="1.1"/><circle cx="340.4" cy="106.1" r="1.1"/><circle cx="429.2" cy="75.0" r="1.1"/><circle cx="422.5" cy="84.9" r="1.1"/><circle cx="429.7" cy="72.5" r="1.1"/><circle cx="430.5" cy="58.1" r="1.1"/><circle cx="374.5" cy="218.7" r="1.1"/><circle cx="378.5" cy="222.8" r="1.1"/><circle cx="330.3" cy="54.9" r="1.1"/><circle cx="389.3" cy="205.9" r="1.1"/><circle cx="329.9" cy="58.9" r="1.1"/><circle cx="425.8" cy="68.5" r="1.1"/><circle cx="342.6" cy="95.8" r="1.1"/><circle cx="353.8" cy="145.3" r="1.1"/><circle cx="424.0" cy="77.1" r="1.1"/><circle cx="344.0" cy="105.0" r="1.1"/><circle cx="395.4" cy="201.7" r="1.1"/><circle cx="336.7" cy="84.8" r="1.1"/><circle cx="410.3" cy="154.1" r="1.1"/><circle cx="391.4" cy="215.0" r="1.1"/><circle cx="402.8" cy="180.4" r="1.1"/><circle cx="396.5" cy="190.3" r="1.1"/><circle cx="331.5" cy="71.9" r="1.1"/><circle cx="383.6" cy="217.7" r="1.1"/><circle cx="381.5" cy="231.8" r="1.1"/><circle cx="352.5" cy="144.3" r="1.1"/><circle cx="398.9" cy="188.9" r="1.1"/><circle cx="420.6" cy="79.2" r="1.1"/><circle cx="406.3" cy="163.7" r="1.1"/><circle cx="348.6" cy="129.8" r="1.1"/><circle cx="414.4" cy="125.1" r="1.1"/><circle cx="414.4" cy="129.7" r="1.1"/><circle cx="355.6" cy="156.9" r="1.1"/><circle cx="411.0" cy="149.2" r="1.1"/><circle cx="362.9" cy="182.4" r="1.1"/><circle cx="369.8" cy="207.0" r="1.1"/><circle cx="332.6" cy="79.1" r="1.1"/><circle cx="394.1" cy="200.6" r="1.1"/><circle cx="344.5" cy="88.2" r="1.1"/><circle cx="347.9" cy="124.3" r="1.1"/><circle cx="390.0" cy="204.3" r="1.1"/><circle cx="363.2" cy="174.6" r="1.1"/><circle cx="411.4" cy="155.6" r="1.1"/><circle cx="412.5" cy="143.2" r="1.1"/><circle cx="364.4" cy="183.8" r="1.1"/><circle cx="387.5" cy="216.6" r="1.1"/><circle cx="428.2" cy="66.4" r="1.1"/><circle cx="376.5" cy="199.6" r="1.1"/><circle cx="402.7" cy="181.3" r="1.1"/><circle cx="354.9" cy="149.3" r="1.1"/><circle cx="346.6" cy="127.7" r="1.1"/><circle cx="395.8" cy="189.1" r="1.1"/><circle cx="366.5" cy="199.2" r="1.1"/><circle cx="378.1" cy="211.6" r="1.1"/><circle cx="392.9" cy="216.2" r="1.1"/><circle cx="415.2" cy="116.6" r="1.1"/><circle cx="367.5" cy="202.4" r="1.1"/><circle cx="405.1" cy="169.6" r="1.1"/><circle cx="364.9" cy="183.1" r="1.1"/><circle cx="371.2" cy="200.9" r="1.1"/><circle cx="399.1" cy="190.0" r="1.1"/><circle cx="350.4" cy="134.9" r="1.1"/><circle cx="345.1" cy="118.5" r="1.1"/><circle cx="406.7" cy="171.1" r="1.1"/><circle cx="396.9" cy="173.8" r="1.1"/><circle cx="352.3" cy="134.0" r="1.1"/><circle cx="359.3" cy="150.3" r="1.1"/><circle cx="373.7" cy="207.3" r="1.1"/><circle cx="412.2" cy="145.4" r="1.1"/><circle cx="355.8" cy="145.9" r="1.1"/><circle cx="333.9" cy="67.1" r="1.1"/><circle cx="403.1" cy="179.1" r="1.1"/><circle cx="376.3" cy="211.2" r="1.1"/><circle cx="343.0" cy="122.4" r="1.1"/><circle cx="343.6" cy="114.9" r="1.1"/><circle cx="408.6" cy="160.6" r="1.1"/><circle cx="394.6" cy="215.2" r="1.1"/><circle cx="401.8" cy="178.1" r="1.1"/><circle cx="421.2" cy="88.4" r="1.1"/><circle cx="385.1" cy="214.3" r="1.1"/><circle cx="399.7" cy="186.7" r="1.1"/><circle cx="413.1" cy="139.8" r="1.1"/><circle cx="374.2" cy="220.7" r="1.1"/><circle cx="333.6" cy="76.5" r="1.1"/><circle cx="361.7" cy="170.2" r="1.1"/><circle cx="368.5" cy="195.0" r="1.1"/><circle cx="424.9" cy="61.4" r="1.1"/><circle cx="337.1" cy="91.8" r="1.1"/><circle cx="329.5" cy="75.3" r="1.1"/><circle cx="365.2" cy="174.2" r="1.1"/><circle cx="357.3" cy="160.2" r="1.1"/><circle cx="417.5" cy="118.9" r="1.1"/><circle cx="369.4" cy="189.2" r="1.1"/><circle cx="366.1" cy="197.0" r="1.1"/><circle cx="393.1" cy="200.2" r="1.1"/><circle cx="407.3" cy="169.5" r="1.1"/><circle cx="337.3" cy="91.1" r="1.1"/><circle cx="404.2" cy="175.8" r="1.1"/><circle cx="329.0" cy="71.1" r="1.1"/><circle cx="331.0" cy="69.8" r="1.1"/><circle cx="359.0" cy="169.2" r="1.1"/><circle cx="423.3" cy="89.6" r="1.1"/><circle cx="357.7" cy="181.1" r="1.1"/><circle cx="330.8" cy="62.9" r="1.1"/><circle cx="361.5" cy="173.4" r="1.1"/><circle cx="404.6" cy="172.6" r="1.1"/><circle cx="408.0" cy="157.8" r="1.1"/><circle cx="383.0" cy="222.3" r="1.1"/><circle cx="423.1" cy="82.2" r="1.1"/><circle cx="381.0" cy="225.3" r="1.1"/><circle cx="397.4" cy="191.1" r="1.1"/><circle cx="370.6" cy="202.7" r="1.1"/><circle cx="341.9" cy="98.6" r="1.1"/><circle cx="416.6" cy="121.3" r="1.1"/><circle cx="403.7" cy="168.7" r="1.1"/><circle cx="372.0" cy="217.0" r="1.1"/><circle cx="335.5" cy="83.6" r="1.1"/><circle cx="380.1" cy="222.5" r="1.1"/><circle cx="354.2" cy="160.6" r="1.1"/><circle cx="333.3" cy="79.8" r="1.1"/><circle cx="378.8" cy="221.8" r="1.1"/><circle cx="419.4" cy="94.9" r="1.1"/><circle cx="415.6" cy="115.7" r="1.1"/><circle cx="332.4" cy="58.5" r="1.1"/><circle cx="356.7" cy="176.0" r="1.1"/><circle cx="338.9" cy="90.7" r="1.1"/><circle cx="364.7" cy="186.7" r="1.1"/><circle cx="387.8" cy="238.4" r="1.1"/><circle cx="411.7" cy="137.5" r="1.1"/><circle cx="362.5" cy="175.5" r="1.1"/><circle cx="339.8" cy="105.0" r="1.1"/><circle cx="335.7" cy="83.8" r="1.1"/><circle cx="402.1" cy="189.3" r="1.1"/><circle cx="346.7" cy="121.4" r="1.1"/><circle cx="336.1" cy="76.7" r="1.1"/><circle cx="328.7" cy="67.1" r="1.1"/><circle cx="392.1" cy="210.8" r="1.1"/><circle cx="340.8" cy="113.1" r="1.1"/><circle cx="409.9" cy="152.0" r="1.1"/><circle cx="428.8" cy="68.5" r="1.1"/><circle cx="329.2" cy="68.5" r="1.1"/><circle cx="371.4" cy="200.8" r="1.1"/><circle cx="334.9" cy="71.0" r="1.1"/><circle cx="387.3" cy="216.4" r="1.1"/><circle cx="410.6" cy="151.7" r="1.1"/><circle cx="339.6" cy="86.1" r="1.1"/><circle cx="427.4" cy="64.7" r="1.1"/><circle cx="360.7" cy="170.9" r="1.1"/><circle cx="426.8" cy="56.0" r="1.1"/><circle cx="359.9" cy="181.8" r="1.1"/><circle cx="375.0" cy="214.0" r="1.1"/><circle cx="353.1" cy="146.7" r="1.1"/><circle cx="345.9" cy="107.1" r="1.1"/><circle cx="362.1" cy="173.4" r="1.1"/><circle cx="368.3" cy="213.9" r="1.1"/><circle cx="351.7" cy="123.6" r="1.1"/><circle cx="367.2" cy="204.8" r="1.1"/><circle cx="380.3" cy="214.0" r="1.1"/><circle cx="360.4" cy="187.4" r="1.1"/><circle cx="377.6" cy="213.2" r="1.1"/><circle cx="339.0" cy="83.0" r="1.1"/><circle cx="418.5" cy="106.8" r="1.1"/><circle cx="390.8" cy="222.1" r="1.1"/><circle cx="366.9" cy="189.4" r="1.1"/><circle cx="383.8" cy="215.0" r="1.1"/><circle cx="389.9" cy="233.5" r="1.1"/><circle cx="377.1" cy="226.0" r="1.1"/><circle cx="421.6" cy="78.2" r="1.1"/><circle cx="393.4" cy="203.8" r="1.1"/><circle cx="417.8" cy="105.5" r="1.1"/><circle cx="425.3" cy="68.7" r="1.1"/><circle cx="396.0" cy="202.3" r="1.1"/><circle cx="341.1" cy="99.6" r="1.1"/><circle cx="331.9" cy="68.1" r="1.1"/><circle cx="426.2" cy="62.7" r="1.1"/><circle cx="388.5" cy="230.4" r="1.1"/><circle cx="413.6" cy="148.4" r="1.1"/><circle cx="375.2" cy="211.8" r="1.1"/><circle cx="407.1" cy="167.2" r="1.1"/><circle cx="368.7" cy="209.0" r="1.1"/><circle cx="332.5" cy="76.3" r="1.1"/><circle cx="352.3" cy="133.5" r="1.1"/><circle cx="431.8" cy="55.9" r="1.1"/><circle cx="361.0" cy="172.2" r="1.1"/><circle cx="377.5" cy="222.3" r="1.1"/><circle cx="332.0" cy="69.4" r="1.1"/><circle cx="414.0" cy="137.6" r="1.1"/><circle cx="330.1" cy="68.3" r="1.1"/><circle cx="341.4" cy="97.2" r="1.1"/><circle cx="375.1" cy="210.7" r="1.1"/><circle cx="396.4" cy="186.4" r="1.1"/><circle cx="386.8" cy="215.3" r="1.1"/><circle cx="392.1" cy="211.9" r="1.1"/><circle cx="371.5" cy="200.2" r="1.1"/><circle cx="417.8" cy="103.4" r="1.1"/><circle cx="406.0" cy="165.6" r="1.1"/><circle cx="405.5" cy="177.3" r="1.1"/><circle cx="373.0" cy="206.1" r="1.1"/><circle cx="410.3" cy="151.3" r="1.1"/><circle cx="400.0" cy="181.1" r="1.1"/><circle cx="420.7" cy="90.6" r="1.1"/><circle cx="409.3" cy="146.6" r="1.1"/><circle cx="430.1" cy="58.4" r="1.1"/><circle cx="405.8" cy="162.4" r="1.1"/><circle cx="388.0" cy="226.9" r="1.1"/><circle cx="408.9" cy="147.8" r="1.1"/><circle cx="391.1" cy="210.8" r="1.1"/><circle cx="364.8" cy="194.4" r="1.1"/><circle cx="360.5" cy="182.8" r="1.1"/><circle cx="361.6" cy="186.5" r="1.1"/><circle cx="386.2" cy="227.3" r="1.1"/><circle cx="342.1" cy="90.9" r="1.1"/><circle cx="377.2" cy="211.7" r="1.1"/><circle cx="406.7" cy="159.0" r="1.1"/><circle cx="367.6" cy="207.9" r="1.1"/><circle cx="354.4" cy="156.0" r="1.1"/><circle cx="356.4" cy="159.9" r="1.1"/><circle cx="345.1" cy="118.5" r="1.1"/><circle cx="391.2" cy="206.9" r="1.1"/><circle cx="362.4" cy="185.7" r="1.1"/><circle cx="365.9" cy="195.8" r="1.1"/><circle cx="391.5" cy="208.9" r="1.1"/><circle cx="350.4" cy="147.2" r="1.1"/><circle cx="431.2" cy="67.6" r="1.1"/><circle cx="381.2" cy="227.1" r="1.1"/><circle cx="427.5" cy="66.6" r="1.1"/><circle cx="407.1" cy="159.7" r="1.1"/><circle cx="331.6" cy="62.2" r="1.1"/><circle cx="385.6" cy="217.9" r="1.1"/><circle cx="344.5" cy="103.6" r="1.1"/><circle cx="339.9" cy="84.5" r="1.1"/><circle cx="360.0" cy="189.8" r="1.1"/><circle cx="356.0" cy="146.5" r="1.1"/><circle cx="394.0" cy="198.8" r="1.1"/><circle cx="428.1" cy="64.3" r="1.1"/><circle cx="368.3" cy="197.9" r="1.1"/><circle cx="356.8" cy="156.9" r="1.1"/><circle cx="333.9" cy="96.0" r="1.1"/><circle cx="397.9" cy="182.0" r="1.1"/><circle cx="383.1" cy="223.4" r="1.1"/><circle cx="351.3" cy="146.3" r="1.1"/><circle cx="370.7" cy="203.5" r="1.1"/><circle cx="404.6" cy="170.5" r="1.1"/><circle cx="420.4" cy="86.6" r="1.1"/><circle cx="416.1" cy="110.1" r="1.1"/><circle cx="423.0" cy="83.6" r="1.1"/><circle cx="363.1" cy="192.9" r="1.1"/><circle cx="351.7" cy="122.6" r="1.1"/><circle cx="343.3" cy="106.3" r="1.1"/><circle cx="375.5" cy="216.3" r="1.1"/><circle cx="348.4" cy="127.4" r="1.1"/><circle cx="384.9" cy="222.7" r="1.1"/><circle cx="328.8" cy="66.3" r="1.1"/><circle cx="408.1" cy="165.5" r="1.1"/><circle cx="390.0" cy="208.4" r="1.1"/><circle cx="395.4" cy="198.8" r="1.1"/><circle cx="333.7" cy="60.1" r="1.1"/><circle cx="338.2" cy="72.1" r="1.1"/><circle cx="369.8" cy="196.2" r="1.1"/><circle cx="385.9" cy="208.8" r="1.1"/><circle cx="389.9" cy="222.2" r="1.1"/><circle cx="350.0" cy="141.9" r="1.1"/><circle cx="387.3" cy="217.9" r="1.1"/><circle cx="336.5" cy="78.8" r="1.1"/><circle cx="401.5" cy="177.5" r="1.1"/><circle cx="397.2" cy="187.8" r="1.1"/><circle cx="373.8" cy="210.3" r="1.1"/><circle cx="372.7" cy="210.5" r="1.1"/><circle cx="388.4" cy="215.6" r="1.1"/><circle cx="352.8" cy="145.5" r="1.1"/><circle cx="364.0" cy="179.7" r="1.1"/><circle cx="409.5" cy="158.7" r="1.1"/><circle cx="389.3" cy="215.1" r="1.1"/><circle cx="337.3" cy="101.7" r="1.1"/><circle cx="379.8" cy="216.8" r="1.1"/><circle cx="417.6" cy="116.9" r="1.1"/><circle cx="374.6" cy="202.9" r="1.1"/><circle cx="373.3" cy="201.2" r="1.1"/><circle cx="336.6" cy="89.8" r="1.1"/><circle cx="366.8" cy="194.4" r="1.1"/><circle cx="338.0" cy="90.2" r="1.1"/><circle cx="329.2" cy="76.7" r="1.1"/><circle cx="403.9" cy="175.1" r="1.1"/><circle cx="394.3" cy="204.3" r="1.1"/><circle cx="395.5" cy="192.7" r="1.1"/><circle cx="370.2" cy="210.0" r="1.1"/><circle cx="421.2" cy="98.8" r="1.1"/><circle cx="400.4" cy="184.8" r="1.1"/><circle cx="378.2" cy="202.6" r="1.1"/><circle cx="330.5" cy="65.0" r="1.1"/><circle cx="334.5" cy="63.8" r="1.1"/><circle cx="359.6" cy="152.8" r="1.1"/><circle cx="375.0" cy="215.8" r="1.1"/><circle cx="410.5" cy="142.7" r="1.1"/><circle cx="402.4" cy="180.6" r="1.1"/><circle cx="428.8" cy="67.9" r="1.1"/><circle cx="426.2" cy="74.8" r="1.1"/><circle cx="355.0" cy="159.5" r="1.1"/><circle cx="422.4" cy="74.4" r="1.1"/><circle cx="427.7" cy="58.9" r="1.1"/><circle cx="344.0" cy="109.9" r="1.1"/><circle cx="427.0" cy="68.3" r="1.1"/><circle cx="401.9" cy="179.7" r="1.1"/><circle cx="353.6" cy="133.1" r="1.1"/><circle cx="367.5" cy="189.2" r="1.1"/><circle cx="418.6" cy="96.6" r="1.1"/><circle cx="415.4" cy="107.8" r="1.1"/><circle cx="383.5" cy="229.9" r="1.1"/><circle cx="392.9" cy="217.2" r="1.1"/><circle cx="353.9" cy="139.1" r="1.1"/><circle cx="384.3" cy="215.1" r="1.1"/><circle cx="428.4" cy="63.1" r="1.1"/><circle cx="424.0" cy="75.4" r="1.1"/><circle cx="345.5" cy="116.8" r="1.1"/><circle cx="366.5" cy="188.4" r="1.1"/><circle cx="421.6" cy="85.5" r="1.1"/><circle cx="380.8" cy="212.6" r="1.1"/><circle cx="410.8" cy="147.8" r="1.1"/><circle cx="401.2" cy="179.9" r="1.1"/><circle cx="382.4" cy="213.6" r="1.1"/><circle cx="369.0" cy="197.6" r="1.1"/><circle cx="422.7" cy="70.4" r="1.1"/><circle cx="363.6" cy="199.0" r="1.1"/><circle cx="431.0" cy="50.9" r="1.1"/><circle cx="380.5" cy="217.6" r="1.1"/><circle cx="417.0" cy="110.8" r="1.1"/><circle cx="365.2" cy="191.3" r="1.1"/><circle cx="353.5" cy="152.6" r="1.1"/><circle cx="403.0" cy="185.5" r="1.1"/><circle cx="374.2" cy="202.9" r="1.1"/><circle cx="429.6" cy="61.7" r="1.1"/><circle cx="407.2" cy="164.8" r="1.1"/><circle cx="426.5" cy="63.2" r="1.1"/><circle cx="411.5" cy="139.3" r="1.1"/><circle cx="382.5" cy="229.3" r="1.1"/><circle cx="350.9" cy="124.8" r="1.1"/><circle cx="358.6" cy="162.7" r="1.1"/><circle cx="411.3" cy="143.9" r="1.1"/><circle cx="395.0" cy="197.8" r="1.1"/><circle cx="331.0" cy="68.5" r="1.1"/><circle cx="347.8" cy="108.7" r="1.1"/><circle cx="429.1" cy="64.3" r="1.1"/><circle cx="357.8" cy="170.7" r="1.1"/><circle cx="358.9" cy="166.4" r="1.1"/><circle cx="424.7" cy="76.2" r="1.1"/><circle cx="329.8" cy="60.7" r="1.1"/><circle cx="362.8" cy="200.0" r="1.1"/><circle cx="359.2" cy="159.3" r="1.1"/><circle cx="346.5" cy="133.3" r="1.1"/><circle cx="379.7" cy="218.5" r="1.1"/><circle cx="408.6" cy="156.8" r="1.1"/><circle cx="431.9" cy="51.9" r="1.1"/><circle cx="425.9" cy="78.9" r="1.1"/><circle cx="424.2" cy="74.0" r="1.1"/><circle cx="333.0" cy="65.2" r="1.1"/><circle cx="376.9" cy="218.2" r="1.1"/><circle cx="339.7" cy="96.1" r="1.1"/><circle cx="346.1" cy="126.1" r="1.1"/><circle cx="396.1" cy="206.9" r="1.1"/><circle cx="371.2" cy="211.4" r="1.1"/><circle cx="425.5" cy="70.7" r="1.1"/><circle cx="346.9" cy="118.9" r="1.1"/><circle cx="338.9" cy="74.7" r="1.1"/><circle cx="398.9" cy="187.2" r="1.1"/><circle cx="372.1" cy="208.1" r="1.1"/><circle cx="348.2" cy="116.7" r="1.1"/><circle cx="349.8" cy="123.7" r="1.1"/><circle cx="340.5" cy="92.1" r="1.1"/><circle cx="379.0" cy="223.3" r="1.1"/><circle cx="378.9" cy="226.0" r="1.1"/><circle cx="347.3" cy="127.8" r="1.1"/><circle cx="343.1" cy="96.6" r="1.1"/><circle cx="422.0" cy="93.0" r="1.1"/><circle cx="393.1" cy="212.5" r="1.1"/><circle cx="348.8" cy="117.5" r="1.1"/><circle cx="335.3" cy="73.5" r="1.1"/><circle cx="399.2" cy="190.6" r="1.1"/><circle cx="334.8" cy="81.3" r="1.1"/><circle cx="328.7" cy="58.3" r="1.1"/><circle cx="333.2" cy="74.4" r="1.1"/><circle cx="398.2" cy="182.6" r="1.1"/><circle cx="357.5" cy="178.5" r="1.1"/><circle cx="342.6" cy="104.5" r="1.1"/><circle cx="388.9" cy="218.6" r="1.1"/><circle cx="376.0" cy="207.7" r="1.1"/><circle cx="403.4" cy="191.0" r="1.1"/><circle cx="413.0" cy="132.8" r="1.1"/><circle cx="357.2" cy="168.9" r="1.1"/><circle cx="370.8" cy="207.8" r="1.1"/><circle cx="392.6" cy="208.4" r="1.1"/><circle cx="414.9" cy="122.0" r="1.1"/><circle cx="404.4" cy="177.5" r="1.1"/><circle cx="345.8" cy="104.3" r="1.1"/><circle cx="383.9" cy="225.6" r="1.1"/><circle cx="400.6" cy="190.2" r="1.1"/><circle cx="419.3" cy="102.3" r="1.1"/><circle cx="418.3" cy="107.0" r="1.1"/><circle cx="365.6" cy="188.5" r="1.1"/><circle cx="412.4" cy="129.6" r="1.1"/><circle cx="415.7" cy="119.8" r="1.1"/><circle cx="402.7" cy="180.0" r="1.1"/><circle cx="390.6" cy="220.5" r="1.1"/><circle cx="355.5" cy="153.6" r="1.1"/><circle cx="355.4" cy="153.7" r="1.1"/><circle cx="342.3" cy="103.3" r="1.1"/><circle cx="369.2" cy="192.7" r="1.1"/><circle cx="376.5" cy="212.2" r="1.1"/><circle cx="414.3" cy="128.3" r="1.1"/><circle cx="384.7" cy="220.6" r="1.1"/><circle cx="419.6" cy="96.3" r="1.1"/><circle cx="360.6" cy="174.0" r="1.1"/><circle cx="352.0" cy="130.7" r="1.1"/><circle cx="340.6" cy="85.2" r="1.1"/><circle cx="399.6" cy="169.4" r="1.1"/><circle cx="337.7" cy="74.4" r="1.1"/><circle cx="366.4" cy="182.4" r="1.1"/><circle cx="393.6" cy="208.0" r="1.1"/><circle cx="397.4" cy="190.8" r="1.1"/><circle cx="416.4" cy="120.5" r="1.1"/><circle cx="364.4" cy="197.3" r="1.1"/><circle cx="416.9" cy="105.9" r="1.1"/><circle cx="335.6" cy="91.0" r="1.1"/><circle cx="336.0" cy="82.4" r="1.1"/><circle cx="413.7" cy="133.0" r="1.1"/><circle cx="382.0" cy="230.8" r="1.1"/><circle cx="407.6" cy="152.2" r="1.1"/><circle cx="339.3" cy="84.7" r="1.1"/><circle cx="386.7" cy="218.4" r="1.1"/><circle cx="420.1" cy="88.6" r="1.1"/><circle cx="341.1" cy="95.1" r="1.1"/><circle cx="413.2" cy="121.9" r="1.1"/><circle cx="361.7" cy="179.1" r="1.1"/><circle cx="377.8" cy="215.3" r="1.1"/><circle cx="430.6" cy="79.5" r="1.1"/><circle cx="423.3" cy="88.0" r="1.1"/><circle cx="388.3" cy="219.9" r="1.1"/><circle cx="424.9" cy="63.1" r="1.1"/><circle cx="381.6" cy="221.1" r="1.1"/><circle cx="331.3" cy="62.5" r="1.1"/><circle cx="349.5" cy="137.9" r="1.1"/><circle cx="396.8" cy="194.7" r="1.1"/><circle cx="412.0" cy="140.9" r="1.1"/><circle cx="344.2" cy="107.6" r="1.1"/><circle cx="404.9" cy="168.7" r="1.1"/><circle cx="452.2" cy="125.5" r="1.1"/><circle cx="462.4" cy="154.4" r="1.1"/><circle cx="520.9" cy="100.1" r="1.1"/><circle cx="483.1" cy="201.8" r="1.1"/><circle cx="433.6" cy="57.8" r="1.1"/><circle cx="446.8" cy="109.0" r="1.1"/><circle cx="498.0" cy="194.6" r="1.1"/><circle cx="452.5" cy="106.7" r="1.1"/><circle cx="477.8" cy="202.1" r="1.1"/><circle cx="527.8" cy="70.2" r="1.1"/><circle cx="525.4" cy="70.3" r="1.1"/><circle cx="528.7" cy="62.3" r="1.1"/><circle cx="500.7" cy="189.4" r="1.1"/><circle cx="478.4" cy="201.3" r="1.1"/><circle cx="474.1" cy="192.1" r="1.1"/><circle cx="517.5" cy="133.1" r="1.1"/><circle cx="479.8" cy="199.6" r="1.1"/><circle cx="451.6" cy="121.3" r="1.1"/><circle cx="494.9" cy="201.7" r="1.1"/><circle cx="472.6" cy="197.5" r="1.1"/><circle cx="438.8" cy="56.8" r="1.1"/><circle cx="505.5" cy="167.7" r="1.1"/><circle cx="535.9" cy="50.2" r="1.1"/><circle cx="511.5" cy="155.7" r="1.1"/><circle cx="511.8" cy="154.8" r="1.1"/><circle cx="516.9" cy="137.6" r="1.1"/><circle cx="475.1" cy="177.5" r="1.1"/><circle cx="458.5" cy="143.4" r="1.1"/><circle cx="466.0" cy="167.7" r="1.1"/><circle cx="437.1" cy="56.2" r="1.1"/><circle cx="474.7" cy="189.9" r="1.1"/><circle cx="457.0" cy="126.8" r="1.1"/><circle cx="508.6" cy="148.9" r="1.1"/><circle cx="491.9" cy="208.3" r="1.1"/><circle cx="465.4" cy="157.5" r="1.1"/><circle cx="455.7" cy="125.1" r="1.1"/><circle cx="470.6" cy="188.4" r="1.1"/><circle cx="535.4" cy="56.8" r="1.1"/><circle cx="499.1" cy="201.5" r="1.1"/><circle cx="459.9" cy="152.0" r="1.1"/><circle cx="507.3" cy="156.8" r="1.1"/><circle cx="448.0" cy="107.2" r="1.1"/><circle cx="475.8" cy="191.7" r="1.1"/><circle cx="461.2" cy="149.1" r="1.1"/><circle cx="510.2" cy="160.0" r="1.1"/><circle cx="449.7" cy="108.1" r="1.1"/><circle cx="454.7" cy="108.9" r="1.1"/><circle cx="432.5" cy="59.6" r="1.1"/><circle cx="525.6" cy="73.5" r="1.1"/><circle cx="482.6" cy="212.5" r="1.1"/><circle cx="534.5" cy="54.2" r="1.1"/><circle cx="460.6" cy="155.7" r="1.1"/><circle cx="534.2" cy="53.8" r="1.1"/><circle cx="531.0" cy="61.8" r="1.1"/><circle cx="476.6" cy="200.3" r="1.1"/><circle cx="502.9" cy="179.6" r="1.1"/><circle cx="450.3" cy="104.7" r="1.1"/><circle cx="485.0" cy="199.2" r="1.1"/><circle cx="464.6" cy="166.2" r="1.1"/><circle cx="512.7" cy="144.6" r="1.1"/><circle cx="484.3" cy="212.1" r="1.1"/><circle cx="504.5" cy="165.4" r="1.1"/><circle cx="529.9" cy="72.7" r="1.1"/><circle cx="453.9" cy="125.0" r="1.1"/><circle cx="522.0" cy="90.0" r="1.1"/><circle cx="457.9" cy="116.5" r="1.1"/><circle cx="518.5" cy="113.7" r="1.1"/><circle cx="448.5" cy="105.1" r="1.1"/><circle cx="459.5" cy="146.5" r="1.1"/><circle cx="507.8" cy="166.9" r="1.1"/><circle cx="469.9" cy="180.6" r="1.1"/><circle cx="516.1" cy="137.2" r="1.1"/><circle cx="497.3" cy="191.2" r="1.1"/><circle cx="511.1" cy="154.4" r="1.1"/><circle cx="438.1" cy="68.3" r="1.1"/><circle cx="473.4" cy="209.0" r="1.1"/><circle cx="495.9" cy="196.2" r="1.1"/><circle cx="467.8" cy="176.3" r="1.1"/><circle cx="472.9" cy="183.3" r="1.1"/><circle cx="466.5" cy="175.0" r="1.1"/><circle cx="526.1" cy="68.1" r="1.1"/><circle cx="439.9" cy="65.7" r="1.1"/><circle cx="506.6" cy="168.6" r="1.1"/><circle cx="527.5" cy="65.2" r="1.1"/><circle cx="493.5" cy="202.1" r="1.1"/><circle cx="436.1" cy="61.8" r="1.1"/><circle cx="514.0" cy="126.2" r="1.1"/><circle cx="468.3" cy="174.9" r="1.1"/><circle cx="435.5" cy="57.3" r="1.1"/><circle cx="479.0" cy="203.8" r="1.1"/><circle cx="494.2" cy="204.8" r="1.1"/><circle cx="500.1" cy="173.3" r="1.1"/><circle cx="513.3" cy="143.1" r="1.1"/><circle cx="517.8" cy="128.4" r="1.1"/><circle cx="446.1" cy="99.5" r="1.1"/><circle cx="486.7" cy="210.7" r="1.1"/><circle cx="469.5" cy="169.2" r="1.1"/><circle cx="444.7" cy="82.1" r="1.1"/><circle cx="498.6" cy="187.4" r="1.1"/><circle cx="467.2" cy="164.4" r="1.1"/><circle cx="488.3" cy="206.2" r="1.1"/><circle cx="440.6" cy="82.7" r="1.1"/><circle cx="495.6" cy="205.1" r="1.1"/><circle cx="468.6" cy="185.9" r="1.1"/><circle cx="489.0" cy="208.8" r="1.1"/><circle cx="447.3" cy="97.1" r="1.1"/><circle cx="514.5" cy="136.9" r="1.1"/><circle cx="509.0" cy="162.1" r="1.1"/><circle cx="531.6" cy="69.1" r="1.1"/><circle cx="433.2" cy="60.8" r="1.1"/><circle cx="527.0" cy="70.9" r="1.1"/><circle cx="530.3" cy="58.9" r="1.1"/><circle cx="481.5" cy="208.6" r="1.1"/><circle cx="490.0" cy="221.6" r="1.1"/><circle cx="520.3" cy="109.0" r="1.1"/><circle cx="463.9" cy="147.2" r="1.1"/><circle cx="445.3" cy="85.7" r="1.1"/><circle cx="485.3" cy="212.0" r="1.1"/><circle cx="519.9" cy="105.0" r="1.1"/><circle cx="443.4" cy="89.8" r="1.1"/><circle cx="501.8" cy="182.2" r="1.1"/><circle cx="448.9" cy="122.7" r="1.1"/><circle cx="461.5" cy="147.1" r="1.1"/><circle cx="533.6" cy="58.9" r="1.1"/><circle cx="442.6" cy="100.4" r="1.1"/><circle cx="451.2" cy="120.1" r="1.1"/><circle cx="509.8" cy="160.2" r="1.1"/><circle cx="441.5" cy="73.8" r="1.1"/><circle cx="463.6" cy="187.2" r="1.1"/><circle cx="501.5" cy="173.5" r="1.1"/><circle cx="434.2" cy="58.2" r="1.1"/><circle cx="440.1" cy="77.6" r="1.1"/><circle cx="487.7" cy="217.2" r="1.1"/><circle cx="502.6" cy="175.0" r="1.1"/><circle cx="480.4" cy="206.7" r="1.1"/><circle cx="532.8" cy="51.8" r="1.1"/><circle cx="486.0" cy="212.5" r="1.1"/><circle cx="522.5" cy="92.6" r="1.1"/><circle cx="532.0" cy="51.7" r="1.1"/><circle cx="489.3" cy="212.3" r="1.1"/><circle cx="491.2" cy="218.8" r="1.1"/><circle cx="483.9" cy="201.8" r="1.1"/><circle cx="457.2" cy="129.5" r="1.1"/><circle cx="470.9" cy="187.7" r="1.1"/><circle cx="492.3" cy="203.6" r="1.1"/><circle cx="493.1" cy="210.4" r="1.1"/><circle cx="486.9" cy="203.7" r="1.1"/><circle cx="499.6" cy="195.0" r="1.1"/><circle cx="434.7" cy="78.1" r="1.1"/><circle cx="456.1" cy="143.9" r="1.1"/><circle cx="444.0" cy="72.1" r="1.1"/><circle cx="521.4" cy="106.2" r="1.1"/><circle cx="505.0" cy="174.3" r="1.1"/><circle cx="524.5" cy="85.3" r="1.1"/><circle cx="523.9" cy="95.0" r="1.1"/><circle cx="515.8" cy="130.0" r="1.1"/><circle cx="441.8" cy="85.4" r="1.1"/><circle cx="479.7" cy="200.3" r="1.1"/><circle cx="463.0" cy="174.1" r="1.1"/><circle cx="523.4" cy="89.4" r="1.1"/><circle cx="454.8" cy="119.2" r="1.1"/><circle cx="490.8" cy="214.2" r="1.1"/><circle cx="438.5" cy="68.9" r="1.1"/><circle cx="477.2" cy="197.4" r="1.1"/><circle cx="519.0" cy="124.2" r="1.1"/><circle cx="444.7" cy="84.0" r="1.1"/><circle cx="529.5" cy="42.8" r="1.1"/><circle cx="481.6" cy="215.7" r="1.1"/><circle cx="436.6" cy="70.9" r="1.1"/><circle cx="453.0" cy="124.7" r="1.1"/><circle cx="515.2" cy="138.8" r="1.1"/><circle cx="472.0" cy="198.6" r="1.1"/><circle cx="506.4" cy="166.7" r="1.1"/><circle cx="503.8" cy="170.6" r="1.1"/><circle cx="496.7" cy="199.0" r="1.1"/><circle cx="451.6" cy="123.3" r="1.1"/><circle cx="476.0" cy="189.9" r="1.1"/><circle cx="445.8" cy="107.9" r="1.1"/><circle cx="491.2" cy="214.6" r="1.1"/><circle cx="528.7" cy="64.3" r="1.1"/><circle cx="527.1" cy="78.5" r="1.1"/><circle cx="515.3" cy="138.1" r="1.1"/><circle cx="515.9" cy="125.5" r="1.1"/><circle cx="504.4" cy="181.0" r="1.1"/><circle cx="468.5" cy="185.0" r="1.1"/><circle cx="525.6" cy="77.6" r="1.1"/><circle cx="436.2" cy="69.9" r="1.1"/><circle cx="515.6" cy="148.7" r="1.1"/><circle cx="483.1" cy="202.1" r="1.1"/><circle cx="527.3" cy="64.5" r="1.1"/><circle cx="534.5" cy="65.0" r="1.1"/><circle cx="507.3" cy="179.1" r="1.1"/><circle cx="474.1" cy="181.1" r="1.1"/><circle cx="511.8" cy="144.4" r="1.1"/><circle cx="453.6" cy="114.5" r="1.1"/><circle cx="531.5" cy="53.1" r="1.1"/><circle cx="512.5" cy="141.9" r="1.1"/><circle cx="473.1" cy="193.5" r="1.1"/><circle cx="469.5" cy="173.1" r="1.1"/><circle cx="478.6" cy="196.1" r="1.1"/><circle cx="493.9" cy="218.0" r="1.1"/><circle cx="443.6" cy="77.2" r="1.1"/><circle cx="520.4" cy="98.5" r="1.1"/><circle cx="442.9" cy="81.5" r="1.1"/><circle cx="449.1" cy="106.7" r="1.1"/><circle cx="480.4" cy="203.8" r="1.1"/><circle cx="529.6" cy="66.6" r="1.1"/><circle cx="465.5" cy="172.6" r="1.1"/><circle cx="463.4" cy="187.5" r="1.1"/><circle cx="492.5" cy="217.9" r="1.1"/><circle cx="466.0" cy="157.9" r="1.1"/><circle cx="432.6" cy="59.5" r="1.1"/><circle cx="514.5" cy="145.4" r="1.1"/><circle cx="524.2" cy="86.4" r="1.1"/><circle cx="456.0" cy="153.8" r="1.1"/><circle cx="513.8" cy="154.6" r="1.1"/><circle cx="437.7" cy="62.5" r="1.1"/><circle cx="439.4" cy="64.7" r="1.1"/><circle cx="440.9" cy="60.6" r="1.1"/><circle cx="481.4" cy="211.4" r="1.1"/><circle cx="474.6" cy="193.7" r="1.1"/><circle cx="472.8" cy="217.4" r="1.1"/><circle cx="435.5" cy="62.5" r="1.1"/><circle cx="467.2" cy="160.6" r="1.1"/><circle cx="517.9" cy="118.4" r="1.1"/><circle cx="458.0" cy="157.9" r="1.1"/><circle cx="471.0" cy="178.8" r="1.1"/><circle cx="517.0" cy="128.2" r="1.1"/><circle cx="460.9" cy="155.8" r="1.1"/><circle cx="480.4" cy="211.3" r="1.1"/><circle cx="447.0" cy="94.1" r="1.1"/><circle cx="529.4" cy="60.5" r="1.1"/><circle cx="481.9" cy="216.2" r="1.1"/><circle cx="434.1" cy="56.4" r="1.1"/><circle cx="526.1" cy="78.1" r="1.1"/><circle cx="487.2" cy="203.3" r="1.1"/><circle cx="535.6" cy="50.8" r="1.1"/><circle cx="485.6" cy="218.1" r="1.1"/><circle cx="490.6" cy="201.8" r="1.1"/><circle cx="444.7" cy="96.9" r="1.1"/><circle cx="456.7" cy="146.2" r="1.1"/><circle cx="503.2" cy="177.1" r="1.1"/><circle cx="469.4" cy="185.7" r="1.1"/><circle cx="521.0" cy="92.6" r="1.1"/><circle cx="447.7" cy="112.4" r="1.1"/><circle cx="449.8" cy="122.7" r="1.1"/><circle cx="485.1" cy="214.0" r="1.1"/><circle cx="458.4" cy="124.9" r="1.1"/><circle cx="452.7" cy="119.9" r="1.1"/><circle cx="496.8" cy="210.4" r="1.1"/><circle cx="457.8" cy="134.4" r="1.1"/><circle cx="468.2" cy="185.6" r="1.1"/><circle cx="452.2" cy="120.4" r="1.1"/><circle cx="446.5" cy="90.7" r="1.1"/><circle cx="493.4" cy="210.7" r="1.1"/><circle cx="433.0" cy="56.0" r="1.1"/><circle cx="450.8" cy="107.4" r="1.1"/><circle cx="474.8" cy="182.9" r="1.1"/><circle cx="514.4" cy="148.0" r="1.1"/><circle cx="500.7" cy="197.2" r="1.1"/><circle cx="441.8" cy="76.3" r="1.1"/><circle cx="501.4" cy="174.7" r="1.1"/><circle cx="458.9" cy="138.9" r="1.1"/><circle cx="461.4" cy="158.3" r="1.1"/><circle cx="517.4" cy="114.0" r="1.1"/><circle cx="473.6" cy="193.2" r="1.1"/><circle cx="450.4" cy="124.9" r="1.1"/><circle cx="483.6" cy="206.7" r="1.1"/><circle cx="485.9" cy="229.4" r="1.1"/><circle cx="508.8" cy="165.4" r="1.1"/><circle cx="492.8" cy="205.5" r="1.1"/><circle cx="453.2" cy="118.9" r="1.1"/><circle cx="532.3" cy="49.1" r="1.1"/><circle cx="518.1" cy="121.5" r="1.1"/><circle cx="521.7" cy="97.6" r="1.1"/><circle cx="509.3" cy="160.0" r="1.1"/><circle cx="455.4" cy="124.5" r="1.1"/><circle cx="528.0" cy="72.6" r="1.1"/><circle cx="440.4" cy="81.1" r="1.1"/><circle cx="505.7" cy="178.9" r="1.1"/><circle cx="452.0" cy="136.9" r="1.1"/><circle cx="522.2" cy="97.9" r="1.1"/><circle cx="462.1" cy="163.4" r="1.1"/><circle cx="454.2" cy="130.8" r="1.1"/><circle cx="434.8" cy="69.5" r="1.1"/><circle cx="495.4" cy="198.4" r="1.1"/><circle cx="484.8" cy="211.1" r="1.1"/><circle cx="508.6" cy="156.9" r="1.1"/><circle cx="532.0" cy="55.8" r="1.1"/><circle cx="471.6" cy="191.9" r="1.1"/><circle cx="488.7" cy="225.5" r="1.1"/><circle cx="459.3" cy="135.5" r="1.1"/><circle cx="533.6" cy="55.6" r="1.1"/><circle cx="483.1" cy="205.6" r="1.1"/><circle cx="500.9" cy="180.1" r="1.1"/><circle cx="480.9" cy="198.0" r="1.1"/><circle cx="470.1" cy="183.8" r="1.1"/><circle cx="479.4" cy="192.6" r="1.1"/><circle cx="438.3" cy="64.2" r="1.1"/><circle cx="505.2" cy="174.3" r="1.1"/><circle cx="524.9" cy="79.6" r="1.1"/><circle cx="477.3" cy="191.7" r="1.1"/><circle cx="495.5" cy="197.3" r="1.1"/><circle cx="442.1" cy="84.5" r="1.1"/><circle cx="510.1" cy="150.5" r="1.1"/><circle cx="488.1" cy="226.0" r="1.1"/><circle cx="503.9" cy="181.4" r="1.1"/><circle cx="499.2" cy="187.8" r="1.1"/><circle cx="519.0" cy="105.9" r="1.1"/><circle cx="477.6" cy="212.7" r="1.1"/><circle cx="466.5" cy="186.6" r="1.1"/><circle cx="498.4" cy="189.5" r="1.1"/><circle cx="459.8" cy="156.5" r="1.1"/><circle cx="482.5" cy="218.1" r="1.1"/><circle cx="533.3" cy="57.8" r="1.1"/><circle cx="486.5" cy="228.8" r="1.1"/><circle cx="463.7" cy="169.8" r="1.1"/><circle cx="436.6" cy="70.2" r="1.1"/><circle cx="494.8" cy="198.1" r="1.1"/><circle cx="497.3" cy="214.4" r="1.1"/><circle cx="506.2" cy="167.0" r="1.1"/><circle cx="505.0" cy="159.8" r="1.1"/><circle cx="491.7" cy="212.4" r="1.1"/><circle cx="465.1" cy="175.5" r="1.1"/><circle cx="456.2" cy="141.4" r="1.1"/><circle cx="457.2" cy="150.5" r="1.1"/><circle cx="521.4" cy="100.5" r="1.1"/><circle cx="525.2" cy="81.4" r="1.1"/><circle cx="534.8" cy="65.5" r="1.1"/><circle cx="446.1" cy="93.0" r="1.1"/><circle cx="523.4" cy="90.1" r="1.1"/><circle cx="448.2" cy="103.9" r="1.1"/><circle cx="470.7" cy="179.5" r="1.1"/><circle cx="535.8" cy="56.3" r="1.1"/><circle cx="460.3" cy="150.1" r="1.1"/><circle cx="511.5" cy="145.8" r="1.1"/><circle cx="464.5" cy="179.5" r="1.1"/><circle cx="472.4" cy="182.4" r="1.1"/><circle cx="445.5" cy="92.9" r="1.1"/><circle cx="502.2" cy="187.9" r="1.1"/><circle cx="519.5" cy="110.2" r="1.1"/><circle cx="442.6" cy="88.5" r="1.1"/><circle cx="510.5" cy="157.3" r="1.1"/><circle cx="500.2" cy="190.5" r="1.1"/><circle cx="439.2" cy="76.4" r="1.1"/><circle cx="433.5" cy="58.6" r="1.1"/><circle cx="433.9" cy="65.1" r="1.1"/><circle cx="507.4" cy="165.7" r="1.1"/><circle cx="476.1" cy="193.3" r="1.1"/><circle cx="494.3" cy="197.0" r="1.1"/><circle cx="530.2" cy="63.8" r="1.1"/><circle cx="461.6" cy="155.8" r="1.1"/><circle cx="487.7" cy="210.6" r="1.1"/><circle cx="437.0" cy="77.7" r="1.1"/><circle cx="516.2" cy="138.8" r="1.1"/><circle cx="464.2" cy="155.0" r="1.1"/><circle cx="454.9" cy="139.8" r="1.1"/><circle cx="503.8" cy="167.6" r="1.1"/><circle cx="444.3" cy="100.0" r="1.1"/><circle cx="489.3" cy="233.5" r="1.1"/><circle cx="512.9" cy="145.3" r="1.1"/><circle cx="511.2" cy="156.0" r="1.1"/><circle cx="496.0" cy="203.0" r="1.1"/><circle cx="437.5" cy="72.5" r="1.1"/><circle cx="534.0" cy="59.5" r="1.1"/><circle cx="476.8" cy="208.7" r="1.1"/><circle cx="522.5" cy="89.4" r="1.1"/><circle cx="498.0" cy="207.7" r="1.1"/><circle cx="488.9" cy="207.2" r="1.1"/><circle cx="528.5" cy="70.3" r="1.1"/><circle cx="524.1" cy="94.1" r="1.1"/><circle cx="519.9" cy="117.1" r="1.1"/><circle cx="467.6" cy="171.8" r="1.1"/><circle cx="526.6" cy="72.7" r="1.1"/><circle cx="441.3" cy="86.5" r="1.1"/><circle cx="471.4" cy="191.0" r="1.1"/><circle cx="506.8" cy="178.3" r="1.1"/><circle cx="450.1" cy="101.9" r="1.1"/><circle cx="466.9" cy="188.3" r="1.1"/><circle cx="478.9" cy="209.2" r="1.1"/><circle cx="532.8" cy="59.4" r="1.1"/><circle cx="489.9" cy="218.0" r="1.1"/><circle cx="439.8" cy="83.2" r="1.1"/><circle cx="477.9" cy="208.7" r="1.1"/><circle cx="507.9" cy="173.4" r="1.1"/><circle cx="486.7" cy="218.6" r="1.1"/><circle cx="435.2" cy="70.3" r="1.1"/><circle cx="479.6" cy="192.3" r="1.1"/><circle cx="475.2" cy="202.4" r="1.1"/><circle cx="448.8" cy="116.0" r="1.1"/><circle cx="530.5" cy="59.0" r="1.1"/><circle cx="443.8" cy="79.9" r="1.1"/><circle cx="447.9" cy="96.7" r="1.1"/><circle cx="463.0" cy="169.4" r="1.1"/><circle cx="454.6" cy="114.8" r="1.1"/><circle cx="484.4" cy="215.4" r="1.1"/><circle cx="531.2" cy="53.1" r="1.1"/><circle cx="492.1" cy="223.9" r="1.1"/><circle cx="496.5" cy="205.0" r="1.1"/><circle cx="502.7" cy="178.5" r="1.1"/><circle cx="518.5" cy="118.8" r="1.1"/><circle cx="510.0" cy="155.5" r="1.1"/><circle cx="499.5" cy="183.2" r="1.1"/><circle cx="522.9" cy="87.3" r="1.1"/><circle cx="498.8" cy="191.5" r="1.1"/><circle cx="490.4" cy="213.1" r="1.1"/><circle cx="501.8" cy="172.6" r="1.1"/><circle cx="513.5" cy="144.7" r="1.1"/><circle cx="462.5" cy="159.8" r="1.1"/><circle cx="438.7" cy="66.2" r="1.1"/><circle cx="432.6" cy="63.1" r="1.1"/><circle cx="491.9" cy="221.8" r="1.1"/><circle cx="441.6" cy="80.1" r="1.1"/><circle cx="435.7" cy="64.2" r="1.1"/><circle cx="482.8" cy="216.7" r="1.1"/><circle cx="528.6" cy="79.0" r="1.1"/><circle cx="451.0" cy="108.9" r="1.1"/><circle cx="492.1" cy="203.8" r="1.1"/><circle cx="435.9" cy="74.3" r="1.1"/><circle cx="508.2" cy="180.1" r="1.1"/><circle cx="468.6" cy="183.2" r="1.1"/><circle cx="433.2" cy="46.9" r="1.1"/><circle cx="438.5" cy="75.1" r="1.1"/><circle cx="437.6" cy="64.6" r="1.1"/><circle cx="434.8" cy="72.4" r="1.1"/><circle cx="448.6" cy="110.5" r="1.1"/><circle cx="478.0" cy="205.8" r="1.1"/><circle cx="455.0" cy="129.3" r="1.1"/><circle cx="487.1" cy="228.4" r="1.1"/><circle cx="526.9" cy="80.3" r="1.1"/><circle cx="446.1" cy="91.7" r="1.1"/><circle cx="449.4" cy="100.5" r="1.1"/><circle cx="465.2" cy="186.5" r="1.1"/><circle cx="527.1" cy="72.8" r="1.1"/><circle cx="444.4" cy="76.5" r="1.1"/><circle cx="519.5" cy="114.2" r="1.1"/><circle cx="521.9" cy="96.7" r="1.1"/><circle cx="480.7" cy="208.8" r="1.1"/><circle cx="529.8" cy="57.2" r="1.1"/><circle cx="531.4" cy="59.5" r="1.1"/><circle cx="458.4" cy="141.9" r="1.1"/><circle cx="478.7" cy="208.7" r="1.1"/><circle cx="457.3" cy="130.5" r="1.1"/><circle cx="439.4" cy="74.3" r="1.1"/><circle cx="502.9" cy="181.4" r="1.1"/><circle cx="506.6" cy="182.2" r="1.1"/><circle cx="469.1" cy="189.6" r="1.1"/><circle cx="517.0" cy="132.2" r="1.1"/><circle cx="518.0" cy="131.9" r="1.1"/><circle cx="437.9" cy="67.5" r="1.1"/><circle cx="529.3" cy="73.5" r="1.1"/><circle cx="434.4" cy="64.3" r="1.1"/><circle cx="435.4" cy="78.2" r="1.1"/><circle cx="451.6" cy="126.5" r="1.1"/><circle cx="446.0" cy="108.8" r="1.1"/><circle cx="502.4" cy="180.5" r="1.1"/><circle cx="470.4" cy="197.0" r="1.1"/><circle cx="447.6" cy="108.4" r="1.1"/><circle cx="462.4" cy="166.1" r="1.1"/><circle cx="488.0" cy="206.0" r="1.1"/><circle cx="520.4" cy="94.8" r="1.1"/><circle cx="457.9" cy="140.5" r="1.1"/><circle cx="528.1" cy="74.0" r="1.1"/><circle cx="512.6" cy="154.6" r="1.1"/><circle cx="522.3" cy="90.9" r="1.1"/><circle cx="520.4" cy="117.1" r="1.1"/><circle cx="446.5" cy="91.4" r="1.1"/><circle cx="471.1" cy="187.7" r="1.1"/><circle cx="486.1" cy="220.0" r="1.1"/><circle cx="455.7" cy="129.8" r="1.1"/><circle cx="479.3" cy="204.0" r="1.1"/><circle cx="526.6" cy="58.4" r="1.1"/><circle cx="504.8" cy="171.0" r="1.1"/><circle cx="490.3" cy="203.6" r="1.1"/><circle cx="432.7" cy="65.1" r="1.1"/><circle cx="529.0" cy="65.9" r="1.1"/><circle cx="492.5" cy="222.3" r="1.1"/><circle cx="433.4" cy="64.5" r="1.1"/><circle cx="434.6" cy="59.3" r="1.1"/><circle cx="443.4" cy="100.5" r="1.1"/><circle cx="450.0" cy="114.5" r="1.1"/><circle cx="494.4" cy="216.6" r="1.1"/><circle cx="490.7" cy="219.2" r="1.1"/><circle cx="497.5" cy="193.7" r="1.1"/><circle cx="440.5" cy="79.8" r="1.1"/><circle cx="481.3" cy="212.0" r="1.1"/><circle cx="488.2" cy="215.1" r="1.1"/><circle cx="473.8" cy="203.7" r="1.1"/><circle cx="452.0" cy="129.9" r="1.1"/><circle cx="444.2" cy="82.7" r="1.1"/><circle cx="456.9" cy="134.8" r="1.1"/><circle cx="535.0" cy="44.6" r="1.1"/><circle cx="508.7" cy="167.1" r="1.1"/><circle cx="441.8" cy="80.6" r="1.1"/><circle cx="534.2" cy="46.7" r="1.1"/><circle cx="517.3" cy="133.9" r="1.1"/><circle cx="514.1" cy="149.6" r="1.1"/><circle cx="535.4" cy="54.9" r="1.1"/><circle cx="445.2" cy="85.7" r="1.1"/><circle cx="495.5" cy="200.7" r="1.1"/><circle cx="501.9" cy="190.9" r="1.1"/><circle cx="489.7" cy="205.8" r="1.1"/><circle cx="477.5" cy="199.3" r="1.1"/><circle cx="533.3" cy="70.5" r="1.1"/><circle cx="469.9" cy="190.4" r="1.1"/><circle cx="467.6" cy="189.1" r="1.1"/><circle cx="525.8" cy="80.1" r="1.1"/><circle cx="513.4" cy="143.4" r="1.1"/><circle cx="511.0" cy="159.6" r="1.1"/><circle cx="498.7" cy="200.8" r="1.1"/><circle cx="516.4" cy="131.3" r="1.1"/><circle cx="516.5" cy="142.3" r="1.1"/><circle cx="489.1" cy="227.0" r="1.1"/><circle cx="500.2" cy="197.7" r="1.1"/><circle cx="519.1" cy="110.0" r="1.1"/><circle cx="436.4" cy="62.0" r="1.1"/><circle cx="464.8" cy="157.8" r="1.1"/><circle cx="465.9" cy="176.9" r="1.1"/><circle cx="456.1" cy="134.8" r="1.1"/><circle cx="449.3" cy="122.2" r="1.1"/><circle cx="521.6" cy="93.4" r="1.1"/><circle cx="495.7" cy="200.4" r="1.1"/><circle cx="530.1" cy="61.5" r="1.1"/><circle cx="535.8" cy="59.9" r="1.1"/><circle cx="453.5" cy="132.0" r="1.1"/><circle cx="481.6" cy="213.3" r="1.1"/><circle cx="526.2" cy="85.5" r="1.1"/><circle cx="454.5" cy="137.1" r="1.1"/><circle cx="500.9" cy="181.3" r="1.1"/><circle cx="475.2" cy="180.9" r="1.1"/><circle cx="453.1" cy="112.7" r="1.1"/><circle cx="520.0" cy="112.5" r="1.1"/><circle cx="503.6" cy="179.2" r="1.1"/><circle cx="480.7" cy="206.9" r="1.1"/><circle cx="481.9" cy="206.4" r="1.1"/><circle cx="497.0" cy="207.4" r="1.1"/><circle cx="465.6" cy="174.0" r="1.1"/><circle cx="484.6" cy="215.5" r="1.1"/><circle cx="485.1" cy="208.8" r="1.1"/><circle cx="522.9" cy="87.4" r="1.1"/><circle cx="474.4" cy="199.2" r="1.1"/><circle cx="505.4" cy="170.9" r="1.1"/><circle cx="494.7" cy="202.5" r="1.1"/><circle cx="460.7" cy="160.1" r="1.1"/><circle cx="482.3" cy="221.6" r="1.1"/><circle cx="474.7" cy="203.8" r="1.1"/><circle cx="517.9" cy="141.5" r="1.1"/><circle cx="507.5" cy="170.5" r="1.1"/><circle cx="499.0" cy="193.7" r="1.1"/><circle cx="473.4" cy="188.8" r="1.1"/><circle cx="440.8" cy="74.3" r="1.1"/><circle cx="534.4" cy="68.3" r="1.1"/><circle cx="512.3" cy="156.9" r="1.1"/><circle cx="503.8" cy="186.3" r="1.1"/><circle cx="509.5" cy="170.8" r="1.1"/><circle cx="476.2" cy="199.7" r="1.1"/><circle cx="466.4" cy="172.4" r="1.1"/><circle cx="480.0" cy="211.8" r="1.1"/><circle cx="510.6" cy="163.6" r="1.1"/><circle cx="497.4" cy="205.2" r="1.1"/><circle cx="498.5" cy="202.4" r="1.1"/><circle cx="499.4" cy="195.0" r="1.1"/><circle cx="486.7" cy="210.5" r="1.1"/><circle cx="483.1" cy="212.9" r="1.1"/><circle cx="461.2" cy="155.8" r="1.1"/><circle cx="471.6" cy="199.4" r="1.1"/><circle cx="456.6" cy="122.1" r="1.1"/><circle cx="505.9" cy="175.4" r="1.1"/><circle cx="521.0" cy="123.4" r="1.1"/><circle cx="466.7" cy="171.9" r="1.1"/><circle cx="477.4" cy="196.5" r="1.1"/><circle cx="501.7" cy="185.5" r="1.1"/><circle cx="531.2" cy="71.3" r="1.1"/><circle cx="491.6" cy="215.4" r="1.1"/><circle cx="510.4" cy="164.2" r="1.1"/><circle cx="434.0" cy="61.1" r="1.1"/><circle cx="468.0" cy="176.7" r="1.1"/><circle cx="487.5" cy="241.1" r="1.1"/><circle cx="478.4" cy="205.2" r="1.1"/><circle cx="494.1" cy="209.1" r="1.1"/><circle cx="485.6" cy="212.5" r="1.1"/><circle cx="463.7" cy="181.9" r="1.1"/><circle cx="511.6" cy="161.6" r="1.1"/><circle cx="462.1" cy="168.6" r="1.1"/><circle cx="471.4" cy="191.1" r="1.1"/><circle cx="458.5" cy="137.3" r="1.1"/><circle cx="457.5" cy="143.9" r="1.1"/><circle cx="531.0" cy="60.6" r="1.1"/><circle cx="439.5" cy="77.8" r="1.1"/><circle cx="514.6" cy="136.2" r="1.1"/><circle cx="500.4" cy="185.8" r="1.1"/><circle cx="448.2" cy="101.7" r="1.1"/><circle cx="442.6" cy="85.0" r="1.1"/><circle cx="532.7" cy="50.1" r="1.1"/><circle cx="462.8" cy="173.3" r="1.1"/><circle cx="437.1" cy="68.8" r="1.1"/><circle cx="533.8" cy="51.6" r="1.1"/><circle cx="530.4" cy="59.3" r="1.1"/><circle cx="535.6" cy="53.3" r="1.1"/><circle cx="493.6" cy="221.4" r="1.1"/><circle cx="436.6" cy="48.3" r="1.1"/><circle cx="459.1" cy="149.1" r="1.1"/><circle cx="454.2" cy="113.0" r="1.1"/><circle cx="495.0" cy="208.4" r="1.1"/><circle cx="450.4" cy="121.1" r="1.1"/><circle cx="498.0" cy="194.7" r="1.1"/><circle cx="513.5" cy="151.9" r="1.1"/><circle cx="472.9" cy="192.8" r="1.1"/><circle cx="447.4" cy="115.1" r="1.1"/><circle cx="450.5" cy="119.4" r="1.1"/><circle cx="532.2" cy="65.4" r="1.1"/><circle cx="460.5" cy="148.5" r="1.1"/><circle cx="509.2" cy="159.4" r="1.1"/><circle cx="468.0" cy="197.7" r="1.1"/><circle cx="439.1" cy="67.4" r="1.1"/><circle cx="469.2" cy="183.3" r="1.1"/><circle cx="454.1" cy="136.3" r="1.1"/><circle cx="506.2" cy="167.2" r="1.1"/><circle cx="484.1" cy="220.4" r="1.1"/><circle cx="525.1" cy="83.5" r="1.1"/><circle cx="448.8" cy="127.5" r="1.1"/><circle cx="504.1" cy="175.6" r="1.1"/><circle cx="515.2" cy="145.9" r="1.1"/><circle cx="524.7" cy="80.2" r="1.1"/><circle cx="441.2" cy="86.1" r="1.1"/><circle cx="461.4" cy="157.8" r="1.1"/><circle cx="459.6" cy="161.4" r="1.1"/><circle cx="499.8" cy="195.7" r="1.1"/><circle cx="518.3" cy="128.2" r="1.1"/><circle cx="464.0" cy="158.7" r="1.1"/><circle cx="451.4" cy="130.0" r="1.1"/><circle cx="443.0" cy="86.9" r="1.1"/><circle cx="475.3" cy="200.8" r="1.1"/><circle cx="496.7" cy="204.3" r="1.1"/><circle cx="514.4" cy="137.3" r="1.1"/><circle cx="472.7" cy="189.8" r="1.1"/><circle cx="447.0" cy="102.8" r="1.1"/><circle cx="523.6" cy="100.7" r="1.1"/><circle cx="507.8" cy="167.3" r="1.1"/><circle cx="486.4" cy="210.1" r="1.1"/><circle cx="459.3" cy="178.0" r="1.1"/><circle cx="445.5" cy="87.3" r="1.1"/><circle cx="505.8" cy="190.1" r="1.1"/><circle cx="440.0" cy="74.8" r="1.1"/><circle cx="523.9" cy="81.3" r="1.1"/><circle cx="464.6" cy="182.3" r="1.1"/><circle cx="483.7" cy="227.2" r="1.1"/><circle cx="476.8" cy="191.7" r="1.1"/><circle cx="525.5" cy="92.2" r="1.1"/><circle cx="511.8" cy="155.4" r="1.1"/><circle cx="503.0" cy="192.2" r="1.1"/><circle cx="513.1" cy="149.0" r="1.1"/><circle cx="455.3" cy="127.3" r="1.1"/><circle cx="515.5" cy="144.4" r="1.1"/><circle cx="475.9" cy="210.5" r="1.1"/><circle cx="480.1" cy="224.9" r="1.1"/><circle cx="452.7" cy="140.3" r="1.1"/><circle cx="442.4" cy="82.7" r="1.1"/><circle cx="476.6" cy="202.2" r="1.1"/><circle cx="491.0" cy="213.1" r="1.1"/><circle cx="488.4" cy="215.1" r="1.1"/><circle cx="510.1" cy="157.2" r="1.1"/><circle cx="463.5" cy="173.1" r="1.1"/><circle cx="501.2" cy="170.6" r="1.1"/><circle cx="466.9" cy="182.6" r="1.1"/><circle cx="452.7" cy="112.4" r="1.1"/><circle cx="523.0" cy="106.9" r="1.1"/><circle cx="527.9" cy="84.8" r="1.1"/><circle cx="460.1" cy="143.1" r="1.1"/><circle cx="533.0" cy="64.8" r="1.1"/><circle cx="504.4" cy="170.0" r="1.1"/><circle cx="473.9" cy="187.6" r="1.1"/><circle cx="515.7" cy="128.6" r="1.1"/><circle cx="521.3" cy="114.9" r="1.1"/><circle cx="518.7" cy="132.5" r="1.1"/><circle cx="470.9" cy="179.5" r="1.1"/><circle cx="524.2" cy="86.6" r="1.1"/><circle cx="493.2" cy="222.0" r="1.1"/><circle cx="485.3" cy="220.0" r="1.1"/><circle cx="463.2" cy="168.3" r="1.1"/><circle cx="527.6" cy="67.8" r="1.1"/><circle cx="489.3" cy="212.6" r="1.1"/><circle cx="490.0" cy="218.1" r="1.1"/><circle cx="483.4" cy="222.5" r="1.1"/><circle cx="469.5" cy="181.3" r="1.1"/><circle cx="479.2" cy="199.6" r="1.1"/><circle cx="438.4" cy="75.7" r="1.1"/><circle cx="507.1" cy="167.1" r="1.1"/><circle cx="496.3" cy="212.8" r="1.1"/><circle cx="444.9" cy="87.2" r="1.1"/><circle cx="443.8" cy="88.6" r="1.1"/><circle cx="472.1" cy="203.8" r="1.1"/><circle cx="492.8" cy="220.7" r="1.1"/><circle cx="508.9" cy="171.1" r="1.1"/><circle cx="532.1" cy="60.3" r="1.1"/><circle cx="529.7" cy="79.1" r="1.1"/><circle cx="440.7" cy="84.2" r="1.1"/><circle cx="464.6" cy="171.9" r="1.1"/><circle cx="525.6" cy="82.8" r="1.1"/><circle cx="454.8" cy="126.4" r="1.1"/><circle cx="495.1" cy="209.3" r="1.1"/><circle cx="447.1" cy="113.2" r="1.1"/><circle cx="511.0" cy="148.0" r="1.1"/><circle cx="441.6" cy="98.2" r="1.1"/><circle cx="437.8" cy="65.0" r="1.1"/><circle cx="466.5" cy="185.0" r="1.1"/><circle cx="519.5" cy="119.8" r="1.1"/><circle cx="446.2" cy="87.3" r="1.1"/><circle cx="491.8" cy="219.8" r="1.1"/><circle cx="515.8" cy="143.9" r="1.1"/><circle cx="448.7" cy="108.5" r="1.1"/><circle cx="473.9" cy="186.0" r="1.1"/><circle cx="471.6" cy="195.0" r="1.1"/><circle cx="470.4" cy="184.9" r="1.1"/><circle cx="464.9" cy="185.4" r="1.1"/><circle cx="451.2" cy="106.5" r="1.1"/><circle cx="496.1" cy="203.8" r="1.1"/><circle cx="449.9" cy="111.9" r="1.1"/><circle cx="530.4" cy="52.1" r="1.1"/><circle cx="494.8" cy="206.5" r="1.1"/><circle cx="465.4" cy="186.4" r="1.1"/><circle cx="532.7" cy="66.0" r="1.1"/><circle cx="517.6" cy="128.0" r="1.1"/><circle cx="486.3" cy="225.1" r="1.1"/><circle cx="478.1" cy="214.4" r="1.1"/><circle cx="483.6" cy="218.8" r="1.1"/><circle cx="496.4" cy="207.6" r="1.1"/><circle cx="441.3" cy="76.9" r="1.1"/><circle cx="459.5" cy="142.0" r="1.1"/><circle cx="472.5" cy="190.1" r="1.1"/><circle cx="522.1" cy="97.8" r="1.1"/><circle cx="472.5" cy="191.7" r="1.1"/><circle cx="522.7" cy="112.2" r="1.1"/><circle cx="453.5" cy="131.7" r="1.1"/><circle cx="535.4" cy="44.0" r="1.1"/><circle cx="433.1" cy="58.9" r="1.1"/><circle cx="515.4" cy="142.2" r="1.1"/><circle cx="520.9" cy="100.5" r="1.1"/><circle cx="432.3" cy="59.3" r="1.1"/><circle cx="499.1" cy="187.5" r="1.1"/><circle cx="464.1" cy="166.5" r="1.1"/><circle cx="528.0" cy="68.8" r="1.1"/><circle cx="474.6" cy="199.2" r="1.1"/><circle cx="488.3" cy="213.9" r="1.1"/><circle cx="450.8" cy="109.0" r="1.1"/><circle cx="517.0" cy="143.3" r="1.1"/><circle cx="479.3" cy="190.7" r="1.1"/><circle cx="458.3" cy="130.6" r="1.1"/><circle cx="436.3" cy="66.2" r="1.1"/><circle cx="488.8" cy="213.5" r="1.1"/><circle cx="498.1" cy="205.4" r="1.1"/><circle cx="459.8" cy="155.9" r="1.1"/><circle cx="518.1" cy="120.6" r="1.1"/><circle cx="448.9" cy="118.3" r="1.1"/><circle cx="521.4" cy="94.8" r="1.1"/><circle cx="520.8" cy="104.7" r="1.1"/><circle cx="450.2" cy="107.2" r="1.1"/><circle cx="456.1" cy="122.6" r="1.1"/><circle cx="469.1" cy="182.3" r="1.1"/><circle cx="528.7" cy="73.6" r="1.1"/><circle cx="461.3" cy="156.0" r="1.1"/><circle cx="481.1" cy="203.7" r="1.1"/><circle cx="531.7" cy="62.2" r="1.1"/><circle cx="534.6" cy="48.8" r="1.1"/><circle cx="452.8" cy="111.7" r="1.1"/><circle cx="433.7" cy="56.3" r="1.1"/><circle cx="456.9" cy="144.0" r="1.1"/><circle cx="433.0" cy="59.8" r="1.1"/><circle cx="535.1" cy="53.4" r="1.1"/><circle cx="508.5" cy="163.1" r="1.1"/><circle cx="499.8" cy="203.1" r="1.1"/><circle cx="443.4" cy="88.0" r="1.1"/><circle cx="493.3" cy="222.2" r="1.1"/><circle cx="484.5" cy="212.6" r="1.1"/><circle cx="503.6" cy="186.0" r="1.1"/><circle cx="469.6" cy="191.8" r="1.1"/><circle cx="440.8" cy="87.7" r="1.1"/><circle cx="494.3" cy="228.3" r="1.1"/><circle cx="471.2" cy="186.2" r="1.1"/><circle cx="502.4" cy="184.7" r="1.1"/><circle cx="529.2" cy="63.2" r="1.1"/><circle cx="487.4" cy="189.1" r="1.1"/><circle cx="467.9" cy="170.6" r="1.1"/><circle cx="440.3" cy="75.7" r="1.1"/><circle cx="479.7" cy="211.3" r="1.1"/><circle cx="438.6" cy="70.2" r="1.1"/><circle cx="491.0" cy="224.3" r="1.1"/><circle cx="475.2" cy="207.2" r="1.1"/><circle cx="465.8" cy="180.5" r="1.1"/><circle cx="445.2" cy="91.6" r="1.1"/><circle cx="452.0" cy="127.8" r="1.1"/><circle cx="482.3" cy="216.8" r="1.1"/><circle cx="484.2" cy="205.9" r="1.1"/><circle cx="506.2" cy="185.1" r="1.1"/><circle cx="513.1" cy="146.8" r="1.1"/><circle cx="534.0" cy="55.3" r="1.1"/><circle cx="468.4" cy="178.6" r="1.1"/><circle cx="530.0" cy="58.0" r="1.1"/><circle cx="531.9" cy="67.9" r="1.1"/><circle cx="452.5" cy="116.3" r="1.1"/><circle cx="473.4" cy="201.8" r="1.1"/><circle cx="470.1" cy="188.7" r="1.1"/><circle cx="495.7" cy="202.8" r="1.1"/><circle cx="461.6" cy="156.1" r="1.1"/><circle cx="475.9" cy="203.0" r="1.1"/><circle cx="434.9" cy="60.1" r="1.1"/><circle cx="442.0" cy="99.0" r="1.1"/><circle cx="449.2" cy="112.2" r="1.1"/><circle cx="516.4" cy="133.7" r="1.1"/><circle cx="513.7" cy="156.4" r="1.1"/><circle cx="461.1" cy="151.3" r="1.1"/><circle cx="522.4" cy="97.8" r="1.1"/><circle cx="446.9" cy="108.9" r="1.1"/><circle cx="511.8" cy="156.8" r="1.1"/><circle cx="437.5" cy="70.7" r="1.1"/><circle cx="455.9" cy="146.5" r="1.1"/><circle cx="530.9" cy="62.5" r="1.1"/><circle cx="439.6" cy="81.3" r="1.1"/><circle cx="478.6" cy="210.8" r="1.1"/><circle cx="505.2" cy="181.4" r="1.1"/><circle cx="533.3" cy="38.4" r="1.1"/><circle cx="524.0" cy="85.0" r="1.1"/><circle cx="514.5" cy="139.0" r="1.1"/><circle cx="443.2" cy="77.6" r="1.1"/><circle cx="507.0" cy="173.7" r="1.1"/><circle cx="438.4" cy="80.6" r="1.1"/><circle cx="445.4" cy="125.2" r="1.1"/><circle cx="477.4" cy="203.7" r="1.1"/><circle cx="477.0" cy="202.5" r="1.1"/><circle cx="487.0" cy="228.9" r="1.1"/><circle cx="475.1" cy="196.1" r="1.1"/><circle cx="486.6" cy="217.1" r="1.1"/><circle cx="482.0" cy="221.8" r="1.1"/><circle cx="510.6" cy="162.0" r="1.1"/><circle cx="481.6" cy="193.4" r="1.1"/><circle cx="497.5" cy="201.9" r="1.1"/><circle cx="512.0" cy="150.2" r="1.1"/><circle cx="484.9" cy="213.2" r="1.1"/><circle cx="439.3" cy="76.5" r="1.1"/><circle cx="497.9" cy="204.4" r="1.1"/><circle cx="483.1" cy="209.0" r="1.1"/><circle cx="437.0" cy="73.7" r="1.1"/><circle cx="525.3" cy="83.6" r="1.1"/><circle cx="511.3" cy="157.4" r="1.1"/><circle cx="462.2" cy="166.8" r="1.1"/><circle cx="500.6" cy="190.4" r="1.1"/><circle cx="512.7" cy="148.6" r="1.1"/><circle cx="447.8" cy="89.9" r="1.1"/><circle cx="471.7" cy="190.0" r="1.1"/><circle cx="507.8" cy="162.6" r="1.1"/><circle cx="479.0" cy="199.2" r="1.1"/><circle cx="481.0" cy="218.6" r="1.1"/><circle cx="510.0" cy="161.0" r="1.1"/><circle cx="436.7" cy="70.9" r="1.1"/><circle cx="486.1" cy="214.9" r="1.1"/><circle cx="520.2" cy="116.7" r="1.1"/><circle cx="444.5" cy="87.8" r="1.1"/><circle cx="518.8" cy="120.0" r="1.1"/><circle cx="456.4" cy="141.4" r="1.1"/><circle cx="496.7" cy="212.1" r="1.1"/><circle cx="492.7" cy="208.7" r="1.1"/><circle cx="487.9" cy="224.1" r="1.1"/><circle cx="504.7" cy="163.5" r="1.1"/><circle cx="489.7" cy="208.3" r="1.1"/><circle cx="494.0" cy="219.8" r="1.1"/><circle cx="526.5" cy="77.9" r="1.1"/><circle cx="459.2" cy="153.6" r="1.1"/><circle cx="528.3" cy="69.2" r="1.1"/><circle cx="434.5" cy="53.4" r="1.1"/><circle cx="467.2" cy="181.0" r="1.1"/><circle cx="526.3" cy="70.0" r="1.1"/><circle cx="513.6" cy="145.8" r="1.1"/><circle cx="500.2" cy="186.1" r="1.1"/><circle cx="508.6" cy="172.3" r="1.1"/><circle cx="505.1" cy="183.1" r="1.1"/><circle cx="501.5" cy="179.8" r="1.1"/><circle cx="489.5" cy="228.8" r="1.1"/><circle cx="483.4" cy="209.1" r="1.1"/><circle cx="462.5" cy="148.7" r="1.1"/><circle cx="493.2" cy="196.2" r="1.1"/><circle cx="469.4" cy="198.0" r="1.1"/><circle cx="532.6" cy="61.9" r="1.1"/><circle cx="455.5" cy="114.3" r="1.1"/><circle cx="476.2" cy="196.6" r="1.1"/><circle cx="435.6" cy="58.9" r="1.1"/><circle cx="498.5" cy="205.1" r="1.1"/><circle cx="523.1" cy="93.7" r="1.1"/><circle cx="524.5" cy="102.4" r="1.1"/><circle cx="490.1" cy="214.9" r="1.1"/><circle cx="448.2" cy="94.3" r="1.1"/><circle cx="467.7" cy="183.4" r="1.1"/><circle cx="490.6" cy="213.5" r="1.1"/><circle cx="446.6" cy="87.3" r="1.1"/><circle cx="518.5" cy="136.5" r="1.1"/><circle cx="523.8" cy="86.1" r="1.1"/><circle cx="509.3" cy="172.3" r="1.1"/><circle cx="502.1" cy="184.2" r="1.1"/><circle cx="460.2" cy="139.9" r="1.1"/><circle cx="473.4" cy="195.4" r="1.1"/><circle cx="531.3" cy="55.3" r="1.1"/><circle cx="515.0" cy="151.5" r="1.1"/><circle cx="467.0" cy="184.9" r="1.1"/><circle cx="504.1" cy="180.4" r="1.1"/><circle cx="509.7" cy="168.7" r="1.1"/><circle cx="514.2" cy="148.6" r="1.1"/><circle cx="502.9" cy="179.2" r="1.1"/><circle cx="525.0" cy="94.1" r="1.1"/><circle cx="501.3" cy="184.9" r="1.1"/><circle cx="462.9" cy="175.2" r="1.1"/><circle cx="454.1" cy="117.7" r="1.1"/><circle cx="434.2" cy="61.0" r="1.1"/><circle cx="458.7" cy="153.5" r="1.1"/><circle cx="503.2" cy="175.2" r="1.1"/><circle cx="492.4" cy="210.9" r="1.1"/><circle cx="517.4" cy="125.2" r="1.1"/><circle cx="535.8" cy="62.5" r="1.1"/><circle cx="453.3" cy="118.2" r="1.1"/><circle cx="506.8" cy="175.8" r="1.1"/><circle cx="491.3" cy="227.9" r="1.1"/><circle cx="480.5" cy="209.9" r="1.1"/><circle cx="464.0" cy="164.3" r="1.1"/><circle cx="507.7" cy="172.4" r="1.1"/><circle cx="442.5" cy="95.6" r="1.1"/><circle cx="520.0" cy="109.1" r="1.1"/><circle cx="534.0" cy="64.3" r="1.1"/><circle cx="476.4" cy="206.8" r="1.1"/><circle cx="454.6" cy="134.6" r="1.1"/><circle cx="477.6" cy="204.3" r="1.1"/><circle cx="457.5" cy="134.6" r="1.1"/><circle cx="435.9" cy="62.2" r="1.1"/><circle cx="527.5" cy="74.3" r="1.1"/><circle cx="444.1" cy="104.8" r="1.1"/><circle cx="451.4" cy="125.8" r="1.1"/><circle cx="444.6" cy="82.8" r="1.1"/><circle cx="463.5" cy="166.5" r="1.1"/><circle cx="505.6" cy="178.7" r="1.1"/><circle cx="485.3" cy="202.4" r="1.1"/><circle cx="457.8" cy="139.4" r="1.1"/><circle cx="499.6" cy="184.2" r="1.1"/><circle cx="527.0" cy="81.4" r="1.1"/><circle cx="443.2" cy="78.6" r="1.1"/><circle cx="460.7" cy="171.3" r="1.1"/><circle cx="462.9" cy="165.8" r="1.1"/><circle cx="525.9" cy="69.2" r="1.1"/><circle cx="511.9" cy="149.2" r="1.1"/><circle cx="512.3" cy="143.8" r="1.1"/><circle cx="482.9" cy="213.6" r="1.1"/><circle cx="494.4" cy="220.8" r="1.1"/><circle cx="493.7" cy="208.8" r="1.1"/><circle cx="440.2" cy="70.5" r="1.1"/><circle cx="495.4" cy="200.1" r="1.1"/><circle cx="515.4" cy="141.7" r="1.1"/><circle cx="449.6" cy="121.2" r="1.1"/><circle cx="471.7" cy="172.6" r="1.1"/><circle cx="447.5" cy="113.8" r="1.1"/><circle cx="442.6" cy="84.4" r="1.1"/><circle cx="480.0" cy="192.2" r="1.1"/><circle cx="511.5" cy="146.1" r="1.1"/><circle cx="445.1" cy="74.7" r="1.1"/><circle cx="505.6" cy="180.9" r="1.1"/><circle cx="492.0" cy="211.2" r="1.1"/><circle cx="505.5" cy="173.6" r="1.1"/><circle cx="474.6" cy="199.5" r="1.1"/><circle cx="459.0" cy="147.6" r="1.1"/><circle cx="508.8" cy="166.8" r="1.1"/><circle cx="529.6" cy="61.4" r="1.1"/><circle cx="535.5" cy="67.2" r="1.1"/><circle cx="469.2" cy="178.9" r="1.1"/><circle cx="524.6" cy="99.2" r="1.1"/><circle cx="455.4" cy="123.9" r="1.1"/><circle cx="493.7" cy="205.6" r="1.1"/><circle cx="463.8" cy="171.3" r="1.1"/><circle cx="474.9" cy="197.6" r="1.1"/><circle cx="452.7" cy="102.2" r="1.1"/><circle cx="508.5" cy="166.7" r="1.1"/><circle cx="449.3" cy="99.8" r="1.1"/><circle cx="479.1" cy="198.2" r="1.1"/><circle cx="448.1" cy="106.3" r="1.1"/><circle cx="513.7" cy="140.6" r="1.1"/><circle cx="484.3" cy="216.1" r="1.1"/><circle cx="451.9" cy="118.2" r="1.1"/><circle cx="520.3" cy="115.5" r="1.1"/><circle cx="438.1" cy="58.2" r="1.1"/><circle cx="496.4" cy="194.8" r="1.1"/><circle cx="462.3" cy="162.2" r="1.1"/><circle cx="510.9" cy="149.1" r="1.1"/><circle cx="526.5" cy="76.5" r="1.1"/><circle cx="510.6" cy="160.0" r="1.1"/><circle cx="473.9" cy="202.3" r="1.1"/><circle cx="482.1" cy="210.5" r="1.1"/><circle cx="502.6" cy="182.6" r="1.1"/><circle cx="489.6" cy="217.5" r="1.1"/><circle cx="460.3" cy="161.0" r="1.1"/><circle cx="435.6" cy="67.8" r="1.1"/><circle cx="453.7" cy="134.1" r="1.1"/><circle cx="493.1" cy="218.8" r="1.1"/><circle cx="450.5" cy="126.6" r="1.1"/><circle cx="531.1" cy="50.9" r="1.1"/><circle cx="476.7" cy="193.9" r="1.1"/><circle cx="498.6" cy="198.2" r="1.1"/><circle cx="483.9" cy="194.0" r="1.1"/><circle cx="532.5" cy="53.1" r="1.1"/><circle cx="447.2" cy="108.7" r="1.1"/><circle cx="536.1" cy="54.1" r="1.1"/><circle cx="488.7" cy="206.3" r="1.1"/><circle cx="439.1" cy="82.3" r="1.1"/><circle cx="492.3" cy="224.7" r="1.1"/><circle cx="435.7" cy="63.9" r="1.1"/><circle cx="506.8" cy="179.8" r="1.1"/><circle cx="462.2" cy="167.4" r="1.1"/><circle cx="450.2" cy="104.1" r="1.1"/><circle cx="514.7" cy="158.0" r="1.1"/><circle cx="446.9" cy="103.6" r="1.1"/><circle cx="529.8" cy="59.3" r="1.1"/><circle cx="442.0" cy="73.7" r="1.1"/><circle cx="485.8" cy="213.9" r="1.1"/><circle cx="478.5" cy="190.7" r="1.1"/><circle cx="496.8" cy="203.0" r="1.1"/><circle cx="518.0" cy="131.1" r="1.1"/><circle cx="525.3" cy="83.2" r="1.1"/><circle cx="500.3" cy="185.6" r="1.1"/><circle cx="494.6" cy="220.0" r="1.1"/><circle cx="454.6" cy="125.4" r="1.1"/><circle cx="464.4" cy="178.3" r="1.1"/><circle cx="456.7" cy="140.0" r="1.1"/><circle cx="470.7" cy="188.2" r="1.1"/><circle cx="453.1" cy="121.7" r="1.1"/><circle cx="446.2" cy="99.9" r="1.1"/><circle cx="486.3" cy="212.6" r="1.1"/><circle cx="465.4" cy="173.4" r="1.1"/><circle cx="504.6" cy="172.8" r="1.1"/><circle cx="443.5" cy="93.9" r="1.1"/><circle cx="516.8" cy="131.4" r="1.1"/><circle cx="467.6" cy="175.0" r="1.1"/><circle cx="434.7" cy="56.4" r="1.1"/><circle cx="473.7" cy="185.0" r="1.1"/><circle cx="468.5" cy="184.5" r="1.1"/><circle cx="467.0" cy="179.8" r="1.1"/><circle cx="501.0" cy="185.6" r="1.1"/><circle cx="503.9" cy="173.1" r="1.1"/><circle cx="455.7" cy="140.6" r="1.1"/><circle cx="488.0" cy="204.2" r="1.1"/><circle cx="473.0" cy="171.2" r="1.1"/><circle cx="487.2" cy="213.3" r="1.1"/><circle cx="433.4" cy="47.8" r="1.1"/><circle cx="528.8" cy="59.3" r="1.1"/><circle cx="495.4" cy="195.9" r="1.1"/><circle cx="506.2" cy="176.6" r="1.1"/><circle cx="472.7" cy="181.5" r="1.1"/><circle cx="507.8" cy="169.4" r="1.1"/><circle cx="451.0" cy="110.3" r="1.1"/><circle cx="518.9" cy="110.3" r="1.1"/><circle cx="534.4" cy="46.2" r="1.1"/><circle cx="464.7" cy="164.7" r="1.1"/><circle cx="441.9" cy="87.7" r="1.1"/><circle cx="466.0" cy="182.3" r="1.1"/><circle cx="458.1" cy="151.7" r="1.1"/><circle cx="488.3" cy="216.4" r="1.1"/><circle cx="499.0" cy="194.2" r="1.1"/><circle cx="451.3" cy="124.1" r="1.1"/><circle cx="533.6" cy="56.5" r="1.1"/><circle cx="533.5" cy="54.3" r="1.1"/><circle cx="504.2" cy="170.5" r="1.1"/><circle cx="458.6" cy="144.1" r="1.1"/><circle cx="444.6" cy="63.9" r="1.1"/><circle cx="440.7" cy="74.5" r="1.1"/><circle cx="523.2" cy="96.1" r="1.1"/><circle cx="497.7" cy="199.7" r="1.1"/><circle cx="482.6" cy="202.2" r="1.1"/><circle cx="517.7" cy="124.2" r="1.1"/><circle cx="509.4" cy="159.8" r="1.1"/><circle cx="492.5" cy="204.8" r="1.1"/><circle cx="438.5" cy="66.6" r="1.1"/><circle cx="480.8" cy="205.3" r="1.1"/><circle cx="439.6" cy="73.3" r="1.1"/><circle cx="498.2" cy="199.9" r="1.1"/><circle cx="522.1" cy="87.5" r="1.1"/><circle cx="524.7" cy="98.1" r="1.1"/><circle cx="437.4" cy="58.8" r="1.1"/><circle cx="530.5" cy="63.3" r="1.1"/><circle cx="527.9" cy="68.4" r="1.1"/><circle cx="461.2" cy="145.1" r="1.1"/><circle cx="476.0" cy="194.6" r="1.1"/><circle cx="456.3" cy="132.2" r="1.1"/><circle cx="471.0" cy="178.4" r="1.1"/><circle cx="438.8" cy="71.1" r="1.1"/><circle cx="521.2" cy="106.9" r="1.1"/><circle cx="528.3" cy="76.8" r="1.1"/><circle cx="463.4" cy="166.2" r="1.1"/><circle cx="509.7" cy="162.5" r="1.1"/><circle cx="521.3" cy="96.0" r="1.1"/><circle cx="457.0" cy="118.7" r="1.1"/><circle cx="481.8" cy="202.2" r="1.1"/><circle cx="460.1" cy="138.6" r="1.1"/><circle cx="461.9" cy="158.4" r="1.1"/><circle cx="480.3" cy="191.5" r="1.1"/><circle cx="432.5" cy="63.7" r="1.1"/><circle cx="485.3" cy="207.1" r="1.1"/><circle cx="517.1" cy="122.1" r="1.1"/><circle cx="470.0" cy="201.0" r="1.1"/><circle cx="515.0" cy="139.5" r="1.1"/><circle cx="434.9" cy="58.2" r="1.1"/><circle cx="445.6" cy="89.2" r="1.1"/><circle cx="446.4" cy="92.6" r="1.1"/><circle cx="529.2" cy="67.8" r="1.1"/><circle cx="477.5" cy="186.3" r="1.1"/><circle cx="436.3" cy="57.1" r="1.1"/><circle cx="527.5" cy="69.6" r="1.1"/><circle cx="491.4" cy="207.8" r="1.1"/><circle cx="441.3" cy="83.7" r="1.1"/><circle cx="487.6" cy="201.6" r="1.1"/><circle cx="441.0" cy="77.8" r="1.1"/><circle cx="501.7" cy="183.6" r="1.1"/><circle cx="444.5" cy="85.7" r="1.1"/><circle cx="489.1" cy="221.8" r="1.1"/><circle cx="475.8" cy="196.1" r="1.1"/><circle cx="495.9" cy="220.5" r="1.1"/><circle cx="434.2" cy="57.0" r="1.1"/><circle cx="502.1" cy="181.8" r="1.1"/><circle cx="472.4" cy="196.7" r="1.1"/><circle cx="457.7" cy="147.9" r="1.1"/><circle cx="454.0" cy="122.9" r="1.1"/><circle cx="522.6" cy="87.6" r="1.1"/><circle cx="490.2" cy="209.1" r="1.1"/><circle cx="449.1" cy="114.2" r="1.1"/><circle cx="516.5" cy="131.3" r="1.1"/><circle cx="468.0" cy="172.8" r="1.1"/><circle cx="469.8" cy="187.8" r="1.1"/><circle cx="437.0" cy="55.6" r="1.1"/><circle cx="467.0" cy="189.0" r="1.1"/><circle cx="459.8" cy="165.1" r="1.1"/><circle cx="479.3" cy="209.9" r="1.1"/><circle cx="520.7" cy="108.4" r="1.1"/><circle cx="527.1" cy="65.9" r="1.1"/><circle cx="504.8" cy="184.1" r="1.1"/><circle cx="502.2" cy="181.4" r="1.1"/><circle cx="521.7" cy="102.6" r="1.1"/><circle cx="485.1" cy="207.0" r="1.1"/><circle cx="476.8" cy="207.5" r="1.1"/><circle cx="484.6" cy="206.0" r="1.1"/><circle cx="523.7" cy="89.6" r="1.1"/><circle cx="464.9" cy="157.8" r="1.1"/><circle cx="499.5" cy="185.3" r="1.1"/><circle cx="466.3" cy="183.1" r="1.1"/><circle cx="514.2" cy="138.7" r="1.1"/><circle cx="532.1" cy="52.4" r="1.1"/><circle cx="534.6" cy="60.6" r="1.1"/><circle cx="497.5" cy="198.3" r="1.1"/><circle cx="448.6" cy="100.6" r="1.1"/><circle cx="483.3" cy="192.7" r="1.1"/><circle cx="526.0" cy="77.5" r="1.1"/><circle cx="478.2" cy="205.4" r="1.1"/><circle cx="518.7" cy="106.2" r="1.1"/><circle cx="503.4" cy="168.4" r="1.1"/><circle cx="512.8" cy="153.7" r="1.1"/><circle cx="519.3" cy="103.6" r="1.1"/><circle cx="452.4" cy="116.7" r="1.1"/><circle cx="499.8" cy="194.6" r="1.1"/><circle cx="468.8" cy="177.3" r="1.1"/><circle cx="481.1" cy="210.5" r="1.1"/><circle cx="432.9" cy="53.2" r="1.1"/><circle cx="477.9" cy="202.1" r="1.1"/><circle cx="455.0" cy="132.1" r="1.1"/><circle cx="524.1" cy="91.4" r="1.1"/><circle cx="490.6" cy="197.1" r="1.1"/><circle cx="513.2" cy="150.7" r="1.1"/><circle cx="475.2" cy="199.0" r="1.1"/><circle cx="507.4" cy="162.2" r="1.1"/><circle cx="436.6" cy="72.8" r="1.1"/><circle cx="433.7" cy="48.4" r="1.1"/><circle cx="512.5" cy="161.2" r="1.1"/><circle cx="510.0" cy="155.7" r="1.1"/><circle cx="519.6" cy="115.9" r="1.1"/><circle cx="491.1" cy="213.7" r="1.1"/><circle cx="531.0" cy="50.3" r="1.1"/><circle cx="444.0" cy="89.5" r="1.1"/><circle cx="500.6" cy="187.1" r="1.1"/><circle cx="507.0" cy="174.1" r="1.1"/><circle cx="535.2" cy="62.8" r="1.1"/><circle cx="531.7" cy="50.1" r="1.1"/><circle cx="471.5" cy="189.4" r="1.1"/><circle cx="457.6" cy="129.3" r="1.1"/><circle cx="516.2" cy="133.8" r="1.1"/><circle cx="533.0" cy="51.1" r="1.1"/><circle cx="486.6" cy="206.2" r="1.1"/><circle cx="532.0" cy="59.2" r="1.1"/><circle cx="480.0" cy="207.9" r="1.1"/><circle cx="436.5" cy="61.5" r="1.1"/><circle cx="474.7" cy="187.3" r="1.1"/><circle cx="517.6" cy="128.6" r="1.1"/><circle cx="489.3" cy="219.2" r="1.1"/><circle cx="484.4" cy="225.6" r="1.1"/><circle cx="436.3" cy="72.3" r="1.1"/><circle cx="496.4" cy="203.4" r="1.1"/><circle cx="492.6" cy="209.7" r="1.1"/><circle cx="451.3" cy="117.9" r="1.1"/><circle cx="483.0" cy="201.5" r="1.1"/><circle cx="466.3" cy="179.5" r="1.1"/><circle cx="474.3" cy="191.2" r="1.1"/><circle cx="437.3" cy="63.2" r="1.1"/><circle cx="516.3" cy="133.2" r="1.1"/><circle cx="458.8" cy="143.3" r="1.1"/><circle cx="454.5" cy="107.4" r="1.1"/><circle cx="506.9" cy="168.9" r="1.1"/><circle cx="440.5" cy="76.2" r="1.1"/><circle cx="533.2" cy="60.1" r="1.1"/><circle cx="448.6" cy="101.7" r="1.1"/><circle cx="521.0" cy="117.1" r="1.1"/><circle cx="497.5" cy="200.7" r="1.1"/><circle cx="518.1" cy="127.1" r="1.1"/><circle cx="517.0" cy="135.7" r="1.1"/><circle cx="462.3" cy="147.9" r="1.1"/><circle cx="504.8" cy="172.2" r="1.1"/><circle cx="465.0" cy="183.5" r="1.1"/><circle cx="462.5" cy="160.0" r="1.1"/><circle cx="485.0" cy="215.1" r="1.1"/><circle cx="529.4" cy="70.8" r="1.1"/><circle cx="493.2" cy="208.4" r="1.1"/><circle cx="454.9" cy="129.0" r="1.1"/><circle cx="507.1" cy="173.5" r="1.1"/><circle cx="435.0" cy="65.0" r="1.1"/><circle cx="491.4" cy="223.0" r="1.1"/><circle cx="445.8" cy="97.9" r="1.1"/><circle cx="435.4" cy="64.0" r="1.1"/><circle cx="459.7" cy="158.9" r="1.1"/><circle cx="527.1" cy="78.8" r="1.1"/><circle cx="460.5" cy="149.9" r="1.1"/><circle cx="494.5" cy="216.1" r="1.1"/><circle cx="527.9" cy="65.4" r="1.1"/><circle cx="496.6" cy="204.3" r="1.1"/><circle cx="501.2" cy="184.3" r="1.1"/><circle cx="433.6" cy="55.0" r="1.1"/><circle cx="513.4" cy="143.9" r="1.1"/><circle cx="480.3" cy="209.6" r="1.1"/><circle cx="501.4" cy="190.9" r="1.1"/><circle cx="478.1" cy="193.8" r="1.1"/><circle cx="450.7" cy="112.1" r="1.1"/><circle cx="433.2" cy="64.8" r="1.1"/><circle cx="519.1" cy="117.1" r="1.1"/><circle cx="465.5" cy="171.2" r="1.1"/><circle cx="442.2" cy="104.0" r="1.1"/><circle cx="500.4" cy="180.0" r="1.1"/><circle cx="449.7" cy="108.1" r="1.1"/><circle cx="469.0" cy="194.2" r="1.1"/><circle cx="530.7" cy="54.3" r="1.1"/><circle cx="486.2" cy="218.1" r="1.1"/><circle cx="503.7" cy="183.0" r="1.1"/><circle cx="483.5" cy="215.1" r="1.1"/><circle cx="488.6" cy="211.8" r="1.1"/><circle cx="515.7" cy="139.6" r="1.1"/><circle cx="509.0" cy="157.9" r="1.1"/><circle cx="443.7" cy="87.3" r="1.1"/><circle cx="463.0" cy="168.6" r="1.1"/><circle cx="502.7" cy="178.4" r="1.1"/><circle cx="438.0" cy="66.8" r="1.1"/><circle cx="471.8" cy="189.4" r="1.1"/><circle cx="534.0" cy="59.4" r="1.1"/><circle cx="434.5" cy="61.8" r="1.1"/><circle cx="481.9" cy="211.7" r="1.1"/><circle cx="531.0" cy="64.1" r="1.1"/><circle cx="476.1" cy="194.6" r="1.1"/><circle cx="437.5" cy="55.7" r="1.1"/><circle cx="473.6" cy="196.6" r="1.1"/><circle cx="476.9" cy="216.7" r="1.1"/><circle cx="487.6" cy="206.4" r="1.1"/><circle cx="467.9" cy="182.0" r="1.1"/><circle cx="512.5" cy="155.0" r="1.1"/><circle cx="513.9" cy="154.8" r="1.1"/><circle cx="439.4" cy="73.4" r="1.1"/><circle cx="498.4" cy="207.9" r="1.1"/><circle cx="442.8" cy="85.1" r="1.1"/><circle cx="534.3" cy="61.4" r="1.1"/><circle cx="506.5" cy="177.4" r="1.1"/><circle cx="524.5" cy="90.3" r="1.1"/><circle cx="452.3" cy="128.6" r="1.1"/><circle cx="471.3" cy="194.4" r="1.1"/><circle cx="438.9" cy="71.8" r="1.1"/><circle cx="499.5" cy="190.8" r="1.1"/><circle cx="464.8" cy="173.1" r="1.1"/><circle cx="452.8" cy="99.9" r="1.1"/><circle cx="444.1" cy="88.7" r="1.1"/><circle cx="503.9" cy="163.0" r="1.1"/><circle cx="510.2" cy="155.5" r="1.1"/><circle cx="534.7" cy="63.3" r="1.1"/><circle cx="495.7" cy="204.1" r="1.1"/><circle cx="456.0" cy="148.6" r="1.1"/><circle cx="460.9" cy="156.2" r="1.1"/><circle cx="458.3" cy="166.9" r="1.1"/><circle cx="456.4" cy="144.0" r="1.1"/><circle cx="444.7" cy="89.0" r="1.1"/><circle cx="458.1" cy="153.3" r="1.1"/><circle cx="477.6" cy="209.2" r="1.1"/><circle cx="521.7" cy="109.8" r="1.1"/><circle cx="457.0" cy="139.4" r="1.1"/><circle cx="481.0" cy="197.8" r="1.1"/><circle cx="521.2" cy="101.3" r="1.1"/><circle cx="525.8" cy="88.4" r="1.1"/><circle cx="491.6" cy="221.5" r="1.1"/><circle cx="475.2" cy="196.6" r="1.1"/><circle cx="511.7" cy="159.9" r="1.1"/><circle cx="501.9" cy="186.2" r="1.1"/><circle cx="472.8" cy="200.2" r="1.1"/><circle cx="520.2" cy="99.5" r="1.1"/><circle cx="508.2" cy="165.2" r="1.1"/><circle cx="467.4" cy="184.8" r="1.1"/><circle cx="495.4" cy="207.7" r="1.1"/><circle cx="505.3" cy="179.5" r="1.1"/><circle cx="507.7" cy="183.5" r="1.1"/><circle cx="526.5" cy="84.5" r="1.1"/><circle cx="477.4" cy="205.8" r="1.1"/><circle cx="532.5" cy="55.6" r="1.1"/><circle cx="522.1" cy="92.5" r="1.1"/><circle cx="516.4" cy="133.7" r="1.1"/><circle cx="448.3" cy="91.1" r="1.1"/><circle cx="449.1" cy="94.5" r="1.1"/><circle cx="525.0" cy="97.7" r="1.1"/><circle cx="525.5" cy="79.8" r="1.1"/><circle cx="499.1" cy="204.6" r="1.1"/><circle cx="468.4" cy="188.4" r="1.1"/><circle cx="490.6" cy="218.3" r="1.1"/><circle cx="512.8" cy="155.8" r="1.1"/><circle cx="440.8" cy="72.8" r="1.1"/><circle cx="478.6" cy="196.5" r="1.1"/><circle cx="531.9" cy="66.6" r="1.1"/><circle cx="460.2" cy="137.3" r="1.1"/><circle cx="450.1" cy="112.7" r="1.1"/><circle cx="514.6" cy="161.1" r="1.1"/><circle cx="453.8" cy="133.8" r="1.1"/><circle cx="446.6" cy="112.0" r="1.1"/><circle cx="470.6" cy="187.1" r="1.1"/><circle cx="461.5" cy="161.3" r="1.1"/><circle cx="469.4" cy="186.4" r="1.1"/><circle cx="441.3" cy="82.1" r="1.1"/><circle cx="453.5" cy="125.9" r="1.1"/><circle cx="518.6" cy="119.1" r="1.1"/><circle cx="441.9" cy="90.7" r="1.1"/><circle cx="528.4" cy="67.9" r="1.1"/><circle cx="434.1" cy="60.3" r="1.1"/><circle cx="484.2" cy="219.6" r="1.1"/><circle cx="527.6" cy="65.9" r="1.1"/><circle cx="529.9" cy="59.5" r="1.1"/><circle cx="444.7" cy="91.8" r="1.1"/><circle cx="494.8" cy="211.1" r="1.1"/><circle cx="482.4" cy="209.6" r="1.1"/><circle cx="489.9" cy="218.8" r="1.1"/><circle cx="457.5" cy="139.8" r="1.1"/><circle cx="486.9" cy="230.9" r="1.1"/><circle cx="451.7" cy="105.5" r="1.1"/><circle cx="439.9" cy="63.1" r="1.1"/><circle cx="523.3" cy="95.4" r="1.1"/><circle cx="503.0" cy="183.2" r="1.1"/><circle cx="497.9" cy="202.0" r="1.1"/><circle cx="510.7" cy="152.1" r="1.1"/><circle cx="505.5" cy="184.1" r="1.1"/><circle cx="432.3" cy="60.9" r="1.1"/><circle cx="522.9" cy="90.1" r="1.1"/><circle cx="466.7" cy="165.2" r="1.1"/><circle cx="523.7" cy="98.6" r="1.1"/><circle cx="447.2" cy="103.8" r="1.1"/><circle cx="485.5" cy="225.1" r="1.1"/><circle cx="529.3" cy="64.0" r="1.1"/><circle cx="509.2" cy="159.4" r="1.1"/><circle cx="470.0" cy="187.0" r="1.1"/><circle cx="499.9" cy="185.5" r="1.1"/><circle cx="535.8" cy="62.6" r="1.1"/><circle cx="447.5" cy="109.7" r="1.1"/><circle cx="490.2" cy="216.5" r="1.1"/><circle cx="481.4" cy="207.9" r="1.1"/><circle cx="455.6" cy="141.7" r="1.1"/><circle cx="535.4" cy="55.8" r="1.1"/><circle cx="475.5" cy="194.5" r="1.1"/><circle cx="492.4" cy="216.2" r="1.1"/><circle cx="472.3" cy="185.9" r="1.1"/><circle cx="510.0" cy="163.3" r="1.1"/><circle cx="471.0" cy="185.8" r="1.1"/><circle cx="464.1" cy="153.0" r="1.1"/><circle cx="486.6" cy="216.2" r="1.1"/><circle cx="463.5" cy="176.3" r="1.1"/><circle cx="487.8" cy="219.9" r="1.1"/><circle cx="445.4" cy="90.9" r="1.1"/><circle cx="512.0" cy="159.9" r="1.1"/><circle cx="493.8" cy="209.8" r="1.1"/><circle cx="515.0" cy="138.0" r="1.1"/><circle cx="519.8" cy="120.9" r="1.1"/><circle cx="479.5" cy="218.0" r="1.1"/><circle cx="509.8" cy="168.2" r="1.1"/><circle cx="457.3" cy="145.7" r="1.1"/><circle cx="448.7" cy="117.7" r="1.1"/><circle cx="441.6" cy="90.1" r="1.1"/><circle cx="525.4" cy="73.1" r="1.1"/><circle cx="507.9" cy="182.2" r="1.1"/><circle cx="506.2" cy="175.4" r="1.1"/><circle cx="503.5" cy="182.9" r="1.1"/><circle cx="524.9" cy="83.0" r="1.1"/><circle cx="467.6" cy="191.0" r="1.1"/><circle cx="453.4" cy="109.1" r="1.1"/><circle cx="472.1" cy="196.7" r="1.1"/><circle cx="510.7" cy="174.3" r="1.1"/><circle cx="443.4" cy="109.9" r="1.1"/><circle cx="450.3" cy="126.3" r="1.1"/><circle cx="439.7" cy="79.2" r="1.1"/><circle cx="472.8" cy="188.0" r="1.1"/><circle cx="490.3" cy="230.4" r="1.1"/><circle cx="491.4" cy="229.3" r="1.1"/><circle cx="524.4" cy="101.9" r="1.1"/><circle cx="471.2" cy="198.9" r="1.1"/><circle cx="461.6" cy="156.1" r="1.1"/><circle cx="523.5" cy="99.1" r="1.1"/><circle cx="529.4" cy="76.3" r="1.1"/><circle cx="515.1" cy="151.1" r="1.1"/><circle cx="469.4" cy="187.4" r="1.1"/><circle cx="477.0" cy="214.0" r="1.1"/><circle cx="452.1" cy="123.4" r="1.1"/><circle cx="504.3" cy="189.4" r="1.1"/><circle cx="531.2" cy="65.1" r="1.1"/><circle cx="496.4" cy="220.3" r="1.1"/><circle cx="477.2" cy="210.4" r="1.1"/><circle cx="515.7" cy="146.6" r="1.1"/><circle cx="480.5" cy="204.1" r="1.1"/><circle cx="513.3" cy="157.2" r="1.1"/><circle cx="451.3" cy="123.4" r="1.1"/><circle cx="514.5" cy="140.5" r="1.1"/><circle cx="535.3" cy="67.1" r="1.1"/><circle cx="432.8" cy="57.2" r="1.1"/><circle cx="508.8" cy="176.5" r="1.1"/><circle cx="454.6" cy="152.1" r="1.1"/><circle cx="462.2" cy="161.4" r="1.1"/><circle cx="488.0" cy="228.5" r="1.1"/><circle cx="483.2" cy="220.5" r="1.1"/><circle cx="526.1" cy="93.5" r="1.1"/><circle cx="447.8" cy="103.8" r="1.1"/><circle cx="507.2" cy="180.2" r="1.1"/><circle cx="484.4" cy="220.6" r="1.1"/><circle cx="458.8" cy="146.6" r="1.1"/><circle cx="479.2" cy="213.4" r="1.1"/><circle cx="475.8" cy="214.5" r="1.1"/><circle cx="466.3" cy="182.4" r="1.1"/><circle cx="445.8" cy="88.6" r="1.1"/><circle cx="482.0" cy="227.8" r="1.1"/><circle cx="535.0" cy="65.3" r="1.1"/><circle cx="455.5" cy="147.8" r="1.1"/><circle cx="499.0" cy="203.4" r="1.1"/><circle cx="517.6" cy="141.6" r="1.1"/><circle cx="497.1" cy="202.8" r="1.1"/><circle cx="516.9" cy="141.7" r="1.1"/><circle cx="447.1" cy="117.0" r="1.1"/><circle cx="440.4" cy="79.3" r="1.1"/><circle cx="505.2" cy="186.9" r="1.1"/><circle cx="521.6" cy="110.6" r="1.1"/><circle cx="473.6" cy="190.7" r="1.1"/><circle cx="487.5" cy="223.7" r="1.1"/><circle cx="460.8" cy="172.7" r="1.1"/><circle cx="478.5" cy="206.1" r="1.1"/><circle cx="527.3" cy="64.3" r="1.1"/><circle cx="442.5" cy="94.1" r="1.1"/><circle cx="459.1" cy="143.0" r="1.1"/><circle cx="519.0" cy="128.9" r="1.1"/><circle cx="530.6" cy="69.9" r="1.1"/><circle cx="457.0" cy="147.9" r="1.1"/><circle cx="435.4" cy="68.0" r="1.1"/><circle cx="468.6" cy="194.3" r="1.1"/><circle cx="495.3" cy="212.1" r="1.1"/><circle cx="452.5" cy="127.5" r="1.1"/><circle cx="434.2" cy="69.3" r="1.1"/><circle cx="534.3" cy="59.2" r="1.1"/><circle cx="529.6" cy="86.2" r="1.1"/><circle cx="486.0" cy="211.4" r="1.1"/><circle cx="500.8" cy="192.2" r="1.1"/><circle cx="532.5" cy="59.7" r="1.1"/><circle cx="438.6" cy="74.0" r="1.1"/><circle cx="474.3" cy="211.0" r="1.1"/><circle cx="486.4" cy="205.4" r="1.1"/><circle cx="520.3" cy="121.1" r="1.1"/><circle cx="470.4" cy="177.9" r="1.1"/><circle cx="494.5" cy="217.8" r="1.1"/><circle cx="489.2" cy="238.7" r="1.1"/><circle cx="455.2" cy="124.5" r="1.1"/><circle cx="435.6" cy="63.8" r="1.1"/><circle cx="444.3" cy="101.7" r="1.1"/><circle cx="441.0" cy="89.7" r="1.1"/><circle cx="505.9" cy="177.2" r="1.1"/><circle cx="519.7" cy="131.0" r="1.1"/><circle cx="490.5" cy="214.3" r="1.1"/><circle cx="467.1" cy="187.3" r="1.1"/><circle cx="485.3" cy="230.9" r="1.1"/><circle cx="437.4" cy="67.2" r="1.1"/><circle cx="480.3" cy="215.5" r="1.1"/><circle cx="528.5" cy="75.0" r="1.1"/><circle cx="463.1" cy="184.5" r="1.1"/><circle cx="511.8" cy="157.0" r="1.1"/><circle cx="498.2" cy="206.3" r="1.1"/><circle cx="533.1" cy="60.0" r="1.1"/><circle cx="512.1" cy="154.7" r="1.1"/><circle cx="445.2" cy="100.5" r="1.1"/><circle cx="522.5" cy="94.2" r="1.1"/><circle cx="500.0" cy="182.6" r="1.1"/><circle cx="436.5" cy="56.2" r="1.1"/><circle cx="475.3" cy="200.9" r="1.1"/><circle cx="449.1" cy="120.2" r="1.1"/><circle cx="495.6" cy="221.6" r="1.1"/><circle cx="482.6" cy="214.3" r="1.1"/><circle cx="464.0" cy="170.7" r="1.1"/><circle cx="518.6" cy="131.8" r="1.1"/><circle cx="502.6" cy="192.9" r="1.1"/><circle cx="433.7" cy="67.0" r="1.1"/><circle cx="493.2" cy="218.9" r="1.1"/><circle cx="465.0" cy="193.4" r="1.1"/><circle cx="501.4" cy="189.2" r="1.1"/><circle cx="459.9" cy="153.6" r="1.1"/><circle cx="492.4" cy="208.0" r="1.1"/><circle cx="535.6" cy="63.4" r="1.1"/><circle cx="525.9" cy="79.8" r="1.1"/><circle cx="509.3" cy="174.6" r="1.1"/><circle cx="442.1" cy="85.4" r="1.1"/><circle cx="523.9" cy="99.6" r="1.1"/><circle cx="479.7" cy="214.8" r="1.1"/><circle cx="445.1" cy="99.4" r="1.1"/><circle cx="507.7" cy="160.1" r="1.1"/><circle cx="486.9" cy="233.0" r="1.1"/><circle cx="474.0" cy="186.0" r="1.1"/><circle cx="452.1" cy="115.1" r="1.1"/><circle cx="484.7" cy="224.9" r="1.1"/><circle cx="445.4" cy="107.2" r="1.1"/><circle cx="497.8" cy="202.6" r="1.1"/><circle cx="451.3" cy="110.5" r="1.1"/><circle cx="501.9" cy="186.1" r="1.1"/><circle cx="476.1" cy="204.8" r="1.1"/><circle cx="476.4" cy="206.3" r="1.1"/><circle cx="454.6" cy="126.8" r="1.1"/><circle cx="465.0" cy="171.3" r="1.1"/><circle cx="498.6" cy="205.0" r="1.1"/><circle cx="516.5" cy="137.1" r="1.1"/><circle cx="490.6" cy="216.0" r="1.1"/><circle cx="527.6" cy="90.0" r="1.1"/><circle cx="519.7" cy="111.8" r="1.1"/><circle cx="513.0" cy="164.2" r="1.1"/><circle cx="488.3" cy="222.3" r="1.1"/><circle cx="492.9" cy="231.4" r="1.1"/><circle cx="449.8" cy="112.6" r="1.1"/><circle cx="517.6" cy="136.6" r="1.1"/><circle cx="446.4" cy="99.8" r="1.1"/><circle cx="532.1" cy="66.1" r="1.1"/><circle cx="455.5" cy="144.7" r="1.1"/><circle cx="496.1" cy="207.0" r="1.1"/><circle cx="511.4" cy="160.6" r="1.1"/><circle cx="505.0" cy="179.1" r="1.1"/><circle cx="490.4" cy="227.3" r="1.1"/><circle cx="524.2" cy="93.1" r="1.1"/><circle cx="501.7" cy="179.7" r="1.1"/><circle cx="453.4" cy="129.8" r="1.1"/><circle cx="436.9" cy="68.4" r="1.1"/><circle cx="486.0" cy="213.9" r="1.1"/><circle cx="457.4" cy="158.6" r="1.1"/><circle cx="460.2" cy="163.1" r="1.1"/><circle cx="453.2" cy="135.0" r="1.1"/><circle cx="473.0" cy="192.2" r="1.1"/><circle cx="495.5" cy="210.9" r="1.1"/><circle cx="525.9" cy="95.0" r="1.1"/><circle cx="474.7" cy="187.9" r="1.1"/><circle cx="522.7" cy="99.4" r="1.1"/><circle cx="494.4" cy="217.7" r="1.1"/><circle cx="448.3" cy="109.0" r="1.1"/><circle cx="451.1" cy="110.9" r="1.1"/><circle cx="501.1" cy="184.4" r="1.1"/><circle cx="458.3" cy="144.3" r="1.1"/><circle cx="460.7" cy="173.4" r="1.1"/><circle cx="485.5" cy="210.0" r="1.1"/><circle cx="489.1" cy="232.2" r="1.1"/><circle cx="505.2" cy="176.7" r="1.1"/><circle cx="504.5" cy="168.6" r="1.1"/><circle cx="535.9" cy="68.8" r="1.1"/><circle cx="442.3" cy="84.6" r="1.1"/><circle cx="523.6" cy="72.3" r="1.1"/><circle cx="489.7" cy="221.4" r="1.1"/><circle cx="490.1" cy="228.6" r="1.1"/><circle cx="483.6" cy="220.5" r="1.1"/><circle cx="504.3" cy="195.9" r="1.1"/><circle cx="471.8" cy="193.2" r="1.1"/><circle cx="509.7" cy="173.3" r="1.1"/><circle cx="533.9" cy="57.5" r="1.1"/><circle cx="533.6" cy="65.3" r="1.1"/><circle cx="459.2" cy="159.6" r="1.1"/><circle cx="454.9" cy="132.7" r="1.1"/><circle cx="512.4" cy="157.9" r="1.1"/><circle cx="467.7" cy="172.5" r="1.1"/><circle cx="467.3" cy="187.3" r="1.1"/><circle cx="439.1" cy="68.3" r="1.1"/><circle cx="520.3" cy="118.0" r="1.1"/><circle cx="462.5" cy="165.3" r="1.1"/><circle cx="518.8" cy="127.6" r="1.1"/><circle cx="504.0" cy="177.7" r="1.1"/><circle cx="469.6" cy="203.1" r="1.1"/><circle cx="534.7" cy="57.9" r="1.1"/><circle cx="528.2" cy="78.5" r="1.1"/><circle cx="481.7" cy="234.8" r="1.1"/><circle cx="449.3" cy="113.4" r="1.1"/><circle cx="529.1" cy="64.5" r="1.1"/><circle cx="530.6" cy="69.6" r="1.1"/><circle cx="513.3" cy="159.0" r="1.1"/><circle cx="476.9" cy="209.9" r="1.1"/><circle cx="535.2" cy="51.7" r="1.1"/><circle cx="483.2" cy="219.5" r="1.1"/><circle cx="452.8" cy="112.1" r="1.1"/><circle cx="463.2" cy="186.2" r="1.1"/><circle cx="488.5" cy="221.9" r="1.1"/><circle cx="438.3" cy="73.4" r="1.1"/><circle cx="521.1" cy="113.1" r="1.1"/><circle cx="454.1" cy="125.0" r="1.1"/><circle cx="486.4" cy="211.9" r="1.1"/><circle cx="531.7" cy="72.7" r="1.1"/><circle cx="477.4" cy="205.5" r="1.1"/><circle cx="492.7" cy="206.2" r="1.1"/><circle cx="441.6" cy="92.3" r="1.1"/><circle cx="462.1" cy="171.2" r="1.1"/><circle cx="479.6" cy="220.1" r="1.1"/><circle cx="521.9" cy="109.7" r="1.1"/><circle cx="502.3" cy="181.6" r="1.1"/><circle cx="444.3" cy="106.1" r="1.1"/><circle cx="533.1" cy="75.0" r="1.1"/><circle cx="526.3" cy="84.9" r="1.1"/><circle cx="533.5" cy="72.5" r="1.1"/><circle cx="534.3" cy="58.1" r="1.1"/><circle cx="478.4" cy="218.7" r="1.1"/><circle cx="482.3" cy="222.8" r="1.1"/><circle cx="434.2" cy="54.9" r="1.1"/><circle cx="493.2" cy="205.9" r="1.1"/><circle cx="433.7" cy="58.9" r="1.1"/><circle cx="529.7" cy="68.5" r="1.1"/><circle cx="446.5" cy="95.8" r="1.1"/><circle cx="457.6" cy="145.3" r="1.1"/><circle cx="527.8" cy="77.1" r="1.1"/><circle cx="447.8" cy="105.0" r="1.1"/><circle cx="499.3" cy="201.7" r="1.1"/><circle cx="440.6" cy="84.8" r="1.1"/><circle cx="514.1" cy="154.1" r="1.1"/><circle cx="495.2" cy="215.0" r="1.1"/><circle cx="506.6" cy="180.4" r="1.1"/><circle cx="500.4" cy="190.3" r="1.1"/><circle cx="435.4" cy="71.9" r="1.1"/><circle cx="487.5" cy="217.7" r="1.1"/><circle cx="485.3" cy="231.8" r="1.1"/><circle cx="456.4" cy="144.3" r="1.1"/><circle cx="502.7" cy="188.9" r="1.1"/><circle cx="524.5" cy="79.2" r="1.1"/><circle cx="510.2" cy="163.7" r="1.1"/><circle cx="452.5" cy="129.8" r="1.1"/><circle cx="518.3" cy="125.1" r="1.1"/><circle cx="518.2" cy="129.7" r="1.1"/><circle cx="459.4" cy="156.9" r="1.1"/><circle cx="514.9" cy="149.2" r="1.1"/><circle cx="466.8" cy="182.4" r="1.1"/><circle cx="473.7" cy="207.0" r="1.1"/><circle cx="436.4" cy="79.1" r="1.1"/><circle cx="497.9" cy="200.6" r="1.1"/><circle cx="448.3" cy="88.2" r="1.1"/><circle cx="451.8" cy="124.3" r="1.1"/><circle cx="493.9" cy="204.3" r="1.1"/><circle cx="467.0" cy="174.6" r="1.1"/><circle cx="515.3" cy="155.6" r="1.1"/><circle cx="516.4" cy="143.2" r="1.1"/><circle cx="468.3" cy="183.8" r="1.1"/><circle cx="491.4" cy="216.6" r="1.1"/><circle cx="532.1" cy="66.4" r="1.1"/><circle cx="480.4" cy="199.6" r="1.1"/><circle cx="506.6" cy="181.3" r="1.1"/><circle cx="458.8" cy="149.3" r="1.1"/><circle cx="450.5" cy="127.7" r="1.1"/><circle cx="499.7" cy="189.1" r="1.1"/><circle cx="470.3" cy="199.2" r="1.1"/><circle cx="481.9" cy="211.6" r="1.1"/><circle cx="496.7" cy="216.2" r="1.1"/><circle cx="519.1" cy="116.6" r="1.1"/><circle cx="471.4" cy="202.4" r="1.1"/><circle cx="509.0" cy="169.6" r="1.1"/><circle cx="468.7" cy="183.1" r="1.1"/><circle cx="475.0" cy="200.9" r="1.1"/><circle cx="503.0" cy="190.0" r="1.1"/><circle cx="454.3" cy="134.9" r="1.1"/><circle cx="449.0" cy="118.5" r="1.1"/><circle cx="510.6" cy="171.1" r="1.1"/><circle cx="500.7" cy="173.8" r="1.1"/><circle cx="456.2" cy="134.0" r="1.1"/><circle cx="463.1" cy="150.3" r="1.1"/><circle cx="477.6" cy="207.3" r="1.1"/><circle cx="516.0" cy="145.4" r="1.1"/><circle cx="459.6" cy="145.9" r="1.1"/><circle cx="437.8" cy="67.1" r="1.1"/><circle cx="507.0" cy="179.1" r="1.1"/><circle cx="480.1" cy="211.2" r="1.1"/><circle cx="446.8" cy="122.4" r="1.1"/><circle cx="447.4" cy="114.9" r="1.1"/><circle cx="512.5" cy="160.6" r="1.1"/><circle cx="498.5" cy="215.2" r="1.1"/><circle cx="505.7" cy="178.1" r="1.1"/><circle cx="525.1" cy="88.4" r="1.1"/><circle cx="489.0" cy="214.3" r="1.1"/><circle cx="503.6" cy="186.7" r="1.1"/><circle cx="517.0" cy="139.8" r="1.1"/><circle cx="478.0" cy="220.7" r="1.1"/><circle cx="437.4" cy="76.5" r="1.1"/><circle cx="465.6" cy="170.2" r="1.1"/><circle cx="472.4" cy="195.0" r="1.1"/><circle cx="528.8" cy="61.4" r="1.1"/><circle cx="441.0" cy="91.8" r="1.1"/><circle cx="433.4" cy="75.3" r="1.1"/><circle cx="469.1" cy="174.2" r="1.1"/><circle cx="461.2" cy="160.2" r="1.1"/><circle cx="521.4" cy="118.9" r="1.1"/><circle cx="473.2" cy="189.2" r="1.1"/><circle cx="469.9" cy="197.0" r="1.1"/><circle cx="497.0" cy="200.2" r="1.1"/><circle cx="511.1" cy="169.5" r="1.1"/><circle cx="441.1" cy="91.1" r="1.1"/><circle cx="508.1" cy="175.8" r="1.1"/><circle cx="432.8" cy="71.1" r="1.1"/><circle cx="434.8" cy="69.8" r="1.1"/><circle cx="462.8" cy="169.2" r="1.1"/><circle cx="527.2" cy="89.6" r="1.1"/><circle cx="461.5" cy="181.1" r="1.1"/><circle cx="434.7" cy="62.9" r="1.1"/><circle cx="465.4" cy="173.4" r="1.1"/><circle cx="508.5" cy="172.6" r="1.1"/><circle cx="511.8" cy="157.8" r="1.1"/><circle cx="486.9" cy="222.3" r="1.1"/><circle cx="526.9" cy="82.2" r="1.1"/><circle cx="484.9" cy="225.3" r="1.1"/><circle cx="501.3" cy="191.1" r="1.1"/><circle cx="474.5" cy="202.7" r="1.1"/><circle cx="445.8" cy="98.6" r="1.1"/><circle cx="520.5" cy="121.3" r="1.1"/><circle cx="507.5" cy="168.7" r="1.1"/><circle cx="475.8" cy="217.0" r="1.1"/><circle cx="439.4" cy="83.6" r="1.1"/><circle cx="483.9" cy="222.5" r="1.1"/><circle cx="458.1" cy="160.6" r="1.1"/><circle cx="437.1" cy="79.8" r="1.1"/><circle cx="482.7" cy="221.8" r="1.1"/><circle cx="523.3" cy="94.9" r="1.1"/><circle cx="519.4" cy="115.7" r="1.1"/><circle cx="436.2" cy="58.5" r="1.1"/><circle cx="460.6" cy="176.0" r="1.1"/><circle cx="442.8" cy="90.7" r="1.1"/><circle cx="468.6" cy="186.7" r="1.1"/><circle cx="491.7" cy="238.4" r="1.1"/><circle cx="515.6" cy="137.5" r="1.1"/><circle cx="466.3" cy="175.5" r="1.1"/><circle cx="443.6" cy="105.0" r="1.1"/><circle cx="439.6" cy="83.8" r="1.1"/><circle cx="506.0" cy="189.3" r="1.1"/><circle cx="450.5" cy="121.4" r="1.1"/><circle cx="440.0" cy="76.7" r="1.1"/><circle cx="432.6" cy="67.1" r="1.1"/><circle cx="496.0" cy="210.8" r="1.1"/><circle cx="444.6" cy="113.1" r="1.1"/><circle cx="513.7" cy="152.0" r="1.1"/><circle cx="532.7" cy="68.5" r="1.1"/><circle cx="433.0" cy="68.5" r="1.1"/><circle cx="475.3" cy="200.8" r="1.1"/><circle cx="438.7" cy="71.0" r="1.1"/><circle cx="491.1" cy="216.4" r="1.1"/><circle cx="514.4" cy="151.7" r="1.1"/><circle cx="443.5" cy="86.1" r="1.1"/><circle cx="531.3" cy="64.7" r="1.1"/><circle cx="464.6" cy="170.9" r="1.1"/><circle cx="530.6" cy="56.0" r="1.1"/><circle cx="463.8" cy="181.8" r="1.1"/><circle cx="478.8" cy="214.0" r="1.1"/><circle cx="457.0" cy="146.7" r="1.1"/><circle cx="449.7" cy="107.1" r="1.1"/><circle cx="466.0" cy="173.4" r="1.1"/><circle cx="472.2" cy="213.9" r="1.1"/><circle cx="455.6" cy="123.6" r="1.1"/><circle cx="471.1" cy="204.8" r="1.1"/><circle cx="484.2" cy="214.0" r="1.1"/><circle cx="464.3" cy="187.4" r="1.1"/><circle cx="481.4" cy="213.2" r="1.1"/><circle cx="442.8" cy="83.0" r="1.1"/><circle cx="522.3" cy="106.8" r="1.1"/><circle cx="494.7" cy="222.1" r="1.1"/><circle cx="470.8" cy="189.4" r="1.1"/><circle cx="487.7" cy="215.0" r="1.1"/><circle cx="493.7" cy="233.5" r="1.1"/><circle cx="480.9" cy="226.0" r="1.1"/><circle cx="525.5" cy="78.2" r="1.1"/><circle cx="497.2" cy="203.8" r="1.1"/><circle cx="521.7" cy="105.5" r="1.1"/><circle cx="529.2" cy="68.7" r="1.1"/><circle cx="499.9" cy="202.3" r="1.1"/><circle cx="444.9" cy="99.6" r="1.1"/><circle cx="435.7" cy="68.1" r="1.1"/><circle cx="530.1" cy="62.7" r="1.1"/><circle cx="492.3" cy="230.4" r="1.1"/><circle cx="517.4" cy="148.4" r="1.1"/><circle cx="479.0" cy="211.8" r="1.1"/><circle cx="510.9" cy="167.2" r="1.1"/><circle cx="472.5" cy="209.0" r="1.1"/><circle cx="436.4" cy="76.3" r="1.1"/><circle cx="456.2" cy="133.5" r="1.1"/><circle cx="535.7" cy="55.9" r="1.1"/><circle cx="464.9" cy="172.2" r="1.1"/><circle cx="481.3" cy="222.3" r="1.1"/><circle cx="435.8" cy="69.4" r="1.1"/><circle cx="517.8" cy="137.6" r="1.1"/><circle cx="434.0" cy="68.3" r="1.1"/><circle cx="445.3" cy="97.2" r="1.1"/><circle cx="478.9" cy="210.7" r="1.1"/><circle cx="500.2" cy="186.4" r="1.1"/><circle cx="490.6" cy="215.3" r="1.1"/><circle cx="495.9" cy="211.9" r="1.1"/><circle cx="475.4" cy="200.2" r="1.1"/><circle cx="521.7" cy="103.4" r="1.1"/><circle cx="509.9" cy="165.6" r="1.1"/><circle cx="509.4" cy="177.3" r="1.1"/><circle cx="476.9" cy="206.1" r="1.1"/><circle cx="514.1" cy="151.3" r="1.1"/><circle cx="503.9" cy="181.1" r="1.1"/><circle cx="524.5" cy="90.6" r="1.1"/><circle cx="513.1" cy="146.6" r="1.1"/><circle cx="534.0" cy="58.4" r="1.1"/><circle cx="509.7" cy="162.4" r="1.1"/><circle cx="491.8" cy="226.9" r="1.1"/><circle cx="512.7" cy="147.8" r="1.1"/><circle cx="494.9" cy="210.8" r="1.1"/><circle cx="468.7" cy="194.4" r="1.1"/><circle cx="464.4" cy="182.8" r="1.1"/><circle cx="465.4" cy="186.5" r="1.1"/><circle cx="490.1" cy="227.3" r="1.1"/><circle cx="446.0" cy="90.9" r="1.1"/><circle cx="481.0" cy="211.7" r="1.1"/><circle cx="510.5" cy="159.0" r="1.1"/><circle cx="471.5" cy="207.9" r="1.1"/><circle cx="458.2" cy="156.0" r="1.1"/><circle cx="460.3" cy="159.9" r="1.1"/><circle cx="449.0" cy="118.5" r="1.1"/><circle cx="495.0" cy="206.9" r="1.1"/><circle cx="466.3" cy="185.7" r="1.1"/><circle cx="469.7" cy="195.8" r="1.1"/><circle cx="495.4" cy="208.9" r="1.1"/><circle cx="454.2" cy="147.2" r="1.1"/><circle cx="535.1" cy="67.6" r="1.1"/><circle cx="485.1" cy="227.1" r="1.1"/><circle cx="531.4" cy="66.6" r="1.1"/><circle cx="510.9" cy="159.7" r="1.1"/><circle cx="435.5" cy="62.2" r="1.1"/><circle cx="489.4" cy="217.9" r="1.1"/><circle cx="448.4" cy="103.6" r="1.1"/><circle cx="443.8" cy="84.5" r="1.1"/><circle cx="463.9" cy="189.8" r="1.1"/><circle cx="459.8" cy="146.5" r="1.1"/><circle cx="497.8" cy="198.8" r="1.1"/><circle cx="532.0" cy="64.3" r="1.1"/><circle cx="472.2" cy="197.9" r="1.1"/><circle cx="460.6" cy="156.9" r="1.1"/><circle cx="437.8" cy="96.0" r="1.1"/><circle cx="501.8" cy="182.0" r="1.1"/><circle cx="487.0" cy="223.4" r="1.1"/><circle cx="455.2" cy="146.3" r="1.1"/><circle cx="474.6" cy="203.5" r="1.1"/><circle cx="508.5" cy="170.5" r="1.1"/><circle cx="524.3" cy="86.6" r="1.1"/><circle cx="519.9" cy="110.1" r="1.1"/><circle cx="526.9" cy="83.6" r="1.1"/><circle cx="466.9" cy="192.9" r="1.1"/><circle cx="455.6" cy="122.6" r="1.1"/><circle cx="447.2" cy="106.3" r="1.1"/><circle cx="479.3" cy="216.3" r="1.1"/><circle cx="452.3" cy="127.4" r="1.1"/><circle cx="488.7" cy="222.7" r="1.1"/><circle cx="432.7" cy="66.3" r="1.1"/><circle cx="512.0" cy="165.5" r="1.1"/><circle cx="493.8" cy="208.4" r="1.1"/><circle cx="499.3" cy="198.8" r="1.1"/><circle cx="437.5" cy="60.1" r="1.1"/><circle cx="442.0" cy="72.1" r="1.1"/><circle cx="473.7" cy="196.2" r="1.1"/><circle cx="489.7" cy="208.8" r="1.1"/><circle cx="493.8" cy="222.2" r="1.1"/><circle cx="453.9" cy="141.9" r="1.1"/><circle cx="491.2" cy="217.9" r="1.1"/><circle cx="440.4" cy="78.8" r="1.1"/><circle cx="505.4" cy="177.5" r="1.1"/><circle cx="501.1" cy="187.8" r="1.1"/><circle cx="477.7" cy="210.3" r="1.1"/><circle cx="476.5" cy="210.5" r="1.1"/><circle cx="492.2" cy="215.6" r="1.1"/><circle cx="456.7" cy="145.5" r="1.1"/><circle cx="467.9" cy="179.7" r="1.1"/><circle cx="513.4" cy="158.7" r="1.1"/><circle cx="493.1" cy="215.1" r="1.1"/><circle cx="441.2" cy="101.7" r="1.1"/><circle cx="483.6" cy="216.8" r="1.1"/><circle cx="521.4" cy="116.9" r="1.1"/><circle cx="478.5" cy="202.9" r="1.1"/><circle cx="477.1" cy="201.2" r="1.1"/><circle cx="440.5" cy="89.8" r="1.1"/><circle cx="470.7" cy="194.4" r="1.1"/><circle cx="441.8" cy="90.2" r="1.1"/><circle cx="433.0" cy="76.7" r="1.1"/><circle cx="507.8" cy="175.1" r="1.1"/><circle cx="498.2" cy="204.3" r="1.1"/><circle cx="499.4" cy="192.7" r="1.1"/><circle cx="474.1" cy="210.0" r="1.1"/><circle cx="525.0" cy="98.8" r="1.1"/><circle cx="504.3" cy="184.8" r="1.1"/><circle cx="482.1" cy="202.6" r="1.1"/><circle cx="434.3" cy="65.0" r="1.1"/><circle cx="438.4" cy="63.8" r="1.1"/><circle cx="463.4" cy="152.8" r="1.1"/><circle cx="478.8" cy="215.8" r="1.1"/><circle cx="514.3" cy="142.7" r="1.1"/><circle cx="506.3" cy="180.6" r="1.1"/><circle cx="532.7" cy="67.9" r="1.1"/><circle cx="530.1" cy="74.8" r="1.1"/><circle cx="458.8" cy="159.5" r="1.1"/><circle cx="526.3" cy="74.4" r="1.1"/><circle cx="531.5" cy="58.9" r="1.1"/><circle cx="447.9" cy="109.9" r="1.1"/><circle cx="530.8" cy="68.3" r="1.1"/><circle cx="505.8" cy="179.7" r="1.1"/><circle cx="457.4" cy="133.1" r="1.1"/><circle cx="471.4" cy="189.2" r="1.1"/><circle cx="522.4" cy="96.6" r="1.1"/><circle cx="519.2" cy="107.8" r="1.1"/><circle cx="487.3" cy="229.9" r="1.1"/><circle cx="496.7" cy="217.2" r="1.1"/><circle cx="457.8" cy="139.1" r="1.1"/><circle cx="488.2" cy="215.1" r="1.1"/><circle cx="532.2" cy="63.1" r="1.1"/><circle cx="527.8" cy="75.4" r="1.1"/><circle cx="449.4" cy="116.8" r="1.1"/><circle cx="470.3" cy="188.4" r="1.1"/><circle cx="525.4" cy="85.5" r="1.1"/><circle cx="484.6" cy="212.6" r="1.1"/><circle cx="514.7" cy="147.8" r="1.1"/><circle cx="505.0" cy="179.9" r="1.1"/><circle cx="486.2" cy="213.6" r="1.1"/><circle cx="472.8" cy="197.6" r="1.1"/><circle cx="526.6" cy="70.4" r="1.1"/><circle cx="467.4" cy="199.0" r="1.1"/><circle cx="534.9" cy="50.9" r="1.1"/><circle cx="484.3" cy="217.6" r="1.1"/><circle cx="520.9" cy="110.8" r="1.1"/><circle cx="469.0" cy="191.3" r="1.1"/><circle cx="457.3" cy="152.6" r="1.1"/><circle cx="506.9" cy="185.5" r="1.1"/><circle cx="478.1" cy="202.9" r="1.1"/><circle cx="533.4" cy="61.7" r="1.1"/><circle cx="511.0" cy="164.8" r="1.1"/><circle cx="530.4" cy="63.2" r="1.1"/><circle cx="515.4" cy="139.3" r="1.1"/><circle cx="486.4" cy="229.3" r="1.1"/><circle cx="454.8" cy="124.8" r="1.1"/><circle cx="462.4" cy="162.7" r="1.1"/><circle cx="515.1" cy="143.9" r="1.1"/><circle cx="498.9" cy="197.8" r="1.1"/><circle cx="434.8" cy="68.5" r="1.1"/><circle cx="451.6" cy="108.7" r="1.1"/><circle cx="533.0" cy="64.3" r="1.1"/><circle cx="461.7" cy="170.7" r="1.1"/><circle cx="462.8" cy="166.4" r="1.1"/><circle cx="528.5" cy="76.2" r="1.1"/><circle cx="433.6" cy="60.7" r="1.1"/><circle cx="466.7" cy="200.0" r="1.1"/><circle cx="463.1" cy="159.3" r="1.1"/><circle cx="450.4" cy="133.3" r="1.1"/><circle cx="483.5" cy="218.5" r="1.1"/><circle cx="512.5" cy="156.8" r="1.1"/><circle cx="535.7" cy="51.9" r="1.1"/><circle cx="529.8" cy="78.9" r="1.1"/><circle cx="528.0" cy="74.0" r="1.1"/><circle cx="436.9" cy="65.2" r="1.1"/><circle cx="480.8" cy="218.2" r="1.1"/><circle cx="443.6" cy="96.1" r="1.1"/><circle cx="449.9" cy="126.1" r="1.1"/><circle cx="499.9" cy="206.9" r="1.1"/><circle cx="475.1" cy="211.4" r="1.1"/><circle cx="529.4" cy="70.7" r="1.1"/><circle cx="450.7" cy="118.9" r="1.1"/><circle cx="442.8" cy="74.7" r="1.1"/><circle cx="502.8" cy="187.2" r="1.1"/><circle cx="476.0" cy="208.1" r="1.1"/><circle cx="452.1" cy="116.7" r="1.1"/><circle cx="453.7" cy="123.7" r="1.1"/><circle cx="444.4" cy="92.1" r="1.1"/><circle cx="482.8" cy="223.3" r="1.1"/><circle cx="482.7" cy="226.0" r="1.1"/><circle cx="451.2" cy="127.8" r="1.1"/><circle cx="446.9" cy="96.6" r="1.1"/><circle cx="525.9" cy="93.0" r="1.1"/><circle cx="497.0" cy="212.5" r="1.1"/><circle cx="452.7" cy="117.5" r="1.1"/><circle cx="439.2" cy="73.5" r="1.1"/><circle cx="503.1" cy="190.6" r="1.1"/><circle cx="438.6" cy="81.3" r="1.1"/><circle cx="432.5" cy="58.3" r="1.1"/><circle cx="437.1" cy="74.4" r="1.1"/><circle cx="502.0" cy="182.6" r="1.1"/><circle cx="461.4" cy="178.5" r="1.1"/><circle cx="446.4" cy="104.5" r="1.1"/><circle cx="492.8" cy="218.6" r="1.1"/><circle cx="479.8" cy="207.7" r="1.1"/><circle cx="507.3" cy="191.0" r="1.1"/><circle cx="516.9" cy="132.8" r="1.1"/><circle cx="461.0" cy="168.9" r="1.1"/><circle cx="474.6" cy="207.8" r="1.1"/><circle cx="496.5" cy="208.4" r="1.1"/><circle cx="518.7" cy="122.0" r="1.1"/><circle cx="508.3" cy="177.5" r="1.1"/><circle cx="449.7" cy="104.3" r="1.1"/><circle cx="487.7" cy="225.6" r="1.1"/><circle cx="504.5" cy="190.2" r="1.1"/><circle cx="523.2" cy="102.3" r="1.1"/><circle cx="522.1" cy="107.0" r="1.1"/><circle cx="469.5" cy="188.5" r="1.1"/><circle cx="516.2" cy="129.6" r="1.1"/><circle cx="519.5" cy="119.8" r="1.1"/><circle cx="506.6" cy="180.0" r="1.1"/><circle cx="494.5" cy="220.5" r="1.1"/><circle cx="459.4" cy="153.6" r="1.1"/><circle cx="459.3" cy="153.7" r="1.1"/><circle cx="446.2" cy="103.3" r="1.1"/><circle cx="473.0" cy="192.7" r="1.1"/><circle cx="480.3" cy="212.2" r="1.1"/><circle cx="518.1" cy="128.3" r="1.1"/><circle cx="488.5" cy="220.6" r="1.1"/><circle cx="523.4" cy="96.3" r="1.1"/><circle cx="464.5" cy="174.0" r="1.1"/><circle cx="455.8" cy="130.7" r="1.1"/><circle cx="444.5" cy="85.2" r="1.1"/><circle cx="503.4" cy="169.4" r="1.1"/><circle cx="441.6" cy="74.4" r="1.1"/><circle cx="470.2" cy="182.4" r="1.1"/><circle cx="497.4" cy="208.0" r="1.1"/><circle cx="501.3" cy="190.8" r="1.1"/><circle cx="520.3" cy="120.5" r="1.1"/><circle cx="468.2" cy="197.3" r="1.1"/><circle cx="520.7" cy="105.9" r="1.1"/><circle cx="439.5" cy="91.0" r="1.1"/><circle cx="439.8" cy="82.4" r="1.1"/><circle cx="517.6" cy="133.0" r="1.1"/><circle cx="485.9" cy="230.8" r="1.1"/><circle cx="511.5" cy="152.2" r="1.1"/><circle cx="443.1" cy="84.7" r="1.1"/><circle cx="490.6" cy="218.4" r="1.1"/><circle cx="524.0" cy="88.6" r="1.1"/><circle cx="444.9" cy="95.1" r="1.1"/><circle cx="517.1" cy="121.9" r="1.1"/><circle cx="465.6" cy="179.1" r="1.1"/><circle cx="481.7" cy="215.3" r="1.1"/><circle cx="534.4" cy="79.5" r="1.1"/><circle cx="527.2" cy="88.0" r="1.1"/><circle cx="492.2" cy="219.9" r="1.1"/><circle cx="528.8" cy="63.1" r="1.1"/><circle cx="485.5" cy="221.1" r="1.1"/><circle cx="435.1" cy="62.5" r="1.1"/><circle cx="453.3" cy="137.9" r="1.1"/><circle cx="500.6" cy="194.7" r="1.1"/><circle cx="515.8" cy="140.9" r="1.1"/><circle cx="448.0" cy="107.6" r="1.1"/><circle cx="508.8" cy="168.7" r="1.1"/></g>
</g>
<rect x="39.40" y="39.75" width="228.10" height="205.75" fill="none" stroke="#4d4d4d" stroke-width="0.9"/>
<rect x="318.60" y="39.75" width="227.80" height="205.75" fill="none" stroke="#4d4d4d" stroke-width="0.9"/>
<line x1="36.80" y1="39.75" x2="39.40" y2="39.75" stroke="#4d4d4d" stroke-width="0.9"/>
<text x="34.60" y="42.50" text-anchor="end" class="tk">15.75</text>
<line x1="36.80" y1="86.40" x2="39.40" y2="86.40" stroke="#4d4d4d" stroke-width="0.9"/>
<text x="34.60" y="89.15" text-anchor="end" class="tk">15.80</text>
<line x1="36.80" y1="133.05" x2="39.40" y2="133.05" stroke="#4d4d4d" stroke-width="0.9"/>
<text x="34.60" y="135.80" text-anchor="end" class="tk">15.85</text>
<line x1="36.80" y1="179.70" x2="39.40" y2="179.70" stroke="#4d4d4d" stroke-width="0.9"/>
<text x="34.60" y="182.45" text-anchor="end" class="tk">15.90</text>
<line x1="36.80" y1="226.35" x2="39.40" y2="226.35" stroke="#4d4d4d" stroke-width="0.9"/>
<text x="34.60" y="229.10" text-anchor="end" class="tk">15.95</text>
<line x1="316.00" y1="39.75" x2="318.60" y2="39.75" stroke="#4d4d4d" stroke-width="0.9"/>
<text x="313.40" y="42.50" text-anchor="end" class="tk">15.75</text>
<line x1="316.00" y1="86.40" x2="318.60" y2="86.40" stroke="#4d4d4d" stroke-width="0.9"/>
<text x="313.40" y="89.15" text-anchor="end" class="tk">15.80</text>
<line x1="316.00" y1="133.05" x2="318.60" y2="133.05" stroke="#4d4d4d" stroke-width="0.9"/>
<text x="313.40" y="135.80" text-anchor="end" class="tk">15.85</text>
<line x1="316.00" y1="179.70" x2="318.60" y2="179.70" stroke="#4d4d4d" stroke-width="0.9"/>
<text x="313.40" y="182.45" text-anchor="end" class="tk">15.90</text>
<line x1="316.00" y1="226.35" x2="318.60" y2="226.35" stroke="#4d4d4d" stroke-width="0.9"/>
<text x="313.40" y="229.10" text-anchor="end" class="tk">15.95</text>
<line x1="65.60" y1="245.50" x2="65.60" y2="248.10" stroke="#4d4d4d" stroke-width="0.9"/>
<text x="65.60" y="255.9" text-anchor="middle" class="tk">5500</text>
<line x1="98.38" y1="245.50" x2="98.38" y2="248.10" stroke="#4d4d4d" stroke-width="0.9"/>
<text x="98.38" y="255.9" text-anchor="middle" class="tk">6000</text>
<line x1="131.17" y1="245.50" x2="131.17" y2="248.10" stroke="#4d4d4d" stroke-width="0.9"/>
<text x="131.17" y="255.9" text-anchor="middle" class="tk">6500</text>
<line x1="163.95" y1="245.50" x2="163.95" y2="248.10" stroke="#4d4d4d" stroke-width="0.9"/>
<text x="163.95" y="255.9" text-anchor="middle" class="tk">7000</text>
<line x1="196.74" y1="245.50" x2="196.74" y2="248.10" stroke="#4d4d4d" stroke-width="0.9"/>
<text x="196.74" y="255.9" text-anchor="middle" class="tk">7500</text>
<line x1="229.53" y1="245.50" x2="229.53" y2="248.10" stroke="#4d4d4d" stroke-width="0.9"/>
<text x="229.53" y="255.9" text-anchor="middle" class="tk">8000</text>
<line x1="262.31" y1="245.50" x2="262.31" y2="248.10" stroke="#4d4d4d" stroke-width="0.9"/>
<text x="262.31" y="255.9" text-anchor="middle" class="tk">8500</text>
<line x1="328.40" y1="245.50" x2="328.40" y2="248.10" stroke="#4d4d4d" stroke-width="0.9"/>
<text x="328.40" y="255.9" text-anchor="middle" class="tk">0.0</text>
<line x1="380.32" y1="245.50" x2="380.32" y2="248.10" stroke="#4d4d4d" stroke-width="0.9"/>
<text x="380.32" y="255.9" text-anchor="middle" class="tk">0.5</text>
<line x1="432.25" y1="245.50" x2="432.25" y2="248.10" stroke="#4d4d4d" stroke-width="0.9"/>
<text x="432.25" y="255.9" text-anchor="middle" class="tk">1.0</text>
<line x1="484.17" y1="245.50" x2="484.17" y2="248.10" stroke="#4d4d4d" stroke-width="0.9"/>
<text x="484.17" y="255.9" text-anchor="middle" class="tk">1.5</text>
<line x1="536.10" y1="245.50" x2="536.10" y2="248.10" stroke="#4d4d4d" stroke-width="0.9"/>
<text x="536.10" y="255.9" text-anchor="middle" class="tk">2.0</text>
<text x="275" y="11" text-anchor="middle" class="st">Light Curve ID: OGLE-SMC-CEP-4998</text>
<text x="153.45" y="36.2" text-anchor="middle" class="at">Original light curve</text>
<text x="432.50" y="36.2" text-anchor="middle" class="at">Phase-folded light curve</text>
<text x="153.45" y="267" text-anchor="middle" class="lb">Time (HJD - 2450000)</text>
<text x="432.50" y="266.8" text-anchor="middle" class="lb">Phase</text>
<text transform="translate(9.3 142.62) rotate(-90)" text-anchor="middle" class="lb">Magnitude</text>
<text transform="translate(289.1 142.62) rotate(-90)" text-anchor="middle" class="lb">Magnitude</text></svg>
</body></html>
